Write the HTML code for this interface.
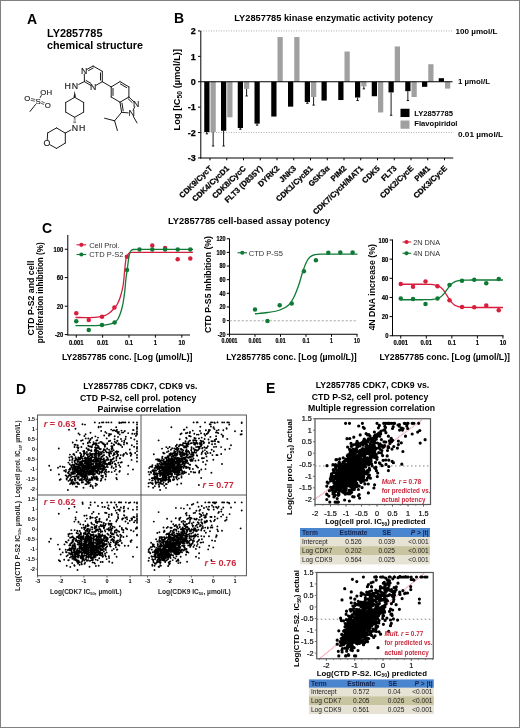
<!DOCTYPE html>
<html><head><meta charset="utf-8"><title>Figure</title>
<style>
html,body{margin:0;padding:0;background:#fff;}
body{width:520px;height:728px;overflow:hidden;position:relative;}
svg{display:block;position:absolute;left:0;top:0;font-family:"Liberation Sans",Arial,Helvetica,sans-serif;}
.frame{position:absolute;left:0;top:0;width:518px;height:726px;border:1px solid #808080;}
</style></head><body>
<svg width="520" height="728" viewBox="0 0 520 728">
<g id="panelA">
<text x="27.00" y="23.60" font-size="14" font-weight="bold">A</text>
<text x="47.00" y="36.60" font-size="10.9" font-weight="bold" textLength="55.50" lengthAdjust="spacingAndGlyphs">LY2857785</text>
<text x="47.00" y="48.80" font-size="10.9" font-weight="bold" textLength="96.00" lengthAdjust="spacingAndGlyphs">chemical structure</text>
<g stroke-linecap="round">
<text x="38.20" y="104.01" font-size="7.8" text-anchor="middle" fill="#1a1a1a" stroke="#222" stroke-width="0.15">S</text>
<text x="27.20" y="101.21" font-size="7.8" text-anchor="middle" fill="#1a1a1a" stroke="#222" stroke-width="0.15">O</text>
<text x="47.90" y="107.81" font-size="7.8" text-anchor="middle" fill="#1a1a1a" stroke="#222" stroke-width="0.15">O</text>
<text x="43.20" y="94.81" font-size="7.8" text-anchor="middle" fill="#1a1a1a" stroke="#222" stroke-width="0.15">O</text>
<text x="49.20" y="94.81" font-size="7.8" text-anchor="middle" fill="#1a1a1a" stroke="#222" stroke-width="0.15">H</text>
<line x1="34.93" y1="99.44" x2="31.49" y2="98.56" stroke="#1a1a1a" stroke-width="0.7"/>
<line x1="34.49" y1="101.18" x2="31.05" y2="100.31" stroke="#1a1a1a" stroke-width="0.7"/>
<line x1="41.22" y1="103.35" x2="43.66" y2="104.31" stroke="#1a1a1a" stroke-width="0.7"/>
<line x1="41.88" y1="101.68" x2="44.32" y2="102.63" stroke="#1a1a1a" stroke-width="0.7"/>
<line x1="40.21" y1="97.51" x2="41.29" y2="95.51" stroke="#1a1a1a" stroke-width="1.0"/>
<line x1="35.58" y1="104.49" x2="30.00" y2="111.50" stroke="#1a1a1a" stroke-width="1.0"/>
<line x1="86.93" y1="69.36" x2="93.10" y2="66.00" stroke="#1a1a1a" stroke-width="1.0"/>
<line x1="88.54" y1="70.54" x2="93.22" y2="67.98" stroke="#1a1a1a" stroke-width="1.0"/>
<line x1="93.10" y1="66.00" x2="102.30" y2="71.30" stroke="#1a1a1a" stroke-width="1.0"/>
<line x1="102.30" y1="71.30" x2="102.30" y2="81.70" stroke="#1a1a1a" stroke-width="1.0"/>
<line x1="100.50" y1="72.86" x2="100.50" y2="80.14" stroke="#1a1a1a" stroke-width="1.0"/>
<line x1="102.30" y1="81.70" x2="95.90" y2="85.40" stroke="#1a1a1a" stroke-width="1.0"/>
<line x1="90.72" y1="85.37" x2="84.40" y2="81.60" stroke="#1a1a1a" stroke-width="1.0"/>
<line x1="90.88" y1="83.37" x2="86.08" y2="80.51" stroke="#1a1a1a" stroke-width="1.0"/>
<line x1="84.40" y1="81.60" x2="84.33" y2="74.00" stroke="#1a1a1a" stroke-width="1.0"/>
<text x="84.30" y="73.97" font-size="8.8" text-anchor="middle" fill="#1a1a1a" stroke="#222" stroke-width="0.15">N</text>
<text x="93.30" y="90.07" font-size="8.8" text-anchor="middle" fill="#1a1a1a" stroke="#222" stroke-width="0.15">N</text>
<text x="74.85" y="89.37" font-size="8.8" text-anchor="middle" fill="#1a1a1a" stroke="#222" stroke-width="0.15">N</text>
<text x="67.75" y="89.37" font-size="8.8" text-anchor="middle" fill="#1a1a1a" stroke="#222" stroke-width="0.15">H</text>
<line x1="78.73" y1="84.40" x2="84.40" y2="81.60" stroke="#1a1a1a" stroke-width="1.0"/>
<line x1="74.70" y1="97.30" x2="83.65" y2="102.50" stroke="#1a1a1a" stroke-width="1.0"/>
<line x1="83.65" y1="102.50" x2="83.65" y2="112.10" stroke="#1a1a1a" stroke-width="1.0"/>
<line x1="83.65" y1="112.10" x2="74.70" y2="117.30" stroke="#1a1a1a" stroke-width="1.0"/>
<line x1="74.70" y1="117.30" x2="65.70" y2="112.10" stroke="#1a1a1a" stroke-width="1.0"/>
<line x1="65.70" y1="112.10" x2="65.70" y2="102.50" stroke="#1a1a1a" stroke-width="1.0"/>
<line x1="65.70" y1="102.50" x2="74.70" y2="97.30" stroke="#1a1a1a" stroke-width="1.0"/>
<polygon points="74.7,90.8 75.9,97.3 73.5,97.3" fill="#1a1a1a"/>
<line x1="74.30" y1="118.40" x2="75.10" y2="118.40" stroke="#1a1a1a" stroke-width="0.55"/>
<line x1="74.08" y1="119.80" x2="75.32" y2="119.80" stroke="#1a1a1a" stroke-width="0.55"/>
<line x1="73.86" y1="121.20" x2="75.54" y2="121.20" stroke="#1a1a1a" stroke-width="0.55"/>
<line x1="73.64" y1="122.60" x2="75.76" y2="122.60" stroke="#1a1a1a" stroke-width="0.55"/>
<text x="74.85" y="131.07" font-size="8.8" text-anchor="middle" fill="#1a1a1a" stroke="#222" stroke-width="0.15">N</text>
<text x="82.20" y="131.07" font-size="8.8" text-anchor="middle" fill="#1a1a1a" stroke="#222" stroke-width="0.15">H</text>
<line x1="70.86" y1="129.97" x2="65.30" y2="133.10" stroke="#1a1a1a" stroke-width="1.0"/>
<line x1="65.30" y1="133.10" x2="56.50" y2="127.90" stroke="#1a1a1a" stroke-width="1.0"/>
<line x1="56.50" y1="127.90" x2="47.70" y2="132.90" stroke="#1a1a1a" stroke-width="1.0"/>
<line x1="47.70" y1="132.90" x2="47.23" y2="139.71" stroke="#1a1a1a" stroke-width="1.0"/>
<line x1="49.79" y1="144.66" x2="56.50" y2="148.40" stroke="#1a1a1a" stroke-width="1.0"/>
<line x1="56.50" y1="148.40" x2="65.30" y2="143.10" stroke="#1a1a1a" stroke-width="1.0"/>
<line x1="65.30" y1="143.10" x2="65.30" y2="133.10" stroke="#1a1a1a" stroke-width="1.0"/>
<text x="47.00" y="146.27" font-size="8.8" text-anchor="middle" fill="#1a1a1a" stroke="#222" stroke-width="0.15">O</text>
<line x1="102.30" y1="81.70" x2="111.20" y2="86.90" stroke="#1a1a1a" stroke-width="1.0"/>
<line x1="111.20" y1="86.90" x2="120.00" y2="81.60" stroke="#1a1a1a" stroke-width="1.0"/>
<line x1="120.00" y1="81.60" x2="128.90" y2="86.90" stroke="#1a1a1a" stroke-width="1.0"/>
<line x1="120.41" y1="83.94" x2="126.64" y2="87.65" stroke="#1a1a1a" stroke-width="1.0"/>
<line x1="128.90" y1="86.90" x2="128.90" y2="97.00" stroke="#1a1a1a" stroke-width="1.0"/>
<line x1="128.90" y1="97.00" x2="120.00" y2="102.20" stroke="#1a1a1a" stroke-width="1.0"/>
<line x1="120.00" y1="102.20" x2="111.20" y2="97.00" stroke="#1a1a1a" stroke-width="1.0"/>
<line x1="111.20" y1="97.00" x2="111.20" y2="86.90" stroke="#1a1a1a" stroke-width="1.0"/>
<line x1="113.00" y1="95.48" x2="113.00" y2="88.42" stroke="#1a1a1a" stroke-width="1.0"/>
<line x1="128.90" y1="97.00" x2="133.87" y2="101.70" stroke="#1a1a1a" stroke-width="1.0"/>
<line x1="128.16" y1="98.78" x2="132.14" y2="102.54" stroke="#1a1a1a" stroke-width="1.0"/>
<line x1="134.74" y1="106.86" x2="133.06" y2="110.24" stroke="#1a1a1a" stroke-width="1.0"/>
<line x1="128.21" y1="112.90" x2="121.60" y2="112.30" stroke="#1a1a1a" stroke-width="1.0"/>
<line x1="121.60" y1="112.30" x2="120.00" y2="102.20" stroke="#1a1a1a" stroke-width="1.0"/>
<line x1="123.19" y1="110.81" x2="121.97" y2="103.13" stroke="#1a1a1a" stroke-width="1.0"/>
<text x="136.20" y="107.07" font-size="8.8" text-anchor="middle" fill="#1a1a1a" stroke="#222" stroke-width="0.15">N</text>
<text x="131.60" y="116.37" font-size="8.8" text-anchor="middle" fill="#1a1a1a" stroke="#222" stroke-width="0.15">N</text>
<line x1="133.35" y1="116.35" x2="137.00" y2="122.90" stroke="#1a1a1a" stroke-width="1.0"/>
<line x1="121.60" y1="112.30" x2="114.60" y2="120.80" stroke="#1a1a1a" stroke-width="1.0"/>
<line x1="114.60" y1="120.80" x2="104.60" y2="118.20" stroke="#1a1a1a" stroke-width="1.0"/>
<line x1="114.60" y1="120.80" x2="117.40" y2="130.50" stroke="#1a1a1a" stroke-width="1.0"/>
</g>
</g>
<g id="panelB">
<text x="174.00" y="23.40" font-size="14" font-weight="bold">B</text>
<text x="234.25" y="20.60" font-size="9.3" font-weight="bold" textLength="198.75" lengthAdjust="spacingAndGlyphs">LY2857785 kinase enzymatic activity potency</text>
<line x1="201.00" y1="30.95" x2="452.50" y2="30.95" stroke="#999" stroke-width="0.8" stroke-dasharray="1 1.5"/>
<line x1="201.00" y1="132.55" x2="452.50" y2="132.55" stroke="#999" stroke-width="0.8" stroke-dasharray="1 1.5"/>
<rect x="210.50" y="81.75" width="5.25" height="50.29" fill="#a0a0a0"/>
<line x1="213.10" y1="132.04" x2="213.10" y2="146.01" stroke="#000" stroke-width="0.9"/>
<line x1="211.90" y1="146.01" x2="214.30" y2="146.01" stroke="#000" stroke-width="0.9"/>
<rect x="204.25" y="81.75" width="5.25" height="50.29" fill="#000"/>
<line x1="206.85" y1="132.04" x2="206.85" y2="133.82" stroke="#000" stroke-width="0.9"/>
<line x1="205.65" y1="133.82" x2="208.05" y2="133.82" stroke="#000" stroke-width="0.9"/>
<rect x="227.25" y="81.75" width="5.25" height="35.56" fill="#a0a0a0"/>
<rect x="221.00" y="81.75" width="5.25" height="49.02" fill="#000"/>
<line x1="223.60" y1="130.77" x2="223.60" y2="146.01" stroke="#000" stroke-width="0.9"/>
<line x1="222.40" y1="146.01" x2="224.80" y2="146.01" stroke="#000" stroke-width="0.9"/>
<rect x="244.00" y="81.75" width="5.25" height="7.11" fill="#a0a0a0"/>
<line x1="246.60" y1="88.86" x2="246.60" y2="95.97" stroke="#000" stroke-width="0.9"/>
<line x1="245.40" y1="95.97" x2="247.80" y2="95.97" stroke="#000" stroke-width="0.9"/>
<rect x="237.75" y="81.75" width="5.25" height="46.23" fill="#000"/>
<line x1="240.35" y1="127.98" x2="240.35" y2="129.25" stroke="#000" stroke-width="0.9"/>
<line x1="239.15" y1="129.25" x2="241.55" y2="129.25" stroke="#000" stroke-width="0.9"/>
<rect x="254.50" y="81.75" width="5.25" height="41.91" fill="#000"/>
<line x1="257.10" y1="123.66" x2="257.10" y2="125.18" stroke="#000" stroke-width="0.9"/>
<line x1="255.90" y1="125.18" x2="258.30" y2="125.18" stroke="#000" stroke-width="0.9"/>
<rect x="277.50" y="37.05" width="5.25" height="44.70" fill="#a0a0a0"/>
<rect x="271.25" y="81.75" width="5.25" height="34.80" fill="#000"/>
<rect x="294.25" y="37.05" width="5.25" height="44.70" fill="#a0a0a0"/>
<rect x="288.00" y="81.75" width="5.25" height="24.89" fill="#000"/>
<rect x="311.00" y="81.75" width="5.25" height="15.24" fill="#a0a0a0"/>
<line x1="313.60" y1="96.99" x2="313.60" y2="105.12" stroke="#000" stroke-width="0.9"/>
<line x1="312.40" y1="105.12" x2="314.80" y2="105.12" stroke="#000" stroke-width="0.9"/>
<rect x="304.75" y="81.75" width="5.25" height="20.32" fill="#000"/>
<line x1="307.35" y1="102.07" x2="307.35" y2="103.34" stroke="#000" stroke-width="0.9"/>
<line x1="306.15" y1="103.34" x2="308.55" y2="103.34" stroke="#000" stroke-width="0.9"/>
<rect x="321.50" y="81.75" width="5.25" height="18.80" fill="#000"/>
<rect x="344.50" y="51.52" width="5.25" height="30.23" fill="#a0a0a0"/>
<rect x="338.25" y="81.75" width="5.25" height="18.29" fill="#000"/>
<rect x="361.25" y="81.75" width="5.25" height="4.57" fill="#a0a0a0"/>
<line x1="363.85" y1="86.32" x2="363.85" y2="88.86" stroke="#000" stroke-width="0.9"/>
<line x1="362.65" y1="88.86" x2="365.05" y2="88.86" stroke="#000" stroke-width="0.9"/>
<rect x="355.00" y="81.75" width="5.25" height="15.75" fill="#000"/>
<line x1="357.60" y1="97.50" x2="357.60" y2="100.55" stroke="#000" stroke-width="0.9"/>
<line x1="356.40" y1="100.55" x2="358.80" y2="100.55" stroke="#000" stroke-width="0.9"/>
<rect x="378.00" y="81.75" width="5.25" height="30.73" fill="#a0a0a0"/>
<rect x="371.75" y="81.75" width="5.25" height="14.48" fill="#000"/>
<rect x="394.75" y="46.44" width="5.25" height="35.31" fill="#a0a0a0"/>
<rect x="388.50" y="81.75" width="5.25" height="10.67" fill="#000"/>
<line x1="391.10" y1="92.42" x2="391.10" y2="115.28" stroke="#000" stroke-width="0.9"/>
<line x1="389.90" y1="115.28" x2="392.30" y2="115.28" stroke="#000" stroke-width="0.9"/>
<rect x="411.50" y="81.75" width="5.25" height="15.24" fill="#a0a0a0"/>
<rect x="405.25" y="81.75" width="5.25" height="9.40" fill="#000"/>
<line x1="407.85" y1="91.15" x2="407.85" y2="100.55" stroke="#000" stroke-width="0.9"/>
<line x1="406.65" y1="100.55" x2="409.05" y2="100.55" stroke="#000" stroke-width="0.9"/>
<rect x="428.25" y="64.22" width="5.25" height="17.53" fill="#a0a0a0"/>
<rect x="422.00" y="81.75" width="5.25" height="5.08" fill="#000"/>
<rect x="445.00" y="81.75" width="5.25" height="6.86" fill="#a0a0a0"/>
<rect x="438.75" y="78.19" width="5.25" height="3.56" fill="#000"/>
<line x1="200.80" y1="31.00" x2="200.80" y2="158.50" stroke="#000" stroke-width="1"/>
<line x1="200.50" y1="81.75" x2="452.50" y2="81.75" stroke="#000" stroke-width="1"/>
<line x1="200.00" y1="158.00" x2="453.25" y2="158.00" stroke="#000" stroke-width="1"/>
<line x1="198.00" y1="30.95" x2="200.50" y2="30.95" stroke="#000" stroke-width="1"/>
<text x="195.80" y="34.15" font-size="9.0" font-weight="bold" text-anchor="end" stroke="#000" stroke-width="0.25">2</text>
<line x1="198.00" y1="56.35" x2="200.50" y2="56.35" stroke="#000" stroke-width="1"/>
<text x="195.80" y="59.55" font-size="9.0" font-weight="bold" text-anchor="end" stroke="#000" stroke-width="0.25">1</text>
<line x1="198.00" y1="81.75" x2="200.50" y2="81.75" stroke="#000" stroke-width="1"/>
<text x="195.80" y="84.95" font-size="9.0" font-weight="bold" text-anchor="end" stroke="#000" stroke-width="0.25">0</text>
<line x1="198.00" y1="107.15" x2="200.50" y2="107.15" stroke="#000" stroke-width="1"/>
<text x="195.80" y="110.35" font-size="9.0" font-weight="bold" text-anchor="end" stroke="#000" stroke-width="0.25">-1</text>
<line x1="198.00" y1="132.55" x2="200.50" y2="132.55" stroke="#000" stroke-width="1"/>
<text x="195.80" y="135.75" font-size="9.0" font-weight="bold" text-anchor="end" stroke="#000" stroke-width="0.25">-2</text>
<line x1="198.00" y1="157.95" x2="200.50" y2="157.95" stroke="#000" stroke-width="1"/>
<text x="195.80" y="161.15" font-size="9.0" font-weight="bold" text-anchor="end" stroke="#000" stroke-width="0.25">-3</text>
<line x1="210.00" y1="158.00" x2="210.00" y2="160.30" stroke="#000" stroke-width="1"/>
<text x="212.90" y="169.00" font-size="7.8" font-weight="bold" text-anchor="end" transform="rotate(-44 212.90 169.00)" stroke="#000" stroke-width="0.25">CDK9/CycT</text>
<line x1="226.75" y1="158.00" x2="226.75" y2="160.30" stroke="#000" stroke-width="1"/>
<text x="229.65" y="169.00" font-size="7.8" font-weight="bold" text-anchor="end" transform="rotate(-44 229.65 169.00)" stroke="#000" stroke-width="0.25">CDK4/CycD1</text>
<line x1="243.50" y1="158.00" x2="243.50" y2="160.30" stroke="#000" stroke-width="1"/>
<text x="246.40" y="169.00" font-size="7.8" font-weight="bold" text-anchor="end" transform="rotate(-44 246.40 169.00)" stroke="#000" stroke-width="0.25">CDK8/CycC</text>
<line x1="260.25" y1="158.00" x2="260.25" y2="160.30" stroke="#000" stroke-width="1"/>
<text x="263.15" y="169.00" font-size="7.8" font-weight="bold" text-anchor="end" transform="rotate(-44 263.15 169.00)" stroke="#000" stroke-width="0.25">FLT3 (D835Y)</text>
<line x1="277.00" y1="158.00" x2="277.00" y2="160.30" stroke="#000" stroke-width="1"/>
<text x="279.90" y="169.00" font-size="7.8" font-weight="bold" text-anchor="end" transform="rotate(-44 279.90 169.00)" stroke="#000" stroke-width="0.25">DYRK2</text>
<line x1="293.75" y1="158.00" x2="293.75" y2="160.30" stroke="#000" stroke-width="1"/>
<text x="296.65" y="169.00" font-size="7.8" font-weight="bold" text-anchor="end" transform="rotate(-44 296.65 169.00)" stroke="#000" stroke-width="0.25">JNK3</text>
<line x1="310.50" y1="158.00" x2="310.50" y2="160.30" stroke="#000" stroke-width="1"/>
<text x="313.40" y="169.00" font-size="7.8" font-weight="bold" text-anchor="end" transform="rotate(-44 313.40 169.00)" stroke="#000" stroke-width="0.25">CDK1/CycB1</text>
<line x1="327.25" y1="158.00" x2="327.25" y2="160.30" stroke="#000" stroke-width="1"/>
<text x="330.15" y="169.00" font-size="7.8" font-weight="bold" text-anchor="end" transform="rotate(-44 330.15 169.00)" stroke="#000" stroke-width="0.25">GSK3α</text>
<line x1="344.00" y1="158.00" x2="344.00" y2="160.30" stroke="#000" stroke-width="1"/>
<text x="346.90" y="169.00" font-size="7.8" font-weight="bold" text-anchor="end" transform="rotate(-44 346.90 169.00)" stroke="#000" stroke-width="0.25">PIM2</text>
<line x1="360.75" y1="158.00" x2="360.75" y2="160.30" stroke="#000" stroke-width="1"/>
<text x="363.65" y="169.00" font-size="7.8" font-weight="bold" text-anchor="end" transform="rotate(-44 363.65 169.00)" stroke="#000" stroke-width="0.25">CDK7/CycH/MAT1</text>
<line x1="377.50" y1="158.00" x2="377.50" y2="160.30" stroke="#000" stroke-width="1"/>
<text x="380.40" y="169.00" font-size="7.8" font-weight="bold" text-anchor="end" transform="rotate(-44 380.40 169.00)" stroke="#000" stroke-width="0.25">CDK5</text>
<line x1="394.25" y1="158.00" x2="394.25" y2="160.30" stroke="#000" stroke-width="1"/>
<text x="397.15" y="169.00" font-size="7.8" font-weight="bold" text-anchor="end" transform="rotate(-44 397.15 169.00)" stroke="#000" stroke-width="0.25">FLT3</text>
<line x1="411.00" y1="158.00" x2="411.00" y2="160.30" stroke="#000" stroke-width="1"/>
<text x="413.90" y="169.00" font-size="7.8" font-weight="bold" text-anchor="end" transform="rotate(-44 413.90 169.00)" stroke="#000" stroke-width="0.25">CDK2/CycE</text>
<line x1="427.75" y1="158.00" x2="427.75" y2="160.30" stroke="#000" stroke-width="1"/>
<text x="430.65" y="169.00" font-size="7.8" font-weight="bold" text-anchor="end" transform="rotate(-44 430.65 169.00)" stroke="#000" stroke-width="0.25">PIM1</text>
<line x1="444.50" y1="158.00" x2="444.50" y2="160.30" stroke="#000" stroke-width="1"/>
<text x="447.40" y="169.00" font-size="7.8" font-weight="bold" text-anchor="end" transform="rotate(-44 447.40 169.00)" stroke="#000" stroke-width="0.25">CDK3/CycE</text>
<text transform="translate(180.2 89.7) rotate(-90)" font-size="9.3" font-weight="bold" text-anchor="middle" textLength="81.4" lengthAdjust="spacingAndGlyphs">Log [IC<tspan font-size="6.8" dy="1.6">50</tspan><tspan dy="-1.6"> (µmol/L)]</tspan></text>
<text x="455.50" y="34.30" font-size="8.1" font-weight="bold" textLength="42.00" lengthAdjust="spacingAndGlyphs">100 µmol/L</text>
<text x="458.00" y="84.30" font-size="8.1" font-weight="bold" textLength="32.00" lengthAdjust="spacingAndGlyphs">1 µmol/L</text>
<text x="458.00" y="136.60" font-size="8.1" font-weight="bold" textLength="45.00" lengthAdjust="spacingAndGlyphs">0.01 µmol/L</text>
<rect x="400.50" y="108.75" width="9.00" height="8.25" fill="#000"/>
<rect x="400.50" y="120.50" width="9.00" height="8.25" fill="#a0a0a0"/>
<text x="414.25" y="116.00" font-size="7.6" font-weight="bold" textLength="38.75" lengthAdjust="spacingAndGlyphs">LY2857785</text>
<text x="414.25" y="126.20" font-size="7.6" font-weight="bold" textLength="43.25" lengthAdjust="spacingAndGlyphs">Flavopiridol</text>
</g>
<g id="panelC">
<text x="42.00" y="232.60" font-size="14" font-weight="bold">C</text>
<text x="168.00" y="224.40" font-size="9.3" font-weight="bold" textLength="162.20" lengthAdjust="spacingAndGlyphs">LY2857785 cell-based assay potency</text>
<line x1="67.80" y1="235.00" x2="67.80" y2="335.50" stroke="#000" stroke-width="1"/>
<line x1="67.80" y1="335.00" x2="190.00" y2="335.00" stroke="#000" stroke-width="1"/>
<line x1="64.80" y1="249.25" x2="67.80" y2="249.25" stroke="#000" stroke-width="1"/>
<text x="63.40" y="251.75" font-size="7.0" font-weight="bold" text-anchor="end" textLength="9.81" lengthAdjust="spacingAndGlyphs" stroke="#000" stroke-width="0.2">100</text>
<line x1="64.80" y1="277.60" x2="67.80" y2="277.60" stroke="#000" stroke-width="1"/>
<text x="63.40" y="280.10" font-size="7.0" font-weight="bold" text-anchor="end" textLength="6.54" lengthAdjust="spacingAndGlyphs" stroke="#000" stroke-width="0.2">60</text>
<line x1="64.80" y1="306.20" x2="67.80" y2="306.20" stroke="#000" stroke-width="1"/>
<text x="63.40" y="308.70" font-size="7.0" font-weight="bold" text-anchor="end" textLength="6.54" lengthAdjust="spacingAndGlyphs" stroke="#000" stroke-width="0.2">20</text>
<line x1="64.80" y1="334.60" x2="67.80" y2="334.60" stroke="#000" stroke-width="1"/>
<text x="63.40" y="337.10" font-size="7.0" font-weight="bold" text-anchor="end" textLength="8.50" lengthAdjust="spacingAndGlyphs" stroke="#000" stroke-width="0.2">-20</text>
<line x1="76.25" y1="335.00" x2="76.25" y2="337.70" stroke="#000" stroke-width="1"/>
<text x="76.25" y="345.00" font-size="7.0" font-weight="bold" text-anchor="middle" textLength="14.71" lengthAdjust="spacingAndGlyphs" stroke="#000" stroke-width="0.2">0.001</text>
<line x1="102.60" y1="335.00" x2="102.60" y2="337.70" stroke="#000" stroke-width="1"/>
<text x="102.60" y="345.00" font-size="7.0" font-weight="bold" text-anchor="middle" textLength="11.44" lengthAdjust="spacingAndGlyphs" stroke="#000" stroke-width="0.2">0.01</text>
<line x1="129.00" y1="335.00" x2="129.00" y2="337.70" stroke="#000" stroke-width="1"/>
<text x="129.00" y="345.00" font-size="7.0" font-weight="bold" text-anchor="middle" textLength="8.17" lengthAdjust="spacingAndGlyphs" stroke="#000" stroke-width="0.2">0.1</text>
<line x1="155.40" y1="335.00" x2="155.40" y2="337.70" stroke="#000" stroke-width="1"/>
<text x="155.40" y="345.00" font-size="7.0" font-weight="bold" text-anchor="middle" textLength="3.27" lengthAdjust="spacingAndGlyphs" stroke="#000" stroke-width="0.2">1</text>
<line x1="181.80" y1="335.00" x2="181.80" y2="337.70" stroke="#000" stroke-width="1"/>
<text x="181.80" y="345.00" font-size="7.0" font-weight="bold" text-anchor="middle" textLength="6.54" lengthAdjust="spacingAndGlyphs" stroke="#000" stroke-width="0.2">10</text>
<text x="62.00" y="360.40" font-size="8.7" font-weight="bold" textLength="130.50" lengthAdjust="spacingAndGlyphs">LY2857785 conc. [Log (µmol/L)]</text>
<text transform="translate(33.5 298) rotate(-90)" font-size="8.7" font-weight="bold" text-anchor="middle" textLength="75" lengthAdjust="spacingAndGlyphs">CTD P-S2 and cell</text>
<text transform="translate(43.4 292.8) rotate(-90)" font-size="8.6" font-weight="bold" text-anchor="middle" textLength="101" lengthAdjust="spacingAndGlyphs">proliferation inhibition (%)</text>
<path d="M75.50,317.50C78.75,317.48 90.30,317.68 95.00,317.40C99.70,317.12 101.30,316.55 103.70,315.80C106.10,315.05 107.60,314.22 109.40,312.90C111.20,311.58 113.17,309.38 114.50,307.90C115.83,306.42 116.43,305.82 117.40,304.00C118.37,302.18 119.35,300.08 120.30,297.00C121.25,293.92 122.38,289.83 123.10,285.50C123.82,281.17 124.12,275.45 124.60,271.00C125.08,266.55 125.50,261.47 126.00,258.80C126.50,256.13 127.00,255.98 127.60,255.00C128.20,254.02 128.95,253.35 129.60,252.90C130.25,252.45 131.18,252.40 131.50,252.30L193,252.3" fill="none" stroke="#d81e3c" stroke-width="1.3"/>
<circle cx="76.25" cy="313.25" r="2.25" fill="#d81e3c"/>
<circle cx="88.75" cy="320.00" r="2.25" fill="#d81e3c"/>
<circle cx="102.00" cy="316.75" r="2.25" fill="#d81e3c"/>
<circle cx="114.40" cy="307.40" r="2.25" fill="#d81e3c"/>
<circle cx="126.90" cy="256.75" r="2.25" fill="#d81e3c"/>
<circle cx="152.30" cy="245.40" r="2.25" fill="#d81e3c"/>
<circle cx="165.10" cy="248.10" r="2.25" fill="#d81e3c"/>
<circle cx="177.70" cy="259.30" r="2.25" fill="#d81e3c"/>
<circle cx="190.30" cy="258.40" r="2.25" fill="#d81e3c"/>
<path d="M75.50,325.70C78.75,325.68 90.30,325.68 95.00,325.60C99.70,325.52 101.05,325.48 103.70,325.20C106.35,324.92 109.05,324.38 110.90,323.90C112.75,323.42 113.60,323.17 114.80,322.30C116.00,321.43 117.07,320.50 118.10,318.70C119.13,316.90 120.17,314.15 121.00,311.50C121.83,308.85 122.50,305.93 123.10,302.80C123.70,299.67 124.12,296.78 124.60,292.70C125.08,288.62 125.57,282.08 126.00,278.30C126.43,274.52 126.78,273.13 127.20,270.00C127.62,266.87 128.10,262.23 128.50,259.50C128.90,256.77 129.18,255.08 129.60,253.60C130.02,252.12 130.40,251.28 131.00,250.60C131.60,249.92 131.98,249.72 133.20,249.50C134.42,249.28 137.45,249.33 138.30,249.30L193,249.4" fill="none" stroke="#0f7a35" stroke-width="1.3"/>
<circle cx="76.25" cy="321.25" r="2.25" fill="#0f7a35"/>
<circle cx="88.75" cy="330.00" r="2.25" fill="#0f7a35"/>
<circle cx="102.00" cy="325.00" r="2.25" fill="#0f7a35"/>
<circle cx="114.60" cy="322.40" r="2.25" fill="#0f7a35"/>
<circle cx="127.00" cy="270.00" r="2.25" fill="#0f7a35"/>
<circle cx="139.50" cy="249.50" r="2.25" fill="#0f7a35"/>
<circle cx="152.30" cy="249.50" r="2.25" fill="#0f7a35"/>
<circle cx="165.10" cy="249.50" r="2.25" fill="#0f7a35"/>
<circle cx="177.70" cy="249.50" r="2.25" fill="#0f7a35"/>
<circle cx="190.30" cy="249.50" r="2.25" fill="#0f7a35"/>
<line x1="76.50" y1="244.80" x2="86.20" y2="244.80" stroke="#d81e3c" stroke-width="1.1"/>
<circle cx="81.40" cy="244.80" r="2.1" fill="#d81e3c"/>
<line x1="76.50" y1="254.50" x2="86.20" y2="254.50" stroke="#0f7a35" stroke-width="1.1"/>
<circle cx="81.40" cy="254.50" r="2.1" fill="#0f7a35"/>
<text x="89.20" y="247.50" font-size="7.5" fill="#333">Cell Prol.</text>
<text x="89.20" y="257.20" font-size="7.5" fill="#333">CTD P-S2</text>
<line x1="229.50" y1="238.50" x2="229.50" y2="334.70" stroke="#000" stroke-width="1"/>
<line x1="229.50" y1="334.25" x2="357.50" y2="334.25" stroke="#000" stroke-width="1"/>
<line x1="226.80" y1="238.75" x2="229.50" y2="238.75" stroke="#000" stroke-width="1"/>
<text x="225.60" y="241.05" font-size="6.5" font-weight="bold" text-anchor="end" textLength="9.11" lengthAdjust="spacingAndGlyphs" stroke="#000" stroke-width="0.2">120</text>
<line x1="226.80" y1="252.39" x2="229.50" y2="252.39" stroke="#000" stroke-width="1"/>
<text x="225.60" y="254.69" font-size="6.5" font-weight="bold" text-anchor="end" textLength="9.11" lengthAdjust="spacingAndGlyphs" stroke="#000" stroke-width="0.2">100</text>
<line x1="226.80" y1="266.04" x2="229.50" y2="266.04" stroke="#000" stroke-width="1"/>
<text x="225.60" y="268.34" font-size="6.5" font-weight="bold" text-anchor="end" textLength="6.07" lengthAdjust="spacingAndGlyphs" stroke="#000" stroke-width="0.2">80</text>
<line x1="226.80" y1="279.68" x2="229.50" y2="279.68" stroke="#000" stroke-width="1"/>
<text x="225.60" y="281.98" font-size="6.5" font-weight="bold" text-anchor="end" textLength="6.07" lengthAdjust="spacingAndGlyphs" stroke="#000" stroke-width="0.2">60</text>
<line x1="226.80" y1="293.32" x2="229.50" y2="293.32" stroke="#000" stroke-width="1"/>
<text x="225.60" y="295.62" font-size="6.5" font-weight="bold" text-anchor="end" textLength="6.07" lengthAdjust="spacingAndGlyphs" stroke="#000" stroke-width="0.2">40</text>
<line x1="226.80" y1="306.97" x2="229.50" y2="306.97" stroke="#000" stroke-width="1"/>
<text x="225.60" y="309.27" font-size="6.5" font-weight="bold" text-anchor="end" textLength="6.07" lengthAdjust="spacingAndGlyphs" stroke="#000" stroke-width="0.2">20</text>
<line x1="226.80" y1="320.61" x2="229.50" y2="320.61" stroke="#000" stroke-width="1"/>
<text x="225.60" y="322.91" font-size="6.5" font-weight="bold" text-anchor="end" textLength="3.04" lengthAdjust="spacingAndGlyphs" stroke="#000" stroke-width="0.2">0</text>
<line x1="226.80" y1="334.25" x2="229.50" y2="334.25" stroke="#000" stroke-width="1"/>
<text x="225.60" y="336.55" font-size="6.5" font-weight="bold" text-anchor="end" textLength="7.89" lengthAdjust="spacingAndGlyphs" stroke="#000" stroke-width="0.2">-20</text>
<line x1="229.50" y1="320.75" x2="357.50" y2="320.75" stroke="#aaa" stroke-width="0.9" stroke-dasharray="2.5 1.5"/>
<line x1="229.50" y1="334.25" x2="229.50" y2="336.80" stroke="#000" stroke-width="1"/>
<text x="229.50" y="342.90" font-size="6.5" font-weight="bold" text-anchor="middle" textLength="15.90" lengthAdjust="spacingAndGlyphs" stroke="#000" stroke-width="0.2">0.0001</text>
<line x1="255.00" y1="334.25" x2="255.00" y2="336.80" stroke="#000" stroke-width="1"/>
<text x="255.00" y="342.90" font-size="6.5" font-weight="bold" text-anchor="middle" textLength="13.01" lengthAdjust="spacingAndGlyphs" stroke="#000" stroke-width="0.2">0.001</text>
<line x1="280.50" y1="334.25" x2="280.50" y2="336.80" stroke="#000" stroke-width="1"/>
<text x="280.50" y="342.90" font-size="6.5" font-weight="bold" text-anchor="middle" textLength="10.12" lengthAdjust="spacingAndGlyphs" stroke="#000" stroke-width="0.2">0.01</text>
<line x1="306.00" y1="334.25" x2="306.00" y2="336.80" stroke="#000" stroke-width="1"/>
<text x="306.00" y="342.90" font-size="6.5" font-weight="bold" text-anchor="middle" textLength="7.23" lengthAdjust="spacingAndGlyphs" stroke="#000" stroke-width="0.2">0.1</text>
<line x1="331.50" y1="334.25" x2="331.50" y2="336.80" stroke="#000" stroke-width="1"/>
<text x="331.50" y="342.90" font-size="6.5" font-weight="bold" text-anchor="middle" textLength="2.89" lengthAdjust="spacingAndGlyphs" stroke="#000" stroke-width="0.2">1</text>
<line x1="357.00" y1="334.25" x2="357.00" y2="336.80" stroke="#000" stroke-width="1"/>
<text x="357.00" y="342.90" font-size="6.5" font-weight="bold" text-anchor="middle" textLength="5.78" lengthAdjust="spacingAndGlyphs" stroke="#000" stroke-width="0.2">10</text>
<text x="226.25" y="360.40" font-size="8.7" font-weight="bold" textLength="130.50" lengthAdjust="spacingAndGlyphs">LY2857785 conc. [Log (µmol/L)]</text>
<text transform="translate(211 284.6) rotate(-90)" font-size="8.7" font-weight="bold" text-anchor="middle" textLength="97" lengthAdjust="spacingAndGlyphs">CTD P-S5 Inhibition (%)</text>
<path d="M255.00,313.75C257.08,313.54 263.33,313.12 267.50,312.50C271.67,311.88 276.46,311.25 280.00,310.00C283.54,308.75 286.46,307.08 288.75,305.00C291.04,302.92 292.08,300.83 293.75,297.50C295.42,294.17 297.29,289.17 298.75,285.00C300.21,280.83 301.25,276.25 302.50,272.50C303.75,268.75 305.00,265.08 306.25,262.50C307.50,259.92 308.54,258.32 310.00,257.00C311.46,255.68 312.92,255.08 315.00,254.60C317.08,254.12 321.25,254.18 322.50,254.10L357.5,254.1" fill="none" stroke="#0f7a35" stroke-width="1.3"/>
<circle cx="255.00" cy="309.50" r="2.25" fill="#0f7a35"/>
<circle cx="267.50" cy="321.00" r="2.25" fill="#0f7a35"/>
<circle cx="279.70" cy="305.25" r="2.25" fill="#0f7a35"/>
<circle cx="291.75" cy="303.40" r="2.25" fill="#0f7a35"/>
<circle cx="303.90" cy="271.20" r="2.25" fill="#0f7a35"/>
<circle cx="315.90" cy="260.30" r="2.25" fill="#0f7a35"/>
<circle cx="328.30" cy="252.70" r="2.25" fill="#0f7a35"/>
<circle cx="340.30" cy="252.60" r="2.25" fill="#0f7a35"/>
<circle cx="352.60" cy="252.60" r="2.25" fill="#0f7a35"/>
<line x1="237.50" y1="252.75" x2="247.00" y2="252.75" stroke="#0f7a35" stroke-width="1.1"/>
<circle cx="242.30" cy="252.75" r="2.1" fill="#0f7a35"/>
<text x="248.75" y="255.50" font-size="7.5" fill="#333" textLength="34.25" lengthAdjust="spacingAndGlyphs">CTD P-S5</text>
<line x1="392.50" y1="239.50" x2="392.50" y2="336.20" stroke="#000" stroke-width="1"/>
<line x1="392.50" y1="335.75" x2="503.50" y2="335.75" stroke="#000" stroke-width="1"/>
<line x1="389.60" y1="240.00" x2="392.50" y2="240.00" stroke="#000" stroke-width="1"/>
<text x="388.40" y="242.50" font-size="7.0" font-weight="bold" text-anchor="end" textLength="9.81" lengthAdjust="spacingAndGlyphs" stroke="#000" stroke-width="0.2">100</text>
<line x1="389.60" y1="259.15" x2="392.50" y2="259.15" stroke="#000" stroke-width="1"/>
<text x="388.40" y="261.65" font-size="7.0" font-weight="bold" text-anchor="end" textLength="6.54" lengthAdjust="spacingAndGlyphs" stroke="#000" stroke-width="0.2">80</text>
<line x1="389.60" y1="278.30" x2="392.50" y2="278.30" stroke="#000" stroke-width="1"/>
<text x="388.40" y="280.80" font-size="7.0" font-weight="bold" text-anchor="end" textLength="6.54" lengthAdjust="spacingAndGlyphs" stroke="#000" stroke-width="0.2">60</text>
<line x1="389.60" y1="297.45" x2="392.50" y2="297.45" stroke="#000" stroke-width="1"/>
<text x="388.40" y="299.95" font-size="7.0" font-weight="bold" text-anchor="end" textLength="6.54" lengthAdjust="spacingAndGlyphs" stroke="#000" stroke-width="0.2">40</text>
<line x1="389.60" y1="316.60" x2="392.50" y2="316.60" stroke="#000" stroke-width="1"/>
<text x="388.40" y="319.10" font-size="7.0" font-weight="bold" text-anchor="end" textLength="6.54" lengthAdjust="spacingAndGlyphs" stroke="#000" stroke-width="0.2">20</text>
<line x1="389.60" y1="335.75" x2="392.50" y2="335.75" stroke="#000" stroke-width="1"/>
<text x="388.40" y="338.25" font-size="7.0" font-weight="bold" text-anchor="end" textLength="3.27" lengthAdjust="spacingAndGlyphs" stroke="#000" stroke-width="0.2">0</text>
<line x1="400.75" y1="335.75" x2="400.75" y2="338.50" stroke="#000" stroke-width="1"/>
<text x="400.75" y="344.60" font-size="7.0" font-weight="bold" text-anchor="middle" textLength="14.71" lengthAdjust="spacingAndGlyphs" stroke="#000" stroke-width="0.2">0.001</text>
<line x1="426.30" y1="335.75" x2="426.30" y2="338.50" stroke="#000" stroke-width="1"/>
<text x="426.30" y="344.60" font-size="7.0" font-weight="bold" text-anchor="middle" textLength="11.44" lengthAdjust="spacingAndGlyphs" stroke="#000" stroke-width="0.2">0.01</text>
<line x1="451.85" y1="335.75" x2="451.85" y2="338.50" stroke="#000" stroke-width="1"/>
<text x="451.85" y="344.60" font-size="7.0" font-weight="bold" text-anchor="middle" textLength="8.17" lengthAdjust="spacingAndGlyphs" stroke="#000" stroke-width="0.2">0.1</text>
<line x1="477.40" y1="335.75" x2="477.40" y2="338.50" stroke="#000" stroke-width="1"/>
<text x="477.40" y="344.60" font-size="7.0" font-weight="bold" text-anchor="middle" textLength="3.27" lengthAdjust="spacingAndGlyphs" stroke="#000" stroke-width="0.2">1</text>
<line x1="502.95" y1="335.75" x2="502.95" y2="338.50" stroke="#000" stroke-width="1"/>
<text x="502.95" y="344.60" font-size="7.0" font-weight="bold" text-anchor="middle" textLength="6.54" lengthAdjust="spacingAndGlyphs" stroke="#000" stroke-width="0.2">10</text>
<text x="379.50" y="360.40" font-size="8.7" font-weight="bold" textLength="130.50" lengthAdjust="spacingAndGlyphs">LY2857785 conc. [Log (µmol/L)]</text>
<text transform="translate(374.6 287.3) rotate(-90)" font-size="8.8" font-weight="bold" text-anchor="middle" textLength="86.5" lengthAdjust="spacingAndGlyphs">4N DNA increase (%)</text>
<path d="M400.75,284.25L402.04,284.25L403.34,284.25L404.63,284.25L405.93,284.25L407.22,284.25L408.52,284.25L409.81,284.25L411.10,284.25L412.40,284.25L413.69,284.25L414.99,284.25L416.28,284.25L417.58,284.25L418.87,284.26L420.16,284.26L421.46,284.26L422.75,284.27L424.05,284.28L425.34,284.29L426.64,284.31L427.93,284.34L429.22,284.38L430.52,284.44L431.81,284.52L433.11,284.64L434.40,284.82L435.70,285.06L436.99,285.41L438.28,285.90L439.58,286.57L440.87,287.48L442.17,288.66L443.46,290.15L444.76,291.94L446.05,293.97L447.34,296.12L448.64,298.25L449.93,300.23L451.23,301.96L452.52,303.38L453.82,304.50L455.11,305.35L456.41,305.97L457.70,306.43L458.99,306.75L460.29,306.98L461.58,307.14L462.88,307.25L464.17,307.33L465.47,307.38L466.76,307.42L468.05,307.44L469.35,307.46L470.64,307.47L471.94,307.48L473.23,307.49L474.53,307.49L475.82,307.49L477.11,307.50L478.41,307.50L479.70,307.50L481.00,307.50L482.29,307.50L483.59,307.50L484.88,307.50L486.17,307.50L487.47,307.50L488.76,307.50L490.06,307.50L491.35,307.50L492.65,307.50L493.94,307.50L495.23,307.50L496.53,307.50L497.82,307.50L499.12,307.50L500.41,307.50L501.71,307.50L503.00,307.50" fill="none" stroke="#d81e3c" stroke-width="1.3"/>
<path d="M400.75,299.75L402.04,299.75L403.34,299.75L404.63,299.75L405.93,299.75L407.22,299.75L408.52,299.75L409.81,299.75L411.10,299.75L412.40,299.75L413.69,299.75L414.99,299.75L416.28,299.75L417.58,299.75L418.87,299.74L420.16,299.74L421.46,299.74L422.75,299.73L424.05,299.72L425.34,299.71L426.64,299.69L427.93,299.66L429.22,299.63L430.52,299.57L431.81,299.49L433.11,299.38L434.40,299.21L435.70,298.98L436.99,298.65L438.28,298.19L439.58,297.56L440.87,296.72L442.17,295.64L443.46,294.29L444.76,292.70L446.05,290.94L447.34,289.10L448.64,287.32L449.93,285.69L451.23,284.31L452.52,283.18L453.82,282.31L455.11,281.65L456.41,281.16L457.70,280.82L458.99,280.57L460.29,280.40L461.58,280.27L462.88,280.19L464.17,280.13L465.47,280.09L466.76,280.06L468.05,280.04L469.35,280.03L470.64,280.02L471.94,280.01L473.23,280.01L474.53,280.01L475.82,280.00L477.11,280.00L478.41,280.00L479.70,280.00L481.00,280.00L482.29,280.00L483.59,280.00L484.88,280.00L486.17,280.00L487.47,280.00L488.76,280.00L490.06,280.00L491.35,280.00L492.65,280.00L493.94,280.00L495.23,280.00L496.53,280.00L497.82,280.00L499.12,280.00L500.41,280.00L501.71,280.00L503.00,280.00" fill="none" stroke="#0f7a35" stroke-width="1.3"/>
<circle cx="400.75" cy="284.00" r="2.25" fill="#d81e3c"/>
<circle cx="413.00" cy="286.75" r="2.25" fill="#d81e3c"/>
<circle cx="425.50" cy="281.50" r="2.25" fill="#d81e3c"/>
<circle cx="437.50" cy="286.25" r="2.25" fill="#d81e3c"/>
<circle cx="449.50" cy="300.25" r="2.25" fill="#d81e3c"/>
<circle cx="462.00" cy="307.00" r="2.25" fill="#d81e3c"/>
<circle cx="474.25" cy="307.25" r="2.25" fill="#d81e3c"/>
<circle cx="486.25" cy="305.50" r="2.25" fill="#d81e3c"/>
<circle cx="498.75" cy="310.25" r="2.25" fill="#d81e3c"/>
<circle cx="400.75" cy="298.50" r="2.25" fill="#0f7a35"/>
<circle cx="413.00" cy="299.00" r="2.25" fill="#0f7a35"/>
<circle cx="425.50" cy="304.00" r="2.25" fill="#0f7a35"/>
<circle cx="437.50" cy="298.50" r="2.25" fill="#0f7a35"/>
<circle cx="449.50" cy="285.00" r="2.25" fill="#0f7a35"/>
<circle cx="462.00" cy="280.75" r="2.25" fill="#0f7a35"/>
<circle cx="474.25" cy="279.75" r="2.25" fill="#0f7a35"/>
<circle cx="486.25" cy="283.25" r="2.25" fill="#0f7a35"/>
<circle cx="498.75" cy="279.00" r="2.25" fill="#0f7a35"/>
<line x1="402.50" y1="242.00" x2="411.25" y2="242.00" stroke="#d81e3c" stroke-width="1.1"/>
<circle cx="406.50" cy="242.00" r="2.1" fill="#d81e3c"/>
<line x1="402.50" y1="253.25" x2="411.25" y2="253.25" stroke="#0f7a35" stroke-width="1.1"/>
<circle cx="406.50" cy="253.25" r="2.1" fill="#0f7a35"/>
<text x="413.25" y="244.70" font-size="7.4" fill="#333" textLength="26.75" lengthAdjust="spacingAndGlyphs">2N DNA</text>
<text x="413.25" y="255.95" font-size="7.4" fill="#333" textLength="26.75" lengthAdjust="spacingAndGlyphs">4N DNA</text>
</g>
<g id="panelD">
<text x="16.00" y="394.40" font-size="14" font-weight="bold">D</text>
<text x="140.40" y="388.80" font-size="8.75" font-weight="bold" text-anchor="middle" textLength="114.25" lengthAdjust="spacingAndGlyphs">LY2857785 CDK7, CDK9 vs.</text>
<text x="138.20" y="400.70" font-size="8.75" font-weight="bold" text-anchor="middle" textLength="116.25" lengthAdjust="spacingAndGlyphs">CTD P-S2, cell prol. potency</text>
<text x="139.20" y="412.20" font-size="8.75" font-weight="bold" text-anchor="middle" textLength="83.25" lengthAdjust="spacingAndGlyphs">Pairwise correlation</text>
<path d="M86.8,471.2h0M90.9,465.7h0M85.1,460.2h0M133.0,469.5h0M77.6,459.5h0M73.7,473.9h0M95.1,447.5h0M86.1,480.8h0M83.0,476.4h0M85.6,471.3h0M83.7,472.6h0M80.7,470.2h0M84.3,452.0h0M97.9,467.9h0M108.5,452.4h0M118.3,462.7h0M94.5,477.3h0M95.5,459.8h0M100.9,426.8h0M107.5,459.8h0M115.7,431.0h0M69.7,464.3h0M68.5,473.2h0M83.6,465.8h0M82.0,463.6h0M87.1,467.6h0M82.8,467.0h0M88.1,456.8h0M137.0,457.9h0M91.1,457.9h0M74.0,466.7h0M87.9,466.3h0M71.2,477.2h0M97.7,469.9h0M74.2,471.8h0M117.3,432.0h0M73.8,466.5h0M91.2,473.0h0M100.7,449.3h0M93.8,468.4h0M97.8,471.0h0M86.2,467.6h0M98.7,468.3h0M137.0,451.2h0M100.4,463.1h0M91.7,447.2h0M111.7,472.1h0M94.9,461.1h0M119.4,471.7h0M86.9,451.9h0M99.8,464.0h0M104.3,466.7h0M74.8,462.1h0M70.8,475.3h0M88.0,467.7h0M103.1,455.6h0M94.1,466.5h0M118.2,451.8h0M98.2,470.1h0M75.2,478.8h0M83.5,464.8h0M102.7,470.1h0M106.5,433.1h0M90.8,470.1h0M74.7,478.4h0M88.1,473.9h0M72.1,459.9h0M121.8,462.3h0M88.7,461.8h0M111.4,422.4h0M86.6,448.2h0M73.2,471.2h0M105.4,467.6h0M94.9,453.7h0M103.2,461.7h0M85.4,484.1h0M110.8,460.7h0M98.9,447.2h0M73.7,466.6h0M114.3,461.4h0M99.6,461.0h0M98.8,456.1h0M93.5,465.8h0M80.5,462.4h0M105.4,471.3h0M90.8,466.4h0M83.9,473.0h0M89.3,466.2h0M76.7,470.7h0M86.4,462.5h0M89.2,479.9h0M86.5,465.1h0M58.9,474.4h0M100.1,467.3h0M100.5,452.3h0M101.7,453.9h0M90.0,480.0h0M92.0,471.0h0M79.6,470.7h0M85.5,466.2h0M109.1,434.0h0M84.5,475.8h0M92.0,447.0h0M83.0,467.6h0M90.7,458.6h0M119.7,434.4h0M96.2,476.5h0M78.5,458.4h0M111.8,466.2h0M105.2,471.5h0M76.2,469.0h0M105.4,474.0h0M92.2,471.2h0M99.6,466.6h0M88.6,449.1h0M86.0,462.3h0M75.6,469.2h0M87.4,468.1h0M95.5,459.0h0M88.6,459.1h0M113.2,458.7h0M123.3,455.8h0M91.2,458.4h0M119.2,465.3h0M91.7,464.2h0M95.2,470.7h0M101.7,462.1h0M86.5,458.2h0M96.4,458.4h0M90.3,458.5h0M74.3,464.9h0M93.9,465.4h0M80.6,471.2h0M107.8,467.1h0M97.8,463.4h0M101.3,472.8h0M82.7,465.7h0M119.4,423.0h0M107.2,459.9h0M101.1,466.5h0M109.0,464.3h0M81.1,472.2h0M75.7,444.8h0M112.4,446.2h0M77.6,472.9h0M106.0,476.2h0M137.0,461.5h0M77.5,468.4h0M95.7,449.9h0M65.8,471.8h0M114.8,441.7h0M93.1,468.1h0M88.1,469.4h0M85.5,471.8h0M129.8,449.5h0M93.7,467.1h0M98.9,473.9h0M131.8,445.2h0M90.0,455.0h0M99.9,454.3h0M104.8,446.8h0M120.1,458.3h0M82.7,469.6h0M96.0,456.7h0M88.8,466.1h0M99.0,453.6h0M80.6,467.7h0M98.7,465.2h0M92.6,478.4h0M91.1,447.0h0M84.3,479.6h0M113.9,454.8h0M75.4,479.0h0M88.8,458.8h0M137.0,448.1h0M79.5,468.6h0M105.7,464.1h0M122.3,422.4h0M97.2,459.5h0M92.7,467.2h0M82.0,480.2h0M77.5,470.2h0M86.5,458.6h0M98.7,426.6h0M103.9,449.3h0M103.8,455.3h0M125.5,439.0h0M123.7,422.4h0M107.1,448.9h0M137.0,441.2h0M114.7,454.2h0M76.7,466.5h0M99.6,461.0h0M80.1,462.9h0M74.5,455.1h0M89.8,473.9h0M120.6,462.6h0M107.2,465.0h0M70.4,475.5h0M91.1,459.2h0M96.4,448.8h0M86.7,479.3h0M88.3,445.7h0M87.2,470.6h0M84.6,471.6h0M111.1,453.6h0M88.2,460.5h0M81.1,469.6h0M105.0,463.2h0M82.5,458.8h0M99.2,473.9h0M92.4,471.9h0M88.0,463.7h0M97.8,469.6h0M75.0,473.5h0M92.1,469.9h0M94.6,443.7h0M74.7,462.1h0M111.7,446.8h0M102.3,451.6h0M73.6,482.2h0M98.0,469.0h0M88.3,438.5h0M71.5,480.5h0M75.3,469.3h0M98.1,459.0h0M120.3,466.9h0M83.1,471.3h0M91.9,470.6h0M77.8,474.5h0M119.8,470.9h0M126.8,443.2h0M96.8,457.5h0M72.7,458.5h0M92.2,470.5h0M90.3,460.5h0M81.7,475.2h0M91.1,454.3h0M83.3,451.2h0M91.8,446.4h0M83.6,456.0h0M93.5,442.1h0M91.0,466.0h0M107.3,443.2h0M74.2,483.3h0M60.7,479.2h0M137.0,455.0h0M90.3,466.1h0M93.7,476.7h0M79.4,463.9h0M98.9,458.5h0M80.7,469.6h0M97.8,468.0h0M87.7,466.1h0M83.7,479.6h0M84.1,454.4h0M81.6,464.3h0M80.1,471.1h0M98.2,461.5h0M108.8,441.3h0M98.0,437.6h0M76.4,452.1h0M89.6,471.5h0M104.0,465.5h0M89.8,468.4h0M74.9,476.8h0M89.9,473.8h0M90.7,474.1h0M92.0,473.5h0M115.2,463.9h0M100.4,441.9h0M84.0,461.1h0M101.1,458.1h0M50.8,470.0h0M80.2,463.5h0M109.1,464.2h0M98.9,443.1h0M98.3,460.4h0M74.8,473.1h0M79.8,480.3h0M95.9,464.9h0M115.5,451.9h0M110.4,452.4h0M85.8,458.3h0M86.5,463.5h0M101.6,464.5h0M99.0,467.5h0M89.0,473.1h0M74.5,447.0h0M79.5,467.2h0M72.4,483.1h0M94.9,467.5h0M80.8,475.4h0M111.7,449.6h0M90.9,464.6h0M83.8,461.2h0M80.1,472.2h0M83.8,468.2h0M85.8,469.1h0M89.0,472.8h0M86.0,479.9h0M79.9,470.9h0M78.0,478.7h0M94.6,470.0h0M81.6,457.9h0M122.0,432.6h0M103.1,466.7h0M86.8,454.3h0M87.5,466.7h0M92.1,464.4h0M114.7,471.1h0M71.1,465.4h0M94.3,474.6h0M89.6,464.3h0M96.2,459.7h0M91.1,467.3h0M113.7,468.1h0M108.9,435.8h0M72.4,479.7h0M69.9,479.9h0M86.4,464.7h0M88.6,480.6h0M88.9,474.7h0M78.4,471.4h0M90.0,472.1h0M105.3,479.5h0M91.3,469.1h0M84.8,463.3h0M85.3,471.6h0M87.0,454.7h0M91.3,450.1h0M67.8,477.3h0M97.4,473.1h0M123.4,454.8h0M76.1,459.5h0M95.0,458.9h0M80.4,479.9h0M101.8,453.0h0M96.1,450.5h0M75.9,468.2h0M97.7,479.9h0M103.9,467.8h0M81.5,475.0h0M97.8,469.0h0M102.4,443.3h0M104.0,469.0h0M66.9,476.2h0M110.2,440.8h0M89.6,465.3h0M101.2,466.6h0M89.5,465.3h0M76.6,464.2h0M76.3,458.9h0M83.2,443.8h0M91.8,454.8h0M124.3,440.6h0M74.5,471.6h0M101.2,430.9h0M87.9,443.1h0M86.1,472.8h0M90.1,463.0h0M106.1,469.6h0M71.6,473.2h0M124.0,454.0h0M104.4,472.5h0M93.0,467.1h0M78.9,476.9h0M68.9,475.8h0M71.2,483.2h0M100.5,459.2h0M98.5,447.1h0M93.1,473.5h0M85.3,457.6h0M97.3,466.5h0M96.2,459.6h0M116.3,478.0h0M84.2,474.4h0M93.6,477.5h0M130.5,452.7h0M95.6,485.7h0M79.9,472.1h0M118.9,432.0h0M82.5,471.4h0M91.3,479.6h0M92.1,460.7h0M87.5,464.0h0M116.5,456.7h0M116.5,430.2h0M111.7,443.2h0M88.1,466.4h0M82.5,475.0h0M90.0,472.3h0M84.2,468.2h0M80.1,453.0h0M137.0,433.3h0M105.0,462.2h0M111.0,434.3h0M116.0,466.7h0M88.1,481.2h0M83.0,473.1h0M68.4,462.6h0M76.6,440.4h0M117.5,440.7h0M96.6,452.9h0M137.0,422.4h0M74.6,476.4h0M77.2,471.4h0M104.8,461.1h0M83.8,474.0h0M137.0,446.9h0M81.9,456.7h0M85.9,459.8h0M78.0,450.5h0M96.2,451.6h0M103.2,459.3h0M92.7,444.7h0M82.0,461.3h0M93.9,472.2h0M85.2,474.7h0M60.1,466.4h0M96.7,443.4h0M90.4,460.5h0M123.1,455.1h0M86.5,474.1h0M71.9,456.7h0M91.5,451.1h0M96.1,455.7h0M95.7,466.3h0M93.4,459.6h0M93.2,477.4h0M100.0,467.9h0M90.5,464.4h0M78.0,483.3h0M98.0,463.8h0M117.1,441.0h0M77.6,461.9h0M90.0,442.6h0M86.9,454.1h0M101.0,469.1h0M134.1,446.7h0M110.1,434.6h0M100.3,464.5h0M91.5,470.0h0M87.9,442.8h0M91.3,466.3h0M86.7,476.3h0M108.9,463.1h0M117.0,453.8h0M88.4,450.3h0M91.4,468.6h0M96.4,444.7h0M81.0,476.0h0M116.3,460.3h0M105.6,461.0h0M81.5,473.6h0M97.5,471.0h0M90.8,472.5h0M89.2,456.7h0M76.2,476.3h0M120.9,445.2h0M87.2,469.5h0M94.8,478.8h0M93.8,471.4h0M85.5,474.4h0M111.4,446.3h0M85.8,466.9h0M113.8,457.9h0M90.4,461.7h0M93.3,470.1h0M103.7,462.5h0M99.7,465.1h0M87.9,469.0h0M75.8,470.6h0M112.3,463.2h0M97.0,464.1h0M97.3,461.1h0M93.6,460.8h0M82.0,478.5h0M97.8,478.8h0M137.0,457.4h0M94.9,467.4h0M103.7,443.5h0M89.0,467.7h0M106.7,438.4h0M90.3,470.7h0M79.6,479.9h0M110.3,463.0h0M73.3,454.2h0M89.9,468.2h0M92.2,467.9h0M88.7,483.5h0M86.3,470.6h0M114.0,453.2h0M86.5,466.7h0M88.1,462.9h0M81.7,469.9h0M69.0,429.7h0M74.5,465.9h0M97.3,440.3h0M111.1,460.9h0M90.3,479.9h0M92.7,469.7h0M75.0,466.7h0M72.1,462.1h0M94.1,453.7h0M79.0,466.0h0M71.2,472.4h0M99.1,466.7h0M94.7,450.9h0M106.0,476.4h0M101.9,456.6h0M114.2,445.1h0M133.0,429.9h0M92.7,471.6h0M79.0,461.7h0M75.6,460.2h0M69.6,474.4h0M98.8,451.6h0M110.7,460.5h0M99.9,466.1h0M88.7,474.0h0M98.6,452.7h0M72.6,472.2h0M81.1,440.7h0M78.2,448.4h0M91.1,460.9h0M89.8,474.6h0M85.5,474.6h0M75.5,480.6h0M90.2,459.0h0M94.4,455.5h0M80.0,474.3h0M89.9,458.7h0M99.7,471.1h0M121.8,441.1h0M90.9,453.8h0M101.8,470.9h0M77.2,447.2h0M91.9,461.1h0M67.9,490.0h0M112.0,451.4h0M91.5,463.6h0M81.2,470.8h0M83.9,453.2h0M82.0,463.7h0M70.1,468.4h0M103.5,444.2h0M85.5,466.7h0M98.0,461.6h0M99.1,448.4h0M90.6,438.9h0M95.7,483.6h0M106.4,422.4h0M105.8,451.2h0M85.4,472.4h0M80.6,469.3h0M77.5,461.3h0M74.8,467.7h0M75.6,470.4h0M89.5,460.3h0M110.0,451.1h0M112.6,448.2h0M85.2,457.8h0M118.0,436.9h0M78.3,464.3h0M64.5,467.1h0M92.9,467.0h0M127.1,443.5h0M97.6,447.6h0M71.5,467.4h0M99.6,471.5h0M99.7,449.0h0M105.1,444.7h0M108.5,422.4h0M100.7,480.7h0M111.6,467.5h0M86.7,459.4h0M84.5,465.8h0M79.3,458.7h0M76.6,468.6h0M80.2,465.1h0M106.8,472.1h0M90.3,463.3h0M137.0,422.4h0M97.2,447.9h0M116.4,458.1h0M92.8,461.6h0M86.0,468.4h0M120.7,455.1h0M101.3,480.0h0M102.9,475.8h0M96.1,472.2h0M116.9,479.2h0M97.8,465.0h0M101.4,478.6h0M101.4,456.6h0M73.0,476.6h0M93.6,471.2h0M81.3,454.2h0M93.7,461.0h0M87.2,482.2h0M99.6,472.4h0M78.2,461.6h0M94.0,462.1h0M70.3,469.6h0M94.6,457.6h0M91.1,460.5h0M96.4,466.6h0M83.0,482.2h0M99.1,448.6h0M103.1,465.5h0M85.6,434.2h0M101.7,459.5h0M103.6,450.5h0M108.8,471.7h0M86.9,471.6h0M78.1,476.7h0M74.6,479.9h0M92.1,474.3h0M87.8,443.3h0M99.5,466.5h0M75.3,466.5h0M91.9,464.0h0M81.8,482.6h0M103.8,468.2h0M77.7,467.0h0M115.8,464.7h0M97.6,470.3h0M90.5,471.5h0M90.9,485.0h0M96.3,467.0h0M66.7,479.6h0M74.2,469.3h0M104.2,455.1h0M74.4,460.8h0M84.0,474.0h0M90.6,454.9h0M92.9,470.4h0M113.1,455.5h0M95.9,445.3h0M95.5,463.6h0M90.4,446.4h0M86.2,466.5h0M93.2,467.9h0M80.8,462.1h0M72.7,442.5h0M98.2,464.2h0M110.5,464.2h0M68.3,473.3h0M81.4,447.0h0M93.8,470.3h0M72.9,468.3h0M91.7,477.1h0M99.5,454.9h0M111.0,453.5h0M78.6,467.1h0M125.3,422.4h0M84.2,451.0h0M88.0,474.1h0M87.8,462.9h0M87.5,479.0h0M84.4,436.0h0M130.2,453.2h0M119.8,458.2h0M101.3,475.5h0M91.7,471.3h0M133.4,422.4h0M100.8,449.0h0M109.2,455.4h0M69.7,460.2h0M86.9,460.2h0M112.3,459.4h0M97.0,484.5h0M76.7,463.7h0M93.3,463.8h0M93.2,473.8h0M86.9,452.0h0M124.0,442.5h0M106.4,463.8h0M72.1,480.2h0M137.0,422.4h0M77.7,482.4h0M78.1,477.6h0M103.9,452.6h0M89.0,446.2h0M77.7,445.3h0M91.8,470.6h0M106.3,459.8h0M91.2,455.9h0M108.4,463.7h0M102.8,461.4h0M96.0,454.3h0M92.0,455.7h0M90.2,459.5h0M89.1,461.3h0M85.6,462.0h0M91.4,467.9h0M103.0,470.2h0M98.7,454.6h0M137.0,457.6h0M77.9,461.8h0M65.7,475.4h0M74.6,483.7h0M116.7,452.6h0M82.6,463.3h0M78.9,468.7h0M95.6,461.7h0M85.1,468.3h0M137.0,429.1h0M73.8,454.0h0M79.7,467.9h0M89.7,466.9h0M89.9,453.1h0M81.2,462.2h0M88.2,449.6h0M75.5,428.7h0M101.4,476.1h0M96.8,476.7h0M79.1,484.1h0M73.8,466.4h0M98.5,465.3h0M97.5,465.7h0M89.3,461.7h0M82.5,424.3h0M110.7,459.6h0M88.7,462.3h0M92.1,461.2h0M115.9,469.6h0M72.6,464.5h0M92.9,474.9h0M137.0,434.5h0M123.4,432.4h0M106.7,463.9h0M68.5,480.9h0M89.9,473.0h0M91.0,465.9h0M109.2,463.1h0M98.6,453.6h0M82.7,440.1h0M119.5,444.3h0M78.9,474.2h0M83.0,469.1h0M94.8,468.1h0M90.8,473.0h0M81.5,471.8h0M78.0,470.4h0M91.0,468.6h0M96.9,477.6h0M99.5,462.5h0M105.3,431.9h0M80.8,456.2h0M71.6,466.7h0M85.0,476.9h0M89.9,470.3h0M102.5,465.5h0M121.0,439.0h0M89.9,482.5h0M117.9,455.0h0M91.3,472.5h0M86.8,484.0h0M95.6,452.8h0M82.0,473.2h0M87.4,477.3h0M95.8,447.4h0M93.0,471.0h0M89.3,441.2h0M49.2,465.7h0M79.9,468.1h0M97.3,472.4h0M96.1,463.1h0M100.7,462.5h0M97.1,468.8h0M94.7,468.9h0M92.6,479.7h0M137.0,427.8h0M83.5,487.7h0M95.4,436.4h0M86.3,480.8h0M104.9,449.7h0M85.0,424.6h0M100.2,460.8h0M81.8,480.7h0M86.2,466.9h0M137.0,422.4h0M85.5,467.7h0M109.0,449.6h0M104.0,460.0h0M84.5,458.2h0M121.5,430.6h0M87.7,455.5h0M87.4,465.4h0M81.8,463.5h0M89.4,468.5h0M93.9,466.9h0M105.1,446.3h0M76.7,475.3h0M112.4,462.6h0M88.9,449.7h0M93.7,461.6h0M78.5,433.4h0M58.8,448.5h0M72.3,473.2h0M89.5,479.1h0M82.1,461.7h0M74.5,466.7h0M70.3,479.0h0M85.4,462.0h0M86.6,461.2h0M80.8,465.5h0M97.1,461.2h0M95.0,449.8h0M105.9,470.5h0M104.9,445.5h0M93.0,469.8h0M87.8,461.0h0M90.3,466.6h0M66.6,478.5h0M88.0,449.4h0M93.1,470.6h0M110.0,462.3h0M95.0,474.0h0M90.9,467.5h0M97.0,448.1h0M91.0,463.8h0M136.5,433.2h0M96.4,452.8h0M81.6,473.0h0M86.1,474.5h0M137.0,443.8h0M96.2,462.4h0M85.3,476.0h0M88.1,465.3h0M107.6,458.6h0M79.0,472.9h0M135.2,453.0h0M96.3,440.6h0M72.7,484.4h0M86.9,464.4h0M95.3,459.6h0M137.0,431.2h0M87.2,458.2h0M97.7,450.8h0M124.0,444.4h0M84.5,452.8h0M99.8,453.6h0M74.6,444.8h0M106.8,452.4h0M137.0,428.2h0M98.7,469.3h0M77.6,466.6h0M87.8,443.2h0M77.8,464.5h0M92.5,454.0h0M137.0,447.1h0M71.3,482.1h0M137.0,448.8h0M95.8,478.2h0M74.1,469.1h0M84.1,452.0h0M115.0,464.0h0M83.0,460.4h0M91.5,478.7h0M78.3,457.4h0M96.6,479.7h0M89.4,462.1h0M97.9,445.8h0M80.3,459.1h0M93.4,469.9h0M82.5,460.9h0M82.8,467.1h0M102.9,470.6h0M91.1,454.0h0M98.6,453.4h0M111.6,448.4h0M108.5,459.8h0M85.7,471.3h0M73.2,472.4h0M77.5,478.0h0M92.8,457.2h0M99.4,422.9h0M102.3,463.9h0M72.1,467.9h0M98.0,465.3h0M119.3,422.4h0M128.0,474.1h0M70.0,484.1h0M90.3,439.9h0M102.0,422.4h0M113.6,450.3h0M114.7,436.2h0M91.4,466.7h0M91.4,461.8h0M91.9,473.7h0M91.2,457.7h0M109.9,456.6h0M111.2,429.6h0M92.1,468.4h0M114.0,430.2h0M69.2,469.6h0M69.3,457.5h0M82.7,473.2h0M90.4,486.2h0M117.0,429.9h0M86.3,474.4h0M118.2,444.3h0M72.2,474.0h0M78.5,447.5h0M83.8,476.9h0M92.7,467.8h0M91.7,477.5h0M92.1,437.8h0M100.5,461.5h0M133.6,430.1h0M84.3,478.0h0M83.2,469.8h0M128.2,433.1h0M86.0,472.1h0M85.7,463.7h0M84.3,470.1h0M68.0,472.7h0M80.7,457.7h0M76.4,472.1h0M86.6,462.3h0M96.7,460.7h0M132.2,433.7h0M72.5,469.8h0M88.2,472.7h0M109.2,454.1h0M79.0,458.1h0M103.4,422.4h0M59.7,479.9h0M102.6,464.1h0M81.1,461.2h0M86.2,467.8h0M103.6,468.4h0M98.8,456.8h0M90.5,450.6h0M83.3,474.8h0M83.5,476.7h0M102.3,471.9h0M127.1,454.1h0M96.0,468.0h0M93.9,476.7h0M126.8,442.9h0M131.0,438.0h0M97.6,459.9h0M116.2,443.0h0M75.2,463.5h0M112.9,430.6h0M94.9,469.5h0M95.3,456.8h0M80.1,479.3h0M93.6,468.1h0M134.5,433.9h0M101.5,471.9h0M128.3,465.7h0M125.8,436.8h0M99.0,458.9h0M84.4,466.9h0M86.6,473.5h0M96.9,472.0h0M84.0,469.0h0M74.2,466.4h0M87.2,468.0h0M91.7,470.1h0M124.8,431.0h0M81.7,470.0h0M77.8,483.9h0M131.6,459.9h0M101.8,468.7h0M88.2,462.2h0M88.2,471.2h0M107.1,444.1h0M95.9,470.7h0M98.7,464.7h0M107.1,448.4h0M110.1,463.6h0M100.4,468.9h0M88.5,481.7h0M102.6,466.9h0M118.1,433.3h0M98.6,427.4h0M77.0,486.7h0M75.5,458.4h0M85.7,461.8h0M85.2,475.1h0M95.0,468.7h0M108.7,462.9h0M122.2,447.0h0M62.7,466.7h0M88.1,454.1h0M131.4,454.3h0M86.9,464.5h0M90.5,432.8h0M112.3,462.1h0M69.0,471.5h0M79.7,434.6h0M135.9,435.9h0M71.3,456.7h0M79.3,474.7h0M102.7,477.4h0M100.8,459.5h0M100.4,461.5h0M77.9,469.7h0M117.9,455.7h0M100.6,469.0h0M82.1,476.7h0M104.2,469.4h0M75.9,486.6h0M75.6,457.3h0M74.6,470.5h0M96.3,460.2h0M124.3,442.1h0M92.2,477.8h0M82.4,467.3h0M66.0,470.0h0M83.4,472.1h0M90.7,471.5h0M58.0,467.8h0M116.2,427.2h0M90.6,480.2h0M80.4,462.4h0M81.8,478.9h0M79.0,459.8h0M91.8,466.6h0M118.0,454.7h0M137.0,427.2h0M128.9,422.4h0M85.4,478.0h0M88.8,466.4h0M105.9,474.3h0M85.7,438.4h0M95.6,447.8h0M137.0,441.2h0M95.6,443.3h0M85.2,453.2h0M96.9,453.8h0M86.1,466.9h0M81.8,466.1h0M81.9,469.0h0M90.1,454.9h0M72.1,480.9h0M93.2,471.5h0M86.5,469.1h0M80.4,473.8h0M103.9,458.5h0M73.1,465.4h0M116.5,452.0h0M106.6,466.5h0M134.4,439.5h0M118.3,443.4h0M92.6,478.4h0M66.7,478.8h0M81.7,471.5h0M113.8,444.4h0M83.5,470.7h0M94.8,422.4h0M100.4,454.6h0M76.2,482.6h0M125.9,452.7h0M84.9,472.7h0M82.9,466.8h0M72.4,472.5h0M81.4,457.4h0M86.9,475.8h0M94.4,468.0h0M104.4,463.7h0M97.5,468.9h0M69.9,454.6h0M109.1,453.1h0M90.9,472.1h0M96.7,463.7h0M121.2,422.8h0M102.9,466.3h0M104.2,435.5h0M93.6,444.0h0M93.4,473.2h0M102.5,456.5h0M116.6,474.4h0M130.8,455.7h0M92.5,486.2h0M80.9,455.5h0M89.0,460.0h0M98.3,455.5h0M64.2,470.8h0M71.3,472.9h0M93.0,487.9h0M80.1,457.8h0M116.8,451.3h0M101.8,442.2h0M72.4,473.6h0M100.4,464.2h0M107.8,458.1h0M106.6,456.9h0M137.0,424.5h0M75.8,467.0h0M114.6,439.3h0M100.6,458.3h0M80.7,469.1h0M102.4,461.9h0" stroke="#000" stroke-width="1.9" stroke-linecap="round" fill="none"/>
<path d="M153.2,471.2h0M172.3,465.7h0M167.6,460.2h0M162.2,469.5h0M163.9,459.5h0M172.2,473.9h0M184.8,447.5h0M170.3,480.8h0M155.6,476.4h0M171.9,471.3h0M165.9,472.6h0M169.5,470.2h0M189.0,452.0h0M176.3,467.9h0M180.7,452.4h0M173.6,462.7h0M154.5,477.3h0M172.6,459.8h0M200.3,426.8h0M179.3,459.8h0M241.7,431.0h0M157.7,464.3h0M169.0,473.2h0M170.6,465.8h0M162.3,463.6h0M162.5,467.6h0M155.7,467.0h0M191.4,456.8h0M188.4,457.9h0M184.8,457.9h0M159.0,466.7h0M172.2,466.3h0M155.3,477.2h0M169.2,469.9h0M163.5,471.8h0M208.2,432.0h0M184.5,466.5h0M170.5,473.0h0M186.6,449.3h0M163.6,468.4h0M179.5,471.0h0M170.6,467.6h0M178.7,468.3h0M213.8,451.2h0M169.4,463.1h0M191.5,447.2h0M199.1,472.1h0M187.3,461.1h0M191.0,471.7h0M194.3,451.9h0M177.7,464.0h0M176.8,466.7h0M171.3,462.1h0M168.0,475.3h0M160.8,467.7h0M182.1,455.6h0M196.9,466.5h0M175.8,451.8h0M170.4,470.1h0M155.0,478.8h0M166.3,464.8h0M169.3,470.1h0M218.3,433.1h0M170.8,470.1h0M158.3,478.4h0M181.1,473.9h0M190.1,459.9h0M173.3,462.3h0M165.7,461.8h0M241.7,422.4h0M172.1,448.2h0M165.0,471.2h0M198.0,467.6h0M171.7,453.7h0M176.0,461.7h0M162.9,484.1h0M182.7,460.7h0M198.3,447.2h0M182.2,466.6h0M186.2,461.4h0M177.0,461.0h0M180.7,456.1h0M170.9,465.8h0M186.6,462.4h0M175.6,471.3h0M166.5,466.4h0M184.4,473.0h0M159.1,466.2h0M159.6,470.7h0M174.0,462.5h0M162.6,479.9h0M167.6,465.1h0M160.3,474.4h0M178.3,467.3h0M189.3,452.3h0M174.5,453.9h0M173.6,480.0h0M169.2,471.0h0M152.3,470.7h0M174.7,466.2h0M206.7,434.0h0M177.3,475.8h0M185.8,447.0h0M165.7,467.6h0M172.1,458.6h0M221.5,434.4h0M171.5,476.5h0M193.5,458.4h0M167.6,466.2h0M182.3,471.5h0M164.4,469.0h0M174.9,474.0h0M170.1,471.2h0M185.2,466.6h0M175.3,449.1h0M172.3,462.3h0M163.2,469.2h0M186.1,468.1h0M177.3,459.0h0M191.4,459.1h0M176.6,458.7h0M182.7,455.8h0M175.8,458.4h0M184.6,465.3h0M166.2,464.2h0M155.8,470.7h0M165.4,462.1h0M182.5,458.2h0M178.8,458.4h0M176.3,458.5h0M162.5,464.9h0M195.9,465.4h0M167.8,471.2h0M181.6,467.1h0M163.9,463.4h0M176.8,472.8h0M158.5,465.7h0M241.7,423.0h0M171.1,459.9h0M164.8,466.5h0M179.5,464.3h0M173.9,472.2h0M201.8,444.8h0M207.8,446.2h0M161.2,472.9h0M163.3,476.2h0M184.0,461.5h0M168.6,468.4h0M181.2,449.9h0M165.9,471.8h0M218.0,441.7h0M149.1,468.1h0M163.4,469.4h0M172.3,471.8h0M225.1,449.5h0M158.8,467.1h0M161.8,473.9h0M179.4,445.2h0M170.5,455.0h0M153.8,454.3h0M216.1,446.8h0M201.9,458.3h0M163.2,469.6h0M171.9,456.7h0M172.2,466.1h0M185.9,453.6h0M158.7,467.7h0M152.4,465.2h0M178.9,478.4h0M186.5,447.0h0M160.6,479.6h0M191.1,454.8h0M160.0,479.0h0M178.1,458.8h0M199.5,448.1h0M168.9,468.6h0M171.1,464.1h0M196.8,422.4h0M170.0,459.5h0M164.3,467.2h0M169.0,480.2h0M154.5,470.2h0M174.1,458.6h0M211.0,426.6h0M198.7,449.3h0M196.8,455.3h0M204.6,439.0h0M217.5,422.4h0M180.9,448.9h0M212.9,441.2h0M193.0,454.2h0M157.5,466.5h0M167.1,461.0h0M167.4,462.9h0M184.6,455.1h0M183.0,473.9h0M177.8,462.6h0M174.6,465.0h0M157.5,475.5h0M173.6,459.2h0M178.7,448.8h0M159.9,479.3h0M183.1,445.7h0M178.5,470.6h0M159.0,471.6h0M177.6,453.6h0M168.1,460.5h0M170.1,469.6h0M185.1,463.2h0M183.1,458.8h0M165.9,473.9h0M182.8,471.9h0M167.9,463.7h0M177.3,469.6h0M156.1,473.5h0M153.1,469.9h0M195.3,443.7h0M179.7,462.1h0M199.7,446.8h0M187.3,451.6h0M158.2,482.2h0M159.4,469.0h0M186.7,438.5h0M162.6,480.5h0M169.6,469.3h0M176.3,459.0h0M169.2,466.9h0M164.0,471.3h0M164.8,470.6h0M179.4,474.5h0M199.4,470.9h0M185.2,443.2h0M184.3,457.5h0M176.9,458.5h0M172.8,470.5h0M159.1,460.5h0M177.9,475.2h0M184.7,454.3h0M179.2,451.2h0M187.8,446.4h0M175.9,456.0h0M218.9,442.1h0M176.9,466.0h0M197.5,443.2h0M160.2,483.3h0M154.7,479.2h0M216.5,455.0h0M172.5,466.1h0M163.8,476.7h0M182.9,463.9h0M168.8,458.5h0M164.3,469.6h0M175.6,468.0h0M172.4,466.1h0M168.1,479.6h0M179.7,454.4h0M178.5,464.3h0M164.6,471.1h0M164.1,461.5h0M211.5,441.3h0M201.7,437.6h0M166.9,452.1h0M166.2,471.5h0M178.6,465.5h0M167.1,468.4h0M163.8,476.8h0M171.7,473.8h0M171.1,474.1h0M157.9,473.5h0M165.3,463.9h0M188.4,441.9h0M167.5,461.1h0M177.8,458.1h0M173.5,470.0h0M172.7,463.5h0M168.0,464.2h0M201.1,443.1h0M180.5,460.4h0M160.7,473.1h0M158.1,480.3h0M168.1,464.9h0M187.1,451.9h0M179.9,452.4h0M162.2,458.3h0M170.7,463.5h0M205.7,464.5h0M188.3,467.5h0M167.9,473.1h0M198.6,447.0h0M168.4,467.2h0M152.7,483.1h0M167.4,467.5h0M172.0,475.4h0M182.5,449.6h0M189.5,464.6h0M171.6,461.2h0M178.3,472.2h0M166.8,468.2h0M176.3,469.1h0M151.1,472.8h0M173.1,479.9h0M179.7,470.9h0M157.4,478.7h0M169.5,470.0h0M185.3,457.9h0M217.3,432.6h0M151.5,466.7h0M174.5,454.3h0M174.8,466.7h0M161.3,464.4h0M166.2,471.1h0M169.4,465.4h0M156.5,474.6h0M172.5,464.3h0M191.7,459.7h0M162.7,467.3h0M171.8,468.1h0M223.0,435.8h0M163.5,479.7h0M170.2,479.9h0M184.7,464.7h0M163.5,480.6h0M162.0,474.7h0M163.6,471.4h0M154.3,472.1h0M173.1,479.5h0M175.2,469.1h0M164.6,463.3h0M166.7,471.6h0M182.0,454.7h0M204.9,450.1h0M173.8,477.3h0M153.8,473.1h0M187.7,454.8h0M156.1,459.5h0M175.6,458.9h0M172.9,479.9h0M174.2,453.0h0M194.7,450.5h0M157.2,468.2h0M166.5,479.9h0M180.1,467.8h0M160.2,475.0h0M192.9,469.0h0M188.2,443.3h0M178.9,469.0h0M168.9,476.2h0M193.2,440.8h0M180.6,465.3h0M174.1,466.6h0M168.1,465.3h0M157.3,464.2h0M185.7,458.9h0M197.6,443.8h0M170.4,454.8h0M196.4,440.6h0M169.9,471.6h0M200.0,430.9h0M209.0,443.1h0M168.3,472.8h0M179.6,463.0h0M170.5,469.6h0M169.7,473.2h0M221.2,454.0h0M193.9,472.5h0M171.8,467.1h0M166.7,476.9h0M160.3,475.8h0M151.8,483.2h0M157.7,459.2h0M166.3,447.1h0M163.0,473.5h0M189.9,457.6h0M174.1,466.5h0M163.9,459.6h0M201.2,478.0h0M160.3,474.4h0M181.5,477.5h0M163.2,452.7h0M164.3,485.7h0M171.2,472.1h0M208.5,432.0h0M184.3,471.4h0M177.4,479.6h0M171.3,460.7h0M184.6,464.0h0M186.2,456.7h0M205.9,430.2h0M203.7,443.2h0M171.8,466.4h0M160.4,475.0h0M160.4,472.3h0M170.6,468.2h0M183.8,453.0h0M207.8,433.3h0M179.1,462.2h0M241.7,434.3h0M186.5,466.7h0M170.2,481.2h0M169.6,473.1h0M186.3,462.6h0M158.6,440.4h0M200.6,440.7h0M193.1,452.9h0M241.7,422.4h0M154.6,476.4h0M175.9,471.4h0M186.7,461.1h0M160.3,474.0h0M214.0,446.9h0M173.0,456.7h0M174.6,459.8h0M186.1,450.5h0M185.8,451.6h0M176.6,459.3h0M180.5,444.7h0M176.5,461.3h0M179.7,472.2h0M163.8,474.7h0M165.3,466.4h0M195.4,443.4h0M177.0,460.5h0M217.5,455.1h0M155.2,474.1h0M168.0,456.7h0M186.2,451.1h0M172.7,455.7h0M166.9,466.3h0M185.4,459.6h0M176.6,477.4h0M186.6,467.9h0M168.9,464.4h0M148.6,483.3h0M183.3,463.8h0M201.3,441.0h0M171.8,461.9h0M188.2,442.6h0M186.4,454.1h0M189.7,469.1h0M197.8,446.7h0M198.6,434.6h0M167.5,464.5h0M181.5,470.0h0M193.9,442.8h0M180.2,466.3h0M157.3,476.3h0M176.4,463.1h0M183.6,453.8h0M191.2,450.3h0M163.7,468.6h0M176.9,444.7h0M162.8,476.0h0M198.5,460.3h0M169.6,461.0h0M164.6,473.6h0M164.7,471.0h0M162.4,472.5h0M189.5,456.7h0M163.7,476.3h0M231.0,445.2h0M173.4,469.5h0M163.7,478.8h0M159.5,471.4h0M164.4,474.4h0M184.8,446.3h0M152.2,466.9h0M183.1,457.9h0M174.4,461.7h0M171.4,470.1h0M170.9,462.5h0M170.0,465.1h0M168.9,469.0h0M164.7,470.6h0M188.2,463.2h0M172.0,464.1h0M185.0,461.1h0M195.4,460.8h0M161.5,478.5h0M156.3,478.8h0M188.1,457.4h0M162.7,467.4h0M186.4,443.5h0M168.6,467.7h0M199.0,438.4h0M173.5,470.7h0M158.3,479.9h0M172.3,463.0h0M172.0,454.2h0M161.1,468.2h0M183.5,467.9h0M181.2,483.5h0M179.9,470.6h0M173.4,453.2h0M170.8,466.7h0M179.0,462.9h0M175.4,469.9h0M183.9,429.7h0M177.9,465.9h0M194.9,440.3h0M192.4,460.9h0M168.5,479.9h0M164.2,469.7h0M171.6,466.7h0M170.1,462.1h0M186.0,453.7h0M172.6,466.0h0M178.6,472.4h0M179.6,466.7h0M174.2,450.9h0M164.8,476.4h0M181.6,456.6h0M181.0,445.1h0M208.9,429.9h0M173.5,471.6h0M174.1,461.7h0M178.2,460.2h0M164.4,474.4h0M206.8,451.6h0M180.6,460.5h0M170.7,466.1h0M169.1,474.0h0M180.3,452.7h0M171.0,472.2h0M189.5,440.7h0M174.2,448.4h0M163.4,460.9h0M176.5,474.6h0M154.5,474.6h0M152.0,480.6h0M184.0,459.0h0M170.4,455.5h0M172.0,474.3h0M176.4,458.7h0M172.0,471.1h0M203.1,441.1h0M177.0,453.8h0M182.1,470.9h0M204.4,447.2h0M174.4,461.1h0M160.1,490.0h0M168.5,451.4h0M175.7,463.6h0M166.6,470.8h0M163.5,453.2h0M164.5,463.7h0M169.8,468.4h0M212.1,444.2h0M170.4,466.7h0M170.2,461.6h0M167.9,448.4h0M227.3,438.9h0M160.2,483.6h0M193.6,422.4h0M187.0,451.2h0M167.8,472.4h0M174.1,469.3h0M183.0,461.3h0M174.9,467.7h0M155.5,470.4h0M180.7,460.3h0M168.4,451.1h0M176.6,448.2h0M177.8,457.8h0M210.4,436.9h0M169.3,464.3h0M170.8,467.1h0M158.6,467.0h0M194.9,443.5h0M177.3,447.6h0M175.0,467.4h0M171.8,471.5h0M181.2,449.0h0M195.1,444.7h0M212.0,422.4h0M165.2,480.7h0M186.5,467.5h0M159.1,459.4h0M155.6,465.8h0M183.5,458.7h0M170.9,468.6h0M163.0,465.1h0M176.9,472.1h0M169.0,463.3h0M224.1,422.4h0M202.4,447.9h0M166.9,458.1h0M181.1,461.6h0M177.1,468.4h0M176.6,455.1h0M164.5,480.0h0M166.3,475.8h0M160.5,472.2h0M174.2,479.2h0M172.9,465.0h0M169.0,478.6h0M192.8,456.6h0M166.1,476.6h0M167.6,471.2h0M180.1,454.2h0M174.3,461.0h0M155.5,482.2h0M195.2,472.4h0M181.7,461.6h0M168.3,462.1h0M174.7,469.6h0M174.4,457.6h0M187.3,460.5h0M164.4,466.6h0M168.3,482.2h0M162.0,448.6h0M161.1,465.5h0M180.5,434.2h0M172.6,459.5h0M183.3,450.5h0M182.4,471.7h0M163.8,471.6h0M157.1,476.7h0M162.7,479.9h0M164.9,474.3h0M183.1,443.3h0M157.7,466.5h0M160.6,466.5h0M164.3,464.0h0M163.6,482.6h0M172.4,468.2h0M161.3,467.0h0M190.2,464.7h0M177.6,470.3h0M159.8,471.5h0M198.9,485.0h0M176.1,467.0h0M149.5,479.6h0M157.6,469.3h0M212.4,455.1h0M207.0,460.8h0M177.7,474.0h0M177.1,454.9h0M169.2,470.4h0M176.4,455.5h0M201.3,445.3h0M166.5,463.6h0M178.9,446.4h0M156.7,466.5h0M165.2,467.9h0M165.7,462.1h0M204.1,442.5h0M179.9,464.2h0M182.0,464.2h0M166.8,473.3h0M169.6,447.0h0M162.1,470.3h0M167.6,468.3h0M157.1,477.1h0M183.3,454.9h0M182.3,453.5h0M178.5,467.1h0M205.0,422.4h0M188.2,451.0h0M163.5,474.1h0M187.0,462.9h0M169.4,479.0h0M189.4,436.0h0M205.3,453.2h0M202.7,458.2h0M157.2,475.5h0M172.8,471.3h0M211.0,422.4h0M191.5,449.0h0M187.1,455.4h0M161.1,460.2h0M162.0,460.2h0M181.6,459.4h0M177.2,484.5h0M159.6,463.7h0M170.0,463.8h0M178.6,473.8h0M179.9,452.0h0M209.0,442.5h0M176.9,463.8h0M152.7,480.2h0M197.5,422.4h0M160.4,482.4h0M162.4,477.6h0M194.2,452.6h0M175.9,446.2h0M187.2,445.3h0M177.2,470.6h0M213.3,459.8h0M172.8,455.9h0M167.9,463.7h0M179.7,461.4h0M205.9,454.3h0M174.1,455.7h0M179.3,459.5h0M159.4,461.3h0M171.0,462.0h0M160.5,467.9h0M166.3,470.2h0M180.3,454.6h0M189.5,457.6h0M160.2,461.8h0M160.2,475.4h0M155.8,483.7h0M186.5,452.6h0M167.2,463.3h0M180.2,468.7h0M163.7,461.7h0M168.7,468.3h0M214.5,429.1h0M176.6,454.0h0M169.5,467.9h0M166.3,466.9h0M170.9,453.1h0M183.8,462.2h0M176.6,449.6h0M226.7,428.7h0M181.5,476.1h0M169.4,476.7h0M166.8,484.1h0M164.5,466.4h0M165.2,465.3h0M161.1,465.7h0M164.7,461.7h0M209.7,424.3h0M173.7,459.6h0M165.8,462.3h0M163.8,461.2h0M173.2,469.6h0M177.3,464.5h0M165.8,474.9h0M240.6,434.5h0M216.0,432.4h0M178.4,463.9h0M162.5,480.9h0M168.5,473.0h0M183.6,465.9h0M169.4,463.1h0M186.5,453.6h0M193.3,440.1h0M194.1,444.3h0M153.6,474.2h0M177.4,469.1h0M154.5,468.1h0M178.3,473.0h0M163.2,471.8h0M154.9,470.4h0M170.4,468.6h0M165.0,477.6h0M174.6,462.5h0M190.0,431.9h0M167.6,456.2h0M160.8,466.7h0M166.0,476.9h0M168.2,470.3h0M165.1,465.5h0M216.2,439.0h0M157.1,482.5h0M193.6,455.0h0M162.5,472.5h0M165.9,484.0h0M196.0,452.8h0M155.3,473.2h0M165.4,477.3h0M184.0,447.4h0M164.8,471.0h0M185.5,441.2h0M177.2,465.7h0M160.1,468.1h0M159.6,472.4h0M176.2,463.1h0M175.6,462.5h0M167.6,468.8h0M165.9,468.9h0M160.6,479.7h0M213.5,427.8h0M153.1,487.7h0M190.7,436.4h0M162.2,480.8h0M211.7,449.7h0M210.7,424.6h0M158.0,460.8h0M168.7,480.7h0M163.3,466.9h0M222.2,422.4h0M173.9,467.7h0M195.7,449.6h0M166.6,460.0h0M179.2,458.2h0M216.7,430.6h0M175.4,455.5h0M174.6,465.4h0M169.2,463.5h0M165.0,468.5h0M166.6,466.9h0M200.9,446.3h0M164.1,475.3h0M165.1,462.6h0M194.4,449.7h0M179.1,461.6h0M181.6,433.4h0M199.6,448.5h0M156.3,473.2h0M158.6,479.1h0M175.5,461.7h0M173.2,466.7h0M159.2,479.0h0M203.1,462.0h0M177.9,461.2h0M174.9,465.5h0M173.4,461.2h0M170.9,449.8h0M170.0,470.5h0M186.5,445.5h0M180.7,469.8h0M190.9,461.0h0M167.4,466.6h0M166.3,478.5h0M178.0,449.4h0M156.3,470.6h0M183.3,462.3h0M170.8,474.0h0M162.4,467.5h0M206.0,448.1h0M173.0,463.8h0M185.9,433.2h0M181.7,452.8h0M164.1,473.0h0M149.4,474.5h0M201.4,443.8h0M161.8,462.4h0M160.1,476.0h0M169.4,465.3h0M182.7,458.6h0M182.0,472.9h0M210.4,453.0h0M190.1,440.6h0M158.7,484.4h0M172.8,464.4h0M178.6,459.6h0M235.0,431.2h0M180.9,458.2h0M196.7,450.8h0M186.6,444.4h0M174.7,452.8h0M189.5,453.6h0M182.5,444.8h0M177.7,452.4h0M226.5,428.2h0M167.1,469.3h0M150.2,466.6h0M183.7,443.2h0M162.0,464.5h0M169.5,454.0h0M221.1,447.1h0M158.7,482.1h0M229.6,448.8h0M151.8,478.2h0M174.5,469.1h0M182.2,452.0h0M222.0,464.0h0M166.5,460.4h0M165.6,478.7h0M187.3,457.4h0M162.7,479.7h0M160.2,462.1h0M176.1,445.8h0M173.3,459.1h0M162.8,469.9h0M179.2,460.9h0M160.9,467.1h0M175.1,470.6h0M175.8,454.0h0M164.5,453.4h0M202.2,448.4h0M191.8,459.8h0M168.4,471.3h0M167.5,472.4h0M154.3,478.0h0M167.3,457.2h0M214.9,422.9h0M178.3,463.9h0M163.2,467.9h0M177.4,465.3h0M197.6,422.4h0M188.9,474.1h0M152.7,484.1h0M214.8,439.9h0M228.9,422.4h0M197.9,450.3h0M216.1,436.2h0M181.5,466.7h0M173.7,461.8h0M167.8,473.7h0M175.9,457.7h0M162.5,456.6h0M184.5,429.6h0M178.4,468.4h0M223.3,430.2h0M169.2,469.6h0M167.5,457.5h0M161.5,473.2h0M154.8,486.2h0M218.6,429.9h0M164.8,474.4h0M200.1,444.3h0M178.2,474.0h0M191.6,447.5h0M176.0,476.9h0M168.0,467.8h0M168.9,477.5h0M186.1,437.8h0M185.6,461.5h0M210.0,430.1h0M152.9,478.0h0M169.2,469.8h0M189.8,433.1h0M169.5,472.1h0M163.2,463.7h0M155.2,470.1h0M175.1,472.7h0M165.2,457.7h0M162.5,472.1h0M182.4,462.3h0M170.7,460.7h0M194.3,433.7h0M169.6,469.8h0M211.4,472.7h0M170.3,454.1h0M171.3,458.1h0M217.4,422.4h0M164.6,479.9h0M158.1,464.1h0M172.3,461.2h0M155.5,467.8h0M173.3,468.4h0M173.5,456.8h0M177.4,450.6h0M164.9,474.8h0M170.6,476.7h0M175.9,471.9h0M201.5,454.1h0M178.6,468.0h0M173.8,476.7h0M199.9,442.9h0M194.4,438.0h0M192.8,459.9h0M191.9,443.0h0M167.5,463.5h0M192.8,430.6h0M201.3,469.5h0M190.9,456.8h0M163.8,479.3h0M159.5,468.1h0M204.4,433.9h0M148.6,471.9h0M165.9,465.7h0M222.9,436.8h0M171.0,458.9h0M160.2,466.9h0M169.5,473.5h0M150.7,472.0h0M172.7,469.0h0M164.6,466.4h0M189.7,468.0h0M167.1,470.1h0M209.1,431.0h0M166.2,470.0h0M161.8,483.9h0M176.9,459.9h0M179.4,468.7h0M171.6,462.2h0M176.9,471.2h0M187.0,444.1h0M160.7,470.7h0M170.5,464.7h0M193.7,448.4h0M166.8,463.6h0M169.8,468.9h0M161.0,481.7h0M170.4,466.9h0M201.0,433.3h0M186.7,427.4h0M159.1,486.7h0M166.4,458.4h0M179.5,461.8h0M167.3,475.1h0M169.9,468.7h0M173.9,462.9h0M196.1,447.0h0M157.3,466.7h0M191.5,454.1h0M191.6,454.3h0M160.8,464.5h0M187.4,432.8h0M180.3,462.1h0M174.9,471.5h0M196.9,434.6h0M189.1,435.9h0M189.8,456.7h0M163.2,474.7h0M166.1,477.4h0M178.5,459.5h0M186.6,461.5h0M159.5,469.7h0M182.7,455.7h0M173.7,469.0h0M162.9,476.7h0M165.8,469.4h0M148.6,486.6h0M189.5,457.3h0M161.4,470.5h0M186.4,460.2h0M201.6,442.1h0M176.6,477.8h0M173.7,467.3h0M180.1,470.0h0M178.1,472.1h0M176.1,471.5h0M168.2,467.8h0M171.4,427.2h0M160.6,480.2h0M173.5,462.4h0M157.8,478.9h0M168.6,459.8h0M162.6,466.6h0M187.9,454.7h0M213.7,427.2h0M214.2,422.4h0M168.4,478.0h0M179.9,466.4h0M163.7,474.3h0M195.6,438.4h0M206.9,447.8h0M215.0,441.2h0M196.2,443.3h0M173.0,453.2h0M183.1,453.8h0M170.0,466.9h0M166.7,466.1h0M178.1,469.0h0M172.3,454.9h0M155.5,480.9h0M176.9,471.5h0M205.5,469.1h0M159.5,473.8h0M174.9,458.5h0M166.6,465.4h0M191.8,452.0h0M158.2,466.5h0M208.5,439.5h0M190.4,443.4h0M176.6,478.4h0M160.9,478.8h0M175.6,471.5h0M188.6,444.4h0M159.7,470.7h0M227.3,422.4h0M174.6,454.6h0M150.3,482.6h0M201.9,452.7h0M199.1,472.7h0M178.4,466.8h0M186.0,472.5h0M168.7,457.4h0M165.8,475.8h0M181.3,468.0h0M173.7,463.7h0M164.3,468.9h0M172.1,454.6h0M207.8,453.1h0M193.5,472.1h0M168.7,463.7h0M241.7,422.8h0M173.7,466.3h0M205.2,435.5h0M215.0,444.0h0M164.5,473.2h0M206.5,456.5h0M170.2,474.4h0M197.2,455.7h0M159.2,486.2h0M169.2,455.5h0M174.0,460.0h0M193.0,455.5h0M160.8,470.8h0M161.9,472.9h0M166.0,487.9h0M166.0,457.8h0M202.8,451.3h0M196.3,442.2h0M161.2,473.6h0M173.3,464.2h0M204.0,458.1h0M162.3,456.9h0M229.3,424.5h0M165.1,467.0h0M179.7,439.3h0M176.5,458.3h0M168.8,469.1h0M183.7,461.9h0" stroke="#000" stroke-width="1.9" stroke-linecap="round" fill="none"/>
<path d="M86.8,560.7h0M90.9,540.9h0M85.1,542.4h0M133.0,556.7h0M77.6,550.8h0M73.7,546.2h0M95.1,547.6h0M86.1,546.7h0M83.0,556.4h0M85.6,548.2h0M83.7,551.5h0M80.7,543.4h0M84.3,529.3h0M97.9,547.2h0M108.5,534.8h0M118.3,545.0h0M94.5,554.7h0M95.5,546.7h0M100.9,524.9h0M107.5,533.7h0M115.7,510.5h0M69.7,548.3h0M68.5,536.1h0M83.6,551.9h0M82.0,555.3h0M87.1,551.2h0M82.8,556.4h0M88.1,529.9h0M137.0,534.6h0M91.1,538.0h0M74.0,557.5h0M87.9,545.0h0M71.2,550.8h0M97.7,549.5h0M74.2,544.2h0M117.3,549.4h0M73.8,545.6h0M91.2,540.7h0M100.7,532.1h0M93.8,545.0h0M97.8,550.0h0M86.2,548.1h0M98.7,546.7h0M137.0,502.4h0M100.4,554.2h0M91.7,539.9h0M111.7,539.8h0M94.9,526.7h0M119.4,545.5h0M86.9,545.1h0M99.8,536.3h0M104.3,541.1h0M74.8,554.1h0M70.8,554.5h0M88.0,551.5h0M103.1,545.7h0M94.1,524.7h0M118.2,518.3h0M98.2,540.0h0M75.2,559.2h0M83.5,544.3h0M102.7,562.0h0M106.5,512.9h0M90.8,539.5h0M74.7,548.2h0M88.1,537.1h0M72.1,546.9h0M121.8,543.0h0M88.7,543.0h0M111.4,502.4h0M86.6,534.7h0M73.2,558.4h0M105.4,536.6h0M94.9,527.7h0M103.2,525.0h0M85.4,545.7h0M110.8,533.0h0M98.9,540.9h0M73.7,539.6h0M114.3,537.7h0M99.6,542.5h0M98.8,538.3h0M93.5,549.1h0M80.5,552.2h0M105.4,544.1h0M90.8,550.4h0M83.9,533.2h0M89.3,540.1h0M76.7,559.7h0M86.4,548.3h0M89.2,556.4h0M86.5,553.2h0M58.9,560.3h0M100.1,546.6h0M100.5,536.7h0M101.7,526.0h0M90.0,546.3h0M92.0,554.8h0M79.6,564.7h0M85.5,549.3h0M109.1,514.6h0M84.5,549.8h0M92.0,513.6h0M83.0,547.8h0M90.7,535.0h0M119.7,509.4h0M96.2,546.4h0M78.5,522.4h0M111.8,534.1h0M105.2,549.6h0M76.2,551.9h0M105.4,544.8h0M92.2,549.0h0M99.6,539.5h0M88.6,525.8h0M86.0,533.1h0M75.6,557.3h0M87.4,540.4h0M95.5,526.5h0M88.6,533.6h0M113.2,540.9h0M123.3,532.3h0M91.2,540.7h0M119.2,531.7h0M91.7,543.3h0M95.2,549.8h0M101.7,546.5h0M86.5,530.8h0M96.4,539.5h0M90.3,537.2h0M74.3,550.3h0M93.9,548.9h0M80.6,552.0h0M107.8,539.0h0M97.8,554.4h0M101.3,543.0h0M82.7,559.8h0M119.4,502.4h0M107.2,546.3h0M101.1,555.6h0M109.0,524.8h0M81.1,552.2h0M75.7,519.5h0M112.4,528.2h0M77.6,544.4h0M106.0,547.8h0M137.0,535.4h0M77.5,552.3h0M95.7,536.0h0M65.8,541.7h0M114.8,531.3h0M93.1,557.9h0M88.1,555.1h0M85.5,546.9h0M129.8,520.7h0M93.7,556.2h0M98.9,554.2h0M131.8,519.9h0M90.0,539.7h0M99.9,521.6h0M104.8,507.0h0M120.1,539.2h0M82.7,557.6h0M96.0,540.8h0M88.8,551.7h0M99.0,537.4h0M80.6,556.3h0M98.7,565.7h0M92.6,535.3h0M91.1,537.5h0M84.3,560.6h0M113.9,536.9h0M75.4,548.7h0M88.8,554.3h0M137.0,547.2h0M79.5,535.3h0M105.7,540.8h0M122.3,518.7h0M97.2,549.1h0M92.7,560.3h0M82.0,548.8h0M77.5,570.0h0M86.5,545.5h0M98.7,521.6h0M103.9,523.0h0M103.8,545.9h0M125.5,521.5h0M123.7,508.2h0M107.1,529.3h0M137.0,502.4h0M114.7,532.6h0M76.7,554.1h0M99.6,518.8h0M80.1,551.9h0M74.5,543.5h0M89.8,540.0h0M120.6,537.2h0M107.2,540.1h0M70.4,549.8h0M91.1,547.3h0M96.4,544.5h0M86.7,549.9h0M88.3,535.6h0M87.2,548.0h0M84.6,546.5h0M111.1,540.1h0M88.2,549.8h0M81.1,543.0h0M105.0,535.4h0M82.5,537.9h0M99.2,558.3h0M92.4,527.4h0M88.0,539.8h0M97.8,541.4h0M75.0,552.9h0M92.1,545.8h0M94.6,528.4h0M74.7,538.4h0M111.7,513.9h0M102.3,531.5h0M73.6,550.6h0M98.0,549.2h0M88.3,538.9h0M71.5,542.8h0M75.3,554.9h0M98.1,548.0h0M120.3,534.8h0M83.1,549.5h0M91.9,548.0h0M77.8,542.4h0M119.8,510.7h0M126.8,536.3h0M96.8,549.9h0M72.7,540.0h0M92.2,538.4h0M90.3,541.9h0M81.7,536.3h0M91.1,538.1h0M83.3,524.7h0M91.8,534.7h0M83.6,536.0h0M93.5,512.0h0M91.0,554.0h0M107.3,502.4h0M74.2,565.3h0M60.7,554.5h0M137.0,535.3h0M90.3,550.3h0M93.7,540.3h0M79.4,534.8h0M98.9,551.8h0M80.7,539.5h0M97.8,547.5h0M87.7,550.4h0M83.7,559.0h0M84.1,539.8h0M81.6,538.1h0M80.1,537.1h0M98.2,545.0h0M108.8,517.0h0M98.0,506.0h0M76.4,552.8h0M89.6,545.8h0M104.0,538.9h0M89.8,546.3h0M74.9,551.4h0M89.9,544.2h0M90.7,546.7h0M92.0,544.4h0M115.2,545.3h0M100.4,552.6h0M84.0,543.4h0M101.1,550.1h0M50.8,538.8h0M80.2,542.9h0M109.1,558.0h0M98.9,542.6h0M98.3,534.0h0M74.8,549.1h0M79.8,562.1h0M95.9,566.0h0M115.5,543.2h0M110.4,527.0h0M85.8,540.5h0M86.5,540.2h0M101.6,522.1h0M99.0,541.9h0M89.0,547.2h0M74.5,506.7h0M79.5,547.0h0M72.4,556.6h0M94.9,546.2h0M80.8,534.3h0M111.7,536.6h0M90.9,517.7h0M83.8,543.7h0M80.1,548.1h0M83.8,533.9h0M85.8,537.1h0M89.0,542.8h0M86.0,551.1h0M79.9,541.7h0M78.0,550.5h0M94.6,550.2h0M81.6,541.3h0M122.0,529.5h0M103.1,556.2h0M86.8,542.5h0M87.5,548.2h0M92.1,558.4h0M114.7,553.9h0M71.1,548.7h0M94.3,562.7h0M89.6,540.7h0M96.2,529.3h0M91.1,549.8h0M113.7,548.9h0M108.9,514.7h0M72.4,558.8h0M69.9,557.6h0M86.4,549.9h0M88.6,556.6h0M88.9,551.9h0M78.4,551.3h0M90.0,556.5h0M105.3,555.4h0M91.3,545.9h0M84.8,548.7h0M85.3,549.9h0M87.0,529.4h0M91.3,522.7h0M67.8,550.1h0M97.4,544.8h0M123.4,530.0h0M76.1,539.3h0M95.0,551.8h0M80.4,543.2h0M101.8,545.3h0M96.1,529.9h0M75.9,552.1h0M97.7,543.2h0M103.9,544.5h0M81.5,563.0h0M97.8,540.9h0M102.4,534.4h0M104.0,546.0h0M66.9,542.4h0M110.2,529.8h0M89.6,537.0h0M101.2,540.4h0M89.5,540.1h0M76.6,533.0h0M76.3,539.9h0M83.2,544.1h0M91.8,544.1h0M124.3,510.8h0M74.5,544.3h0M101.2,526.2h0M87.9,536.2h0M86.1,545.1h0M90.1,543.8h0M106.1,539.2h0M71.6,537.2h0M124.0,511.6h0M104.4,536.0h0M93.0,549.8h0M78.9,553.9h0M68.9,560.1h0M71.2,556.7h0M100.5,545.9h0M98.5,534.6h0M93.1,548.9h0M85.3,521.1h0M97.3,540.0h0M96.2,548.4h0M116.3,530.4h0M84.2,555.7h0M93.6,549.8h0M130.5,541.1h0M95.6,553.0h0M79.9,547.1h0M118.9,502.4h0M82.5,549.2h0M91.3,527.1h0M92.1,538.1h0M87.5,526.0h0M116.5,529.6h0M116.5,532.7h0M111.7,515.1h0M88.1,544.4h0M82.5,559.4h0M90.0,545.5h0M84.2,539.3h0M80.1,541.2h0M137.0,527.5h0M105.0,553.7h0M111.0,502.4h0M116.0,542.1h0M88.1,544.5h0M83.0,536.8h0M68.4,534.3h0M76.6,512.1h0M117.5,542.6h0M96.6,525.7h0M137.0,502.4h0M74.6,565.7h0M77.2,549.7h0M104.8,538.2h0M83.8,549.8h0M137.0,521.1h0M81.9,540.0h0M85.9,538.7h0M78.0,533.4h0M96.2,540.0h0M103.2,535.9h0M92.7,517.6h0M82.0,561.2h0M93.9,537.3h0M85.2,553.4h0M60.1,561.3h0M96.7,536.3h0M90.4,541.6h0M123.1,518.4h0M86.5,553.1h0M71.9,533.6h0M91.5,539.7h0M96.1,531.1h0M95.7,556.8h0M93.4,549.0h0M93.2,552.2h0M100.0,549.0h0M90.5,547.3h0M78.0,560.8h0M98.0,545.5h0M117.1,519.9h0M77.6,548.9h0M90.0,529.2h0M86.9,551.3h0M101.0,545.3h0M134.1,522.2h0M110.1,523.8h0M100.3,554.5h0M91.5,542.7h0M87.9,535.5h0M91.3,552.3h0M86.7,560.2h0M108.9,556.2h0M117.0,535.0h0M88.4,539.9h0M91.4,555.3h0M96.4,527.1h0M81.0,558.3h0M116.3,529.8h0M105.6,548.0h0M81.5,538.5h0M97.5,547.9h0M90.8,551.0h0M89.2,538.4h0M76.2,553.4h0M120.9,507.5h0M87.2,540.9h0M94.8,552.3h0M93.8,554.2h0M85.5,530.8h0M111.4,525.4h0M85.8,559.2h0M113.8,539.9h0M90.4,537.9h0M93.3,554.4h0M103.7,548.5h0M99.7,545.0h0M87.9,554.3h0M75.8,560.2h0M112.3,528.1h0M97.0,551.4h0M97.3,521.7h0M93.6,534.4h0M82.0,556.8h0M97.8,551.6h0M137.0,518.4h0M94.9,555.0h0M103.7,526.9h0M89.0,556.9h0M106.7,519.9h0M90.3,546.1h0M79.6,552.0h0M110.3,544.8h0M73.3,537.7h0M89.9,554.6h0M92.2,529.4h0M88.7,542.9h0M86.3,546.7h0M114.0,540.7h0M86.5,538.6h0M88.1,545.6h0M81.7,558.4h0M69.0,508.6h0M74.5,554.3h0M97.3,530.0h0M111.1,525.1h0M90.3,549.3h0M92.7,548.4h0M75.0,545.7h0M72.1,548.8h0M94.1,554.8h0M79.0,540.5h0M71.2,543.3h0M99.1,553.1h0M94.7,553.4h0M106.0,547.6h0M101.9,541.3h0M114.2,508.1h0M133.0,509.7h0M92.7,538.4h0M79.0,543.0h0M75.6,559.5h0M69.6,550.3h0M98.8,513.8h0M110.7,542.4h0M99.9,537.0h0M88.7,553.5h0M98.6,535.9h0M72.6,554.1h0M81.1,533.9h0M78.2,537.4h0M91.1,557.9h0M89.8,537.5h0M85.5,546.7h0M75.5,546.9h0M90.2,540.8h0M94.4,531.8h0M80.0,548.9h0M89.9,530.7h0M99.7,555.1h0M121.8,527.9h0M90.9,536.1h0M101.8,542.5h0M77.2,530.7h0M91.9,544.8h0M67.9,555.1h0M112.0,550.4h0M91.5,544.0h0M81.2,543.4h0M83.9,527.5h0M82.0,557.0h0M70.1,537.8h0M103.5,540.4h0M85.5,527.7h0M98.0,537.7h0M99.1,526.9h0M90.6,502.4h0M95.7,559.6h0M106.4,513.1h0M105.8,524.0h0M85.4,541.3h0M80.6,532.8h0M77.5,531.1h0M74.8,544.2h0M75.6,557.7h0M89.5,556.8h0M110.0,544.9h0M112.6,533.5h0M85.2,534.0h0M118.0,516.9h0M78.3,562.0h0M64.5,544.4h0M92.9,559.5h0M127.1,519.2h0M97.6,540.0h0M71.5,553.7h0M99.6,548.7h0M99.7,533.9h0M105.1,512.8h0M108.5,505.5h0M100.7,562.0h0M111.6,530.1h0M86.7,550.0h0M84.5,563.9h0M79.3,550.5h0M76.6,550.6h0M80.2,537.1h0M106.8,544.0h0M90.3,534.3h0M137.0,502.4h0M97.2,523.1h0M116.4,541.3h0M92.8,532.3h0M86.0,548.0h0M120.7,540.7h0M101.3,553.3h0M102.9,544.1h0M96.1,543.4h0M116.9,549.8h0M97.8,544.0h0M101.4,549.0h0M101.4,536.2h0M73.0,541.3h0M93.6,543.1h0M81.3,547.9h0M93.7,547.2h0M87.2,553.8h0M99.6,535.5h0M78.2,537.6h0M94.0,539.2h0M70.3,545.4h0M94.6,536.6h0M91.1,540.6h0M96.4,548.1h0M83.0,555.5h0M99.1,539.7h0M103.1,546.2h0M85.6,540.6h0M101.7,540.0h0M103.6,523.1h0M108.8,528.3h0M86.9,551.3h0M78.1,557.1h0M74.6,557.6h0M92.1,553.2h0M87.8,533.6h0M99.5,543.9h0M75.3,553.4h0M91.9,549.7h0M81.8,543.4h0M103.8,543.0h0M77.7,542.2h0M115.8,544.4h0M97.6,560.2h0M90.5,546.0h0M90.9,558.1h0M96.3,536.2h0M66.7,552.3h0M74.2,557.3h0M104.2,527.5h0M74.4,521.6h0M84.0,545.0h0M90.6,535.6h0M92.9,535.7h0M113.1,541.3h0M95.9,522.2h0M95.5,547.0h0M90.4,542.1h0M86.2,552.6h0M93.2,546.6h0M80.8,548.7h0M72.7,536.5h0M98.2,539.7h0M110.5,535.8h0M68.3,560.2h0M81.4,545.8h0M93.8,549.6h0M72.9,556.1h0M91.7,557.3h0M99.5,529.0h0M111.0,532.0h0M78.6,560.8h0M125.3,517.8h0M84.2,545.4h0M88.0,560.6h0M87.8,540.8h0M87.5,546.4h0M84.4,515.7h0M130.2,502.4h0M119.8,526.3h0M101.3,541.5h0M91.7,547.5h0M133.4,517.0h0M100.8,536.6h0M109.2,561.7h0M69.7,553.7h0M86.9,537.9h0M112.3,534.3h0M97.0,548.9h0M76.7,537.1h0M93.3,549.9h0M93.2,542.7h0M86.9,518.6h0M124.0,506.8h0M106.4,537.3h0M72.1,552.3h0M137.0,527.3h0M77.7,555.7h0M78.1,557.6h0M103.9,528.2h0M89.0,507.9h0M77.7,536.6h0M91.8,553.5h0M106.3,547.4h0M91.2,545.4h0M108.4,542.1h0M102.8,543.2h0M96.0,521.5h0M92.0,551.1h0M90.2,518.4h0M89.1,532.3h0M85.6,544.1h0M91.4,549.6h0M103.0,544.7h0M98.7,547.2h0M137.0,522.7h0M77.9,541.0h0M65.7,549.8h0M74.6,555.9h0M116.7,512.9h0M82.6,552.5h0M78.9,538.2h0M95.6,555.4h0M85.1,562.8h0M137.0,502.4h0M73.8,552.4h0M79.7,544.3h0M89.7,542.9h0M89.9,530.6h0M81.2,546.8h0M88.2,533.5h0M75.5,517.4h0M101.4,539.1h0M96.8,538.0h0M79.1,555.6h0M73.8,549.0h0M98.5,547.3h0M97.5,536.9h0M89.3,541.5h0M82.5,502.4h0M110.7,546.6h0M88.7,553.7h0M92.1,532.0h0M115.9,547.3h0M72.6,542.5h0M92.9,548.4h0M137.0,528.4h0M123.4,537.0h0M106.7,541.4h0M68.5,540.2h0M89.9,545.7h0M91.0,539.5h0M109.2,544.0h0M98.6,539.4h0M82.7,503.9h0M119.5,541.1h0M78.9,562.3h0M83.0,538.8h0M94.8,551.0h0M90.8,549.6h0M81.5,556.2h0M78.0,563.5h0M91.0,555.3h0M96.9,550.6h0M99.5,534.7h0M105.3,531.6h0M80.8,551.6h0M71.6,549.5h0M85.0,550.5h0M89.9,548.1h0M102.5,550.3h0M121.0,502.4h0M89.9,560.9h0M117.9,530.9h0M91.3,560.1h0M86.8,544.6h0M95.6,556.8h0M82.0,550.3h0M87.4,556.8h0M95.8,530.8h0M93.0,553.6h0M89.3,537.7h0M49.2,541.7h0M79.9,551.2h0M97.3,555.3h0M96.1,550.1h0M100.7,550.5h0M97.1,542.1h0M94.7,557.5h0M92.6,562.4h0M137.0,507.0h0M83.5,559.8h0M95.4,518.0h0M86.3,557.0h0M104.9,525.4h0M85.0,527.5h0M100.2,551.1h0M81.8,547.7h0M86.2,541.5h0M137.0,502.4h0M85.5,537.2h0M109.0,530.5h0M104.0,537.7h0M84.5,550.1h0M121.5,535.8h0M87.7,554.3h0M87.4,551.7h0M81.8,564.4h0M89.4,545.0h0M93.9,552.0h0M105.1,525.6h0M76.7,541.0h0M112.4,539.0h0M88.9,536.9h0M93.7,546.1h0M78.5,521.8h0M58.8,513.8h0M72.3,547.9h0M89.5,566.8h0M82.1,539.1h0M74.5,545.0h0M70.3,566.9h0M85.4,542.2h0M86.6,552.9h0M80.8,543.6h0M97.1,550.4h0M95.0,542.6h0M105.9,556.6h0M104.9,530.2h0M93.0,538.3h0M87.8,531.5h0M90.3,544.6h0M66.6,556.3h0M88.0,528.6h0M93.1,553.8h0M110.0,520.9h0M95.0,554.6h0M90.9,550.6h0M97.0,517.0h0M91.0,540.9h0M136.5,527.8h0M96.4,536.5h0M81.6,557.8h0M86.1,548.7h0M137.0,516.0h0M96.2,545.4h0M85.3,550.4h0M88.1,539.3h0M107.6,537.9h0M79.0,552.3h0M135.2,520.6h0M96.3,519.6h0M72.7,556.1h0M86.9,540.6h0M95.3,531.8h0M137.0,502.4h0M87.2,550.2h0M97.7,530.1h0M124.0,515.3h0M84.5,540.0h0M99.8,543.3h0M74.6,530.1h0M106.8,537.9h0M137.0,519.7h0M98.7,541.7h0M77.6,553.0h0M87.8,524.5h0M77.8,554.2h0M92.5,543.4h0M137.0,516.6h0M71.3,552.8h0M137.0,514.1h0M95.8,549.6h0M74.1,549.2h0M84.1,541.6h0M115.0,530.7h0M83.0,553.1h0M91.5,552.1h0M78.3,551.8h0M96.6,552.3h0M89.4,544.0h0M97.9,529.4h0M80.3,524.2h0M93.4,551.5h0M82.5,552.8h0M82.8,552.7h0M102.9,547.5h0M91.1,545.1h0M98.6,531.5h0M111.6,523.7h0M108.5,523.4h0M85.7,542.8h0M73.2,546.9h0M77.5,551.9h0M92.8,544.0h0M99.4,519.8h0M102.3,552.9h0M72.1,553.7h0M98.0,552.8h0M119.3,502.4h0M128.0,523.2h0M70.0,544.2h0M90.3,516.8h0M102.0,502.8h0M113.6,534.4h0M114.7,502.4h0M91.4,541.4h0M91.4,544.7h0M91.9,554.4h0M91.2,545.5h0M109.9,545.9h0M111.2,528.8h0M92.1,545.3h0M114.0,507.5h0M69.2,549.3h0M69.3,545.4h0M82.7,538.9h0M90.4,552.4h0M117.0,506.7h0M86.3,551.2h0M118.2,509.7h0M72.2,563.1h0M78.5,536.3h0M83.8,547.9h0M92.7,542.7h0M91.7,548.3h0M92.1,524.1h0M100.5,525.5h0M133.6,531.2h0M84.3,546.0h0M83.2,537.2h0M128.2,508.5h0M86.0,548.6h0M85.7,540.0h0M84.3,555.2h0M68.0,550.0h0M80.7,551.5h0M76.4,556.5h0M86.6,535.8h0M96.7,552.0h0M132.2,518.7h0M72.5,545.2h0M88.2,560.1h0M109.2,561.5h0M79.0,551.8h0M103.4,526.4h0M59.7,549.3h0M102.6,554.8h0M81.1,544.4h0M86.2,557.7h0M103.6,544.3h0M98.8,551.1h0M90.5,536.4h0M83.3,547.0h0M83.5,558.0h0M102.3,554.1h0M127.1,529.2h0M96.0,535.1h0M93.9,543.1h0M126.8,517.3h0M131.0,530.3h0M97.6,542.8h0M116.2,504.8h0M75.2,553.0h0M112.9,526.6h0M94.9,536.1h0M95.3,539.3h0M80.1,552.4h0M93.6,546.7h0M134.5,517.2h0M101.5,550.0h0M128.3,545.8h0M125.8,502.4h0M99.0,548.2h0M84.4,555.4h0M86.6,537.9h0M96.9,547.2h0M84.0,560.1h0M74.2,559.7h0M87.2,536.0h0M91.7,546.8h0M124.8,545.7h0M81.7,554.2h0M77.8,550.6h0M131.6,540.2h0M101.8,549.8h0M88.2,548.4h0M88.2,550.2h0M107.1,519.1h0M95.9,545.6h0M98.7,534.8h0M107.1,538.7h0M110.1,537.3h0M100.4,541.2h0M88.5,557.7h0M102.6,539.4h0M118.1,514.8h0M98.6,535.6h0M77.0,561.7h0M75.5,552.5h0M85.7,543.6h0M85.2,552.3h0M95.0,563.6h0M108.7,529.7h0M122.2,519.5h0M62.7,552.4h0M88.1,536.4h0M131.4,518.4h0M86.9,552.6h0M90.5,504.9h0M112.3,562.8h0M69.0,552.9h0M79.7,531.0h0M135.9,528.8h0M71.3,530.1h0M79.3,548.1h0M102.7,556.7h0M100.8,537.9h0M100.4,536.7h0M77.9,556.1h0M117.9,540.5h0M100.6,530.8h0M82.1,555.7h0M104.2,543.8h0M75.9,551.9h0M75.6,540.7h0M74.6,546.3h0M96.3,535.7h0M124.3,515.5h0M92.2,542.9h0M82.4,557.4h0M66.0,552.0h0M83.4,551.2h0M90.7,549.1h0M58.0,544.6h0M116.2,521.5h0M90.6,547.9h0M80.4,545.4h0M81.8,555.5h0M79.0,544.9h0M91.8,542.4h0M118.0,542.6h0M137.0,509.5h0M128.9,502.9h0M85.4,537.8h0M88.8,550.3h0M105.9,550.0h0M85.7,525.9h0M95.6,520.8h0M137.0,503.4h0M95.6,531.2h0M85.2,532.8h0M96.9,543.4h0M86.1,555.7h0M81.8,527.9h0M81.9,550.3h0M90.1,537.5h0M72.1,556.8h0M93.2,535.7h0M86.5,515.5h0M80.4,557.4h0M103.9,551.5h0M73.1,556.0h0M116.5,544.0h0M106.6,559.1h0M134.4,502.4h0M118.3,536.1h0M92.6,553.0h0M66.7,565.8h0M81.7,542.5h0M113.8,542.3h0M83.5,538.4h0M94.8,502.4h0M100.4,529.5h0M76.2,553.4h0M125.9,528.3h0M84.9,553.3h0M82.9,545.1h0M72.4,541.0h0M81.4,548.0h0M86.9,554.3h0M94.4,550.6h0M104.4,541.2h0M97.5,547.0h0M69.9,533.7h0M109.1,509.1h0M90.9,546.9h0M96.7,554.5h0M121.2,502.4h0M102.9,549.4h0M104.2,527.6h0M93.6,541.0h0M93.4,556.9h0M102.5,506.9h0M116.6,556.7h0M130.8,541.9h0M92.5,557.9h0M80.9,533.3h0M89.0,533.0h0M98.3,540.6h0M64.2,559.8h0M71.3,550.3h0M93.0,545.9h0M80.1,538.1h0M116.8,512.9h0M101.8,535.4h0M72.4,554.7h0M100.4,535.2h0M107.8,508.0h0M106.6,552.4h0M137.0,503.4h0M75.8,553.0h0M114.6,527.3h0M100.6,548.3h0M80.7,536.8h0M102.4,542.1h0" stroke="#000" stroke-width="1.9" stroke-linecap="round" fill="none"/>
<path d="M153.2,560.7h0M172.3,540.9h0M167.6,542.4h0M162.2,556.7h0M163.9,550.8h0M172.2,546.2h0M184.8,547.6h0M170.3,546.7h0M155.6,556.4h0M171.9,548.2h0M165.9,551.5h0M169.5,543.4h0M189.0,529.3h0M176.3,547.2h0M180.7,534.8h0M173.6,545.0h0M154.5,554.7h0M172.6,546.7h0M200.3,524.9h0M179.3,533.7h0M241.7,510.5h0M157.7,548.3h0M169.0,536.1h0M170.6,551.9h0M162.3,555.3h0M162.5,551.2h0M155.7,556.4h0M191.4,529.9h0M188.4,534.6h0M184.8,538.0h0M159.0,557.5h0M172.2,545.0h0M155.3,550.8h0M169.2,549.5h0M163.5,544.2h0M208.2,549.4h0M184.5,545.6h0M170.5,540.7h0M186.6,532.1h0M163.6,545.0h0M179.5,550.0h0M170.6,548.1h0M178.7,546.7h0M213.8,502.4h0M169.4,554.2h0M191.5,539.9h0M199.1,539.8h0M187.3,526.7h0M191.0,545.5h0M194.3,545.1h0M177.7,536.3h0M176.8,541.1h0M171.3,554.1h0M168.0,554.5h0M160.8,551.5h0M182.1,545.7h0M196.9,524.7h0M175.8,518.3h0M170.4,540.0h0M155.0,559.2h0M166.3,544.3h0M169.3,562.0h0M218.3,512.9h0M170.8,539.5h0M158.3,548.2h0M181.1,537.1h0M190.1,546.9h0M173.3,543.0h0M165.7,543.0h0M241.7,502.4h0M172.1,534.7h0M165.0,558.4h0M198.0,536.6h0M171.7,527.7h0M176.0,525.0h0M162.9,545.7h0M182.7,533.0h0M198.3,540.9h0M182.2,539.6h0M186.2,537.7h0M177.0,542.5h0M180.7,538.3h0M170.9,549.1h0M186.6,552.2h0M175.6,544.1h0M166.5,550.4h0M184.4,533.2h0M159.1,540.1h0M159.6,559.7h0M174.0,548.3h0M162.6,556.4h0M167.6,553.2h0M160.3,560.3h0M178.3,546.6h0M189.3,536.7h0M174.5,526.0h0M173.6,546.3h0M169.2,554.8h0M152.3,564.7h0M174.7,549.3h0M206.7,514.6h0M177.3,549.8h0M185.8,513.6h0M165.7,547.8h0M172.1,535.0h0M221.5,509.4h0M171.5,546.4h0M193.5,522.4h0M167.6,534.1h0M182.3,549.6h0M164.4,551.9h0M174.9,544.8h0M170.1,549.0h0M185.2,539.5h0M175.3,525.8h0M172.3,533.1h0M163.2,557.3h0M186.1,540.4h0M177.3,526.5h0M191.4,533.6h0M176.6,540.9h0M182.7,532.3h0M175.8,540.7h0M184.6,531.7h0M166.2,543.3h0M155.8,549.8h0M165.4,546.5h0M182.5,530.8h0M178.8,539.5h0M176.3,537.2h0M162.5,550.3h0M195.9,548.9h0M167.8,552.0h0M181.6,539.0h0M163.9,554.4h0M176.8,543.0h0M158.5,559.8h0M241.7,502.4h0M171.1,546.3h0M164.8,555.6h0M179.5,524.8h0M173.9,552.2h0M201.8,519.5h0M207.8,528.2h0M161.2,544.4h0M163.3,547.8h0M184.0,535.4h0M168.6,552.3h0M181.2,536.0h0M165.9,541.7h0M218.0,531.3h0M149.1,557.9h0M163.4,555.1h0M172.3,546.9h0M225.1,520.7h0M158.8,556.2h0M161.8,554.2h0M179.4,519.9h0M170.5,539.7h0M153.8,521.6h0M216.1,507.0h0M201.9,539.2h0M163.2,557.6h0M171.9,540.8h0M172.2,551.7h0M185.9,537.4h0M158.7,556.3h0M152.4,565.7h0M178.9,535.3h0M186.5,537.5h0M160.6,560.6h0M191.1,536.9h0M160.0,548.7h0M178.1,554.3h0M199.5,547.2h0M168.9,535.3h0M171.1,540.8h0M196.8,518.7h0M170.0,549.1h0M164.3,560.3h0M169.0,548.8h0M154.5,570.0h0M174.1,545.5h0M211.0,521.6h0M198.7,523.0h0M196.8,545.9h0M204.6,521.5h0M217.5,508.2h0M180.9,529.3h0M212.9,502.4h0M193.0,532.6h0M157.5,554.1h0M167.1,518.8h0M167.4,551.9h0M184.6,543.5h0M183.0,540.0h0M177.8,537.2h0M174.6,540.1h0M157.5,549.8h0M173.6,547.3h0M178.7,544.5h0M159.9,549.9h0M183.1,535.6h0M178.5,548.0h0M159.0,546.5h0M177.6,540.1h0M168.1,549.8h0M170.1,543.0h0M185.1,535.4h0M183.1,537.9h0M165.9,558.3h0M182.8,527.4h0M167.9,539.8h0M177.3,541.4h0M156.1,552.9h0M153.1,545.8h0M195.3,528.4h0M179.7,538.4h0M199.7,513.9h0M187.3,531.5h0M158.2,550.6h0M159.4,549.2h0M186.7,538.9h0M162.6,542.8h0M169.6,554.9h0M176.3,548.0h0M169.2,534.8h0M164.0,549.5h0M164.8,548.0h0M179.4,542.4h0M199.4,510.7h0M185.2,536.3h0M184.3,549.9h0M176.9,540.0h0M172.8,538.4h0M159.1,541.9h0M177.9,536.3h0M184.7,538.1h0M179.2,524.7h0M187.8,534.7h0M175.9,536.0h0M218.9,512.0h0M176.9,554.0h0M197.5,502.4h0M160.2,565.3h0M154.7,554.5h0M216.5,535.3h0M172.5,550.3h0M163.8,540.3h0M182.9,534.8h0M168.8,551.8h0M164.3,539.5h0M175.6,547.5h0M172.4,550.4h0M168.1,559.0h0M179.7,539.8h0M178.5,538.1h0M164.6,537.1h0M164.1,545.0h0M211.5,517.0h0M201.7,506.0h0M166.9,552.8h0M166.2,545.8h0M178.6,538.9h0M167.1,546.3h0M163.8,551.4h0M171.7,544.2h0M171.1,546.7h0M157.9,544.4h0M165.3,545.3h0M188.4,552.6h0M167.5,543.4h0M177.8,550.1h0M173.5,538.8h0M172.7,542.9h0M168.0,558.0h0M201.1,542.6h0M180.5,534.0h0M160.7,549.1h0M158.1,562.1h0M168.1,566.0h0M187.1,543.2h0M179.9,527.0h0M162.2,540.5h0M170.7,540.2h0M205.7,522.1h0M188.3,541.9h0M167.9,547.2h0M198.6,506.7h0M168.4,547.0h0M152.7,556.6h0M167.4,546.2h0M172.0,534.3h0M182.5,536.6h0M189.5,517.7h0M171.6,543.7h0M178.3,548.1h0M166.8,533.9h0M176.3,537.1h0M151.1,542.8h0M173.1,551.1h0M179.7,541.7h0M157.4,550.5h0M169.5,550.2h0M185.3,541.3h0M217.3,529.5h0M151.5,556.2h0M174.5,542.5h0M174.8,548.2h0M161.3,558.4h0M166.2,553.9h0M169.4,548.7h0M156.5,562.7h0M172.5,540.7h0M191.7,529.3h0M162.7,549.8h0M171.8,548.9h0M223.0,514.7h0M163.5,558.8h0M170.2,557.6h0M184.7,549.9h0M163.5,556.6h0M162.0,551.9h0M163.6,551.3h0M154.3,556.5h0M173.1,555.4h0M175.2,545.9h0M164.6,548.7h0M166.7,549.9h0M182.0,529.4h0M204.9,522.7h0M173.8,550.1h0M153.8,544.8h0M187.7,530.0h0M156.1,539.3h0M175.6,551.8h0M172.9,543.2h0M174.2,545.3h0M194.7,529.9h0M157.2,552.1h0M166.5,543.2h0M180.1,544.5h0M160.2,563.0h0M192.9,540.9h0M188.2,534.4h0M178.9,546.0h0M168.9,542.4h0M193.2,529.8h0M180.6,537.0h0M174.1,540.4h0M168.1,540.1h0M157.3,533.0h0M185.7,539.9h0M197.6,544.1h0M170.4,544.1h0M196.4,510.8h0M169.9,544.3h0M200.0,526.2h0M209.0,536.2h0M168.3,545.1h0M179.6,543.8h0M170.5,539.2h0M169.7,537.2h0M221.2,511.6h0M193.9,536.0h0M171.8,549.8h0M166.7,553.9h0M160.3,560.1h0M151.8,556.7h0M157.7,545.9h0M166.3,534.6h0M163.0,548.9h0M189.9,521.1h0M174.1,540.0h0M163.9,548.4h0M201.2,530.4h0M160.3,555.7h0M181.5,549.8h0M163.2,541.1h0M164.3,553.0h0M171.2,547.1h0M208.5,502.4h0M184.3,549.2h0M177.4,527.1h0M171.3,538.1h0M184.6,526.0h0M186.2,529.6h0M205.9,532.7h0M203.7,515.1h0M171.8,544.4h0M160.4,559.4h0M160.4,545.5h0M170.6,539.3h0M183.8,541.2h0M207.8,527.5h0M179.1,553.7h0M241.7,502.4h0M186.5,542.1h0M170.2,544.5h0M169.6,536.8h0M186.3,534.3h0M158.6,512.1h0M200.6,542.6h0M193.1,525.7h0M241.7,502.4h0M154.6,565.7h0M175.9,549.7h0M186.7,538.2h0M160.3,549.8h0M214.0,521.1h0M173.0,540.0h0M174.6,538.7h0M186.1,533.4h0M185.8,540.0h0M176.6,535.9h0M180.5,517.6h0M176.5,561.2h0M179.7,537.3h0M163.8,553.4h0M165.3,561.3h0M195.4,536.3h0M177.0,541.6h0M217.5,518.4h0M155.2,553.1h0M168.0,533.6h0M186.2,539.7h0M172.7,531.1h0M166.9,556.8h0M185.4,549.0h0M176.6,552.2h0M186.6,549.0h0M168.9,547.3h0M148.6,560.8h0M183.3,545.5h0M201.3,519.9h0M171.8,548.9h0M188.2,529.2h0M186.4,551.3h0M189.7,545.3h0M197.8,522.2h0M198.6,523.8h0M167.5,554.5h0M181.5,542.7h0M193.9,535.5h0M180.2,552.3h0M157.3,560.2h0M176.4,556.2h0M183.6,535.0h0M191.2,539.9h0M163.7,555.3h0M176.9,527.1h0M162.8,558.3h0M198.5,529.8h0M169.6,548.0h0M164.6,538.5h0M164.7,547.9h0M162.4,551.0h0M189.5,538.4h0M163.7,553.4h0M231.0,507.5h0M173.4,540.9h0M163.7,552.3h0M159.5,554.2h0M164.4,530.8h0M184.8,525.4h0M152.2,559.2h0M183.1,539.9h0M174.4,537.9h0M171.4,554.4h0M170.9,548.5h0M170.0,545.0h0M168.9,554.3h0M164.7,560.2h0M188.2,528.1h0M172.0,551.4h0M185.0,521.7h0M195.4,534.4h0M161.5,556.8h0M156.3,551.6h0M188.1,518.4h0M162.7,555.0h0M186.4,526.9h0M168.6,556.9h0M199.0,519.9h0M173.5,546.1h0M158.3,552.0h0M172.3,544.8h0M172.0,537.7h0M161.1,554.6h0M183.5,529.4h0M181.2,542.9h0M179.9,546.7h0M173.4,540.7h0M170.8,538.6h0M179.0,545.6h0M175.4,558.4h0M183.9,508.6h0M177.9,554.3h0M194.9,530.0h0M192.4,525.1h0M168.5,549.3h0M164.2,548.4h0M171.6,545.7h0M170.1,548.8h0M186.0,554.8h0M172.6,540.5h0M178.6,543.3h0M179.6,553.1h0M174.2,553.4h0M164.8,547.6h0M181.6,541.3h0M181.0,508.1h0M208.9,509.7h0M173.5,538.4h0M174.1,543.0h0M178.2,559.5h0M164.4,550.3h0M206.8,513.8h0M180.6,542.4h0M170.7,537.0h0M169.1,553.5h0M180.3,535.9h0M171.0,554.1h0M189.5,533.9h0M174.2,537.4h0M163.4,557.9h0M176.5,537.5h0M154.5,546.7h0M152.0,546.9h0M184.0,540.8h0M170.4,531.8h0M172.0,548.9h0M176.4,530.7h0M172.0,555.1h0M203.1,527.9h0M177.0,536.1h0M182.1,542.5h0M204.4,530.7h0M174.4,544.8h0M160.1,555.1h0M168.5,550.4h0M175.7,544.0h0M166.6,543.4h0M163.5,527.5h0M164.5,557.0h0M169.8,537.8h0M212.1,540.4h0M170.4,527.7h0M170.2,537.7h0M167.9,526.9h0M227.3,502.4h0M160.2,559.6h0M193.6,513.1h0M187.0,524.0h0M167.8,541.3h0M174.1,532.8h0M183.0,531.1h0M174.9,544.2h0M155.5,557.7h0M180.7,556.8h0M168.4,544.9h0M176.6,533.5h0M177.8,534.0h0M210.4,516.9h0M169.3,562.0h0M170.8,544.4h0M158.6,559.5h0M194.9,519.2h0M177.3,540.0h0M175.0,553.7h0M171.8,548.7h0M181.2,533.9h0M195.1,512.8h0M212.0,505.5h0M165.2,562.0h0M186.5,530.1h0M159.1,550.0h0M155.6,563.9h0M183.5,550.5h0M170.9,550.6h0M163.0,537.1h0M176.9,544.0h0M169.0,534.3h0M224.1,502.4h0M202.4,523.1h0M166.9,541.3h0M181.1,532.3h0M177.1,548.0h0M176.6,540.7h0M164.5,553.3h0M166.3,544.1h0M160.5,543.4h0M174.2,549.8h0M172.9,544.0h0M169.0,549.0h0M192.8,536.2h0M166.1,541.3h0M167.6,543.1h0M180.1,547.9h0M174.3,547.2h0M155.5,553.8h0M195.2,535.5h0M181.7,537.6h0M168.3,539.2h0M174.7,545.4h0M174.4,536.6h0M187.3,540.6h0M164.4,548.1h0M168.3,555.5h0M162.0,539.7h0M161.1,546.2h0M180.5,540.6h0M172.6,540.0h0M183.3,523.1h0M182.4,528.3h0M163.8,551.3h0M157.1,557.1h0M162.7,557.6h0M164.9,553.2h0M183.1,533.6h0M157.7,543.9h0M160.6,553.4h0M164.3,549.7h0M163.6,543.4h0M172.4,543.0h0M161.3,542.2h0M190.2,544.4h0M177.6,560.2h0M159.8,546.0h0M198.9,558.1h0M176.1,536.2h0M149.5,552.3h0M157.6,557.3h0M212.4,527.5h0M207.0,521.6h0M177.7,545.0h0M177.1,535.6h0M169.2,535.7h0M176.4,541.3h0M201.3,522.2h0M166.5,547.0h0M178.9,542.1h0M156.7,552.6h0M165.2,546.6h0M165.7,548.7h0M204.1,536.5h0M179.9,539.7h0M182.0,535.8h0M166.8,560.2h0M169.6,545.8h0M162.1,549.6h0M167.6,556.1h0M157.1,557.3h0M183.3,529.0h0M182.3,532.0h0M178.5,560.8h0M205.0,517.8h0M188.2,545.4h0M163.5,560.6h0M187.0,540.8h0M169.4,546.4h0M189.4,515.7h0M205.3,502.4h0M202.7,526.3h0M157.2,541.5h0M172.8,547.5h0M211.0,517.0h0M191.5,536.6h0M187.1,561.7h0M161.1,553.7h0M162.0,537.9h0M181.6,534.3h0M177.2,548.9h0M159.6,537.1h0M170.0,549.9h0M178.6,542.7h0M179.9,518.6h0M209.0,506.8h0M176.9,537.3h0M152.7,552.3h0M197.5,527.3h0M160.4,555.7h0M162.4,557.6h0M194.2,528.2h0M175.9,507.9h0M187.2,536.6h0M177.2,553.5h0M213.3,547.4h0M172.8,545.4h0M167.9,542.1h0M179.7,543.2h0M205.9,521.5h0M174.1,551.1h0M179.3,518.4h0M159.4,532.3h0M171.0,544.1h0M160.5,549.6h0M166.3,544.7h0M180.3,547.2h0M189.5,522.7h0M160.2,541.0h0M160.2,549.8h0M155.8,555.9h0M186.5,512.9h0M167.2,552.5h0M180.2,538.2h0M163.7,555.4h0M168.7,562.8h0M214.5,502.4h0M176.6,552.4h0M169.5,544.3h0M166.3,542.9h0M170.9,530.6h0M183.8,546.8h0M176.6,533.5h0M226.7,517.4h0M181.5,539.1h0M169.4,538.0h0M166.8,555.6h0M164.5,549.0h0M165.2,547.3h0M161.1,536.9h0M164.7,541.5h0M209.7,502.4h0M173.7,546.6h0M165.8,553.7h0M163.8,532.0h0M173.2,547.3h0M177.3,542.5h0M165.8,548.4h0M240.6,528.4h0M216.0,537.0h0M178.4,541.4h0M162.5,540.2h0M168.5,545.7h0M183.6,539.5h0M169.4,544.0h0M186.5,539.4h0M193.3,503.9h0M194.1,541.1h0M153.6,562.3h0M177.4,538.8h0M154.5,551.0h0M178.3,549.6h0M163.2,556.2h0M154.9,563.5h0M170.4,555.3h0M165.0,550.6h0M174.6,534.7h0M190.0,531.6h0M167.6,551.6h0M160.8,549.5h0M166.0,550.5h0M168.2,548.1h0M165.1,550.3h0M216.2,502.4h0M157.1,560.9h0M193.6,530.9h0M162.5,560.1h0M165.9,544.6h0M196.0,556.8h0M155.3,550.3h0M165.4,556.8h0M184.0,530.8h0M164.8,553.6h0M185.5,537.7h0M177.2,541.7h0M160.1,551.2h0M159.6,555.3h0M176.2,550.1h0M175.6,550.5h0M167.6,542.1h0M165.9,557.5h0M160.6,562.4h0M213.5,507.0h0M153.1,559.8h0M190.7,518.0h0M162.2,557.0h0M211.7,525.4h0M210.7,527.5h0M158.0,551.1h0M168.7,547.7h0M163.3,541.5h0M222.2,502.4h0M173.9,537.2h0M195.7,530.5h0M166.6,537.7h0M179.2,550.1h0M216.7,535.8h0M175.4,554.3h0M174.6,551.7h0M169.2,564.4h0M165.0,545.0h0M166.6,552.0h0M200.9,525.6h0M164.1,541.0h0M165.1,539.0h0M194.4,536.9h0M179.1,546.1h0M181.6,521.8h0M199.6,513.8h0M156.3,547.9h0M158.6,566.8h0M175.5,539.1h0M173.2,545.0h0M159.2,566.9h0M203.1,542.2h0M177.9,552.9h0M174.9,543.6h0M173.4,550.4h0M170.9,542.6h0M170.0,556.6h0M186.5,530.2h0M180.7,538.3h0M190.9,531.5h0M167.4,544.6h0M166.3,556.3h0M178.0,528.6h0M156.3,553.8h0M183.3,520.9h0M170.8,554.6h0M162.4,550.6h0M206.0,517.0h0M173.0,540.9h0M185.9,527.8h0M181.7,536.5h0M164.1,557.8h0M149.4,548.7h0M201.4,516.0h0M161.8,545.4h0M160.1,550.4h0M169.4,539.3h0M182.7,537.9h0M182.0,552.3h0M210.4,520.6h0M190.1,519.6h0M158.7,556.1h0M172.8,540.6h0M178.6,531.8h0M235.0,502.4h0M180.9,550.2h0M196.7,530.1h0M186.6,515.3h0M174.7,540.0h0M189.5,543.3h0M182.5,530.1h0M177.7,537.9h0M226.5,519.7h0M167.1,541.7h0M150.2,553.0h0M183.7,524.5h0M162.0,554.2h0M169.5,543.4h0M221.1,516.6h0M158.7,552.8h0M229.6,514.1h0M151.8,549.6h0M174.5,549.2h0M182.2,541.6h0M222.0,530.7h0M166.5,553.1h0M165.6,552.1h0M187.3,551.8h0M162.7,552.3h0M160.2,544.0h0M176.1,529.4h0M173.3,524.2h0M162.8,551.5h0M179.2,552.8h0M160.9,552.7h0M175.1,547.5h0M175.8,545.1h0M164.5,531.5h0M202.2,523.7h0M191.8,523.4h0M168.4,542.8h0M167.5,546.9h0M154.3,551.9h0M167.3,544.0h0M214.9,519.8h0M178.3,552.9h0M163.2,553.7h0M177.4,552.8h0M197.6,502.4h0M188.9,523.2h0M152.7,544.2h0M214.8,516.8h0M228.9,502.8h0M197.9,534.4h0M216.1,502.4h0M181.5,541.4h0M173.7,544.7h0M167.8,554.4h0M175.9,545.5h0M162.5,545.9h0M184.5,528.8h0M178.4,545.3h0M223.3,507.5h0M169.2,549.3h0M167.5,545.4h0M161.5,538.9h0M154.8,552.4h0M218.6,506.7h0M164.8,551.2h0M200.1,509.7h0M178.2,563.1h0M191.6,536.3h0M176.0,547.9h0M168.0,542.7h0M168.9,548.3h0M186.1,524.1h0M185.6,525.5h0M210.0,531.2h0M152.9,546.0h0M169.2,537.2h0M189.8,508.5h0M169.5,548.6h0M163.2,540.0h0M155.2,555.2h0M175.1,550.0h0M165.2,551.5h0M162.5,556.5h0M182.4,535.8h0M170.7,552.0h0M194.3,518.7h0M169.6,545.2h0M211.4,560.1h0M170.3,561.5h0M171.3,551.8h0M217.4,526.4h0M164.6,549.3h0M158.1,554.8h0M172.3,544.4h0M155.5,557.7h0M173.3,544.3h0M173.5,551.1h0M177.4,536.4h0M164.9,547.0h0M170.6,558.0h0M175.9,554.1h0M201.5,529.2h0M178.6,535.1h0M173.8,543.1h0M199.9,517.3h0M194.4,530.3h0M192.8,542.8h0M191.9,504.8h0M167.5,553.0h0M192.8,526.6h0M201.3,536.1h0M190.9,539.3h0M163.8,552.4h0M159.5,546.7h0M204.4,517.2h0M148.6,550.0h0M165.9,545.8h0M222.9,502.4h0M171.0,548.2h0M160.2,555.4h0M169.5,537.9h0M150.7,547.2h0M172.7,560.1h0M164.6,559.7h0M189.7,536.0h0M167.1,546.8h0M209.1,545.7h0M166.2,554.2h0M161.8,550.6h0M176.9,540.2h0M179.4,549.8h0M171.6,548.4h0M176.9,550.2h0M187.0,519.1h0M160.7,545.6h0M170.5,534.8h0M193.7,538.7h0M166.8,537.3h0M169.8,541.2h0M161.0,557.7h0M170.4,539.4h0M201.0,514.8h0M186.7,535.6h0M159.1,561.7h0M166.4,552.5h0M179.5,543.6h0M167.3,552.3h0M169.9,563.6h0M173.9,529.7h0M196.1,519.5h0M157.3,552.4h0M191.5,536.4h0M191.6,518.4h0M160.8,552.6h0M187.4,504.9h0M180.3,562.8h0M174.9,552.9h0M196.9,531.0h0M189.1,528.8h0M189.8,530.1h0M163.2,548.1h0M166.1,556.7h0M178.5,537.9h0M186.6,536.7h0M159.5,556.1h0M182.7,540.5h0M173.7,530.8h0M162.9,555.7h0M165.8,543.8h0M148.6,551.9h0M189.5,540.7h0M161.4,546.3h0M186.4,535.7h0M201.6,515.5h0M176.6,542.9h0M173.7,557.4h0M180.1,552.0h0M178.1,551.2h0M176.1,549.1h0M168.2,544.6h0M171.4,521.5h0M160.6,547.9h0M173.5,545.4h0M157.8,555.5h0M168.6,544.9h0M162.6,542.4h0M187.9,542.6h0M213.7,509.5h0M214.2,502.9h0M168.4,537.8h0M179.9,550.3h0M163.7,550.0h0M195.6,525.9h0M206.9,520.8h0M215.0,503.4h0M196.2,531.2h0M173.0,532.8h0M183.1,543.4h0M170.0,555.7h0M166.7,527.9h0M178.1,550.3h0M172.3,537.5h0M155.5,556.8h0M176.9,535.7h0M205.5,515.5h0M159.5,557.4h0M174.9,551.5h0M166.6,556.0h0M191.8,544.0h0M158.2,559.1h0M208.5,502.4h0M190.4,536.1h0M176.6,553.0h0M160.9,565.8h0M175.6,542.5h0M188.6,542.3h0M159.7,538.4h0M227.3,502.4h0M174.6,529.5h0M150.3,553.4h0M201.9,528.3h0M199.1,553.3h0M178.4,545.1h0M186.0,541.0h0M168.7,548.0h0M165.8,554.3h0M181.3,550.6h0M173.7,541.2h0M164.3,547.0h0M172.1,533.7h0M207.8,509.1h0M193.5,546.9h0M168.7,554.5h0M241.7,502.4h0M173.7,549.4h0M205.2,527.6h0M215.0,541.0h0M164.5,556.9h0M206.5,506.9h0M170.2,556.7h0M197.2,541.9h0M159.2,557.9h0M169.2,533.3h0M174.0,533.0h0M193.0,540.6h0M160.8,559.8h0M161.9,550.3h0M166.0,545.9h0M166.0,538.1h0M202.8,512.9h0M196.3,535.4h0M161.2,554.7h0M173.3,535.2h0M204.0,508.0h0M162.3,552.4h0M229.3,503.4h0M165.1,553.0h0M179.7,527.3h0M176.5,548.3h0M168.8,536.8h0M183.7,542.1h0" stroke="#000" stroke-width="1.9" stroke-linecap="round" fill="none"/>
<rect x="37.5" y="415" width="208.9" height="160.75" fill="none" stroke="#444" stroke-width="0.9"/>
<line x1="141.00" y1="415.00" x2="141.00" y2="575.75" stroke="#444" stroke-width="0.9"/>
<line x1="37.50" y1="495.00" x2="246.40" y2="495.00" stroke="#444" stroke-width="0.9"/>
<line x1="35.70" y1="419.25" x2="37.50" y2="419.25" stroke="#444" stroke-width="0.8"/>
<text x="35.00" y="421.15" font-size="5.2" font-weight="bold" text-anchor="end">1.5</text>
<line x1="35.70" y1="429.25" x2="37.50" y2="429.25" stroke="#444" stroke-width="0.8"/>
<text x="35.00" y="431.15" font-size="5.2" font-weight="bold" text-anchor="end">1</text>
<line x1="35.70" y1="439.25" x2="37.50" y2="439.25" stroke="#444" stroke-width="0.8"/>
<text x="35.00" y="441.15" font-size="5.2" font-weight="bold" text-anchor="end">0.5</text>
<line x1="35.70" y1="449.25" x2="37.50" y2="449.25" stroke="#444" stroke-width="0.8"/>
<text x="35.00" y="451.15" font-size="5.2" font-weight="bold" text-anchor="end">0</text>
<line x1="35.70" y1="459.25" x2="37.50" y2="459.25" stroke="#444" stroke-width="0.8"/>
<text x="35.00" y="461.15" font-size="5.2" font-weight="bold" text-anchor="end">-0.5</text>
<line x1="35.70" y1="469.25" x2="37.50" y2="469.25" stroke="#444" stroke-width="0.8"/>
<text x="35.00" y="471.15" font-size="5.2" font-weight="bold" text-anchor="end">-1</text>
<line x1="35.70" y1="479.25" x2="37.50" y2="479.25" stroke="#444" stroke-width="0.8"/>
<text x="35.00" y="481.15" font-size="5.2" font-weight="bold" text-anchor="end">-1.5</text>
<line x1="35.70" y1="489.25" x2="37.50" y2="489.25" stroke="#444" stroke-width="0.8"/>
<text x="35.00" y="491.15" font-size="5.2" font-weight="bold" text-anchor="end">-2</text>
<line x1="35.70" y1="499.25" x2="37.50" y2="499.25" stroke="#444" stroke-width="0.8"/>
<text x="35.00" y="501.15" font-size="5.2" font-weight="bold" text-anchor="end">1.5</text>
<line x1="35.70" y1="509.25" x2="37.50" y2="509.25" stroke="#444" stroke-width="0.8"/>
<text x="35.00" y="511.15" font-size="5.2" font-weight="bold" text-anchor="end">1</text>
<line x1="35.70" y1="519.25" x2="37.50" y2="519.25" stroke="#444" stroke-width="0.8"/>
<text x="35.00" y="521.15" font-size="5.2" font-weight="bold" text-anchor="end">0.5</text>
<line x1="35.70" y1="529.25" x2="37.50" y2="529.25" stroke="#444" stroke-width="0.8"/>
<text x="35.00" y="531.15" font-size="5.2" font-weight="bold" text-anchor="end">0</text>
<line x1="35.70" y1="539.25" x2="37.50" y2="539.25" stroke="#444" stroke-width="0.8"/>
<text x="35.00" y="541.15" font-size="5.2" font-weight="bold" text-anchor="end">-0.5</text>
<line x1="35.70" y1="549.25" x2="37.50" y2="549.25" stroke="#444" stroke-width="0.8"/>
<text x="35.00" y="551.15" font-size="5.2" font-weight="bold" text-anchor="end">-1</text>
<line x1="35.70" y1="559.25" x2="37.50" y2="559.25" stroke="#444" stroke-width="0.8"/>
<text x="35.00" y="561.15" font-size="5.2" font-weight="bold" text-anchor="end">-1.5</text>
<line x1="35.70" y1="569.25" x2="37.50" y2="569.25" stroke="#444" stroke-width="0.8"/>
<text x="35.00" y="571.15" font-size="5.2" font-weight="bold" text-anchor="end">-2</text>
<line x1="37.70" y1="575.75" x2="37.70" y2="577.60" stroke="#444" stroke-width="0.8"/>
<text x="37.70" y="583.00" font-size="5.6" font-weight="bold" text-anchor="middle">-3</text>
<line x1="60.80" y1="575.75" x2="60.80" y2="577.60" stroke="#444" stroke-width="0.8"/>
<text x="60.80" y="583.00" font-size="5.6" font-weight="bold" text-anchor="middle">-2</text>
<line x1="83.90" y1="575.75" x2="83.90" y2="577.60" stroke="#444" stroke-width="0.8"/>
<text x="83.90" y="583.00" font-size="5.6" font-weight="bold" text-anchor="middle">-1</text>
<line x1="107.00" y1="575.75" x2="107.00" y2="577.60" stroke="#444" stroke-width="0.8"/>
<text x="107.00" y="583.00" font-size="5.6" font-weight="bold" text-anchor="middle">0</text>
<line x1="130.10" y1="575.75" x2="130.10" y2="577.60" stroke="#444" stroke-width="0.8"/>
<text x="130.10" y="583.00" font-size="5.6" font-weight="bold" text-anchor="middle">1</text>
<line x1="147.55" y1="575.75" x2="147.55" y2="577.60" stroke="#444" stroke-width="0.8"/>
<text x="147.55" y="583.00" font-size="5.6" font-weight="bold" text-anchor="middle">-3</text>
<line x1="169.45" y1="575.75" x2="169.45" y2="577.60" stroke="#444" stroke-width="0.8"/>
<text x="169.45" y="583.00" font-size="5.6" font-weight="bold" text-anchor="middle">-2</text>
<line x1="191.35" y1="575.75" x2="191.35" y2="577.60" stroke="#444" stroke-width="0.8"/>
<text x="191.35" y="583.00" font-size="5.6" font-weight="bold" text-anchor="middle">-1</text>
<line x1="213.25" y1="575.75" x2="213.25" y2="577.60" stroke="#444" stroke-width="0.8"/>
<text x="213.25" y="583.00" font-size="5.6" font-weight="bold" text-anchor="middle">0</text>
<line x1="235.15" y1="575.75" x2="235.15" y2="577.60" stroke="#444" stroke-width="0.8"/>
<text x="235.15" y="583.00" font-size="5.6" font-weight="bold" text-anchor="middle">1</text>
<text x="43.75" y="426.9" font-size="9.1" font-weight="bold" fill="#c8283c" textLength="31.75" lengthAdjust="spacingAndGlyphs"><tspan font-style="italic">r</tspan> = 0.63</text>
<text x="43.75" y="505.2" font-size="9.1" font-weight="bold" fill="#c8283c" textLength="31.75" lengthAdjust="spacingAndGlyphs"><tspan font-style="italic">r</tspan> = 0.62</text>
<text x="202.5" y="488.2" font-size="9.1" font-weight="bold" fill="#c8283c" textLength="31.25" lengthAdjust="spacingAndGlyphs"><tspan font-style="italic">r</tspan> = 0.77</text>
<text x="204.5" y="565.7" font-size="9.1" font-weight="bold" fill="#c8283c" textLength="31.75" lengthAdjust="spacingAndGlyphs"><tspan font-style="italic">r</tspan> = 0.76</text>
<text x="85.9" y="593.6" font-size="7.1" font-weight="bold" text-anchor="middle" fill="#222" textLength="71.75" lengthAdjust="spacingAndGlyphs">Log(CDK7 IC<tspan font-size="4.4" dy="1.4">50</tspan><tspan dy="-1.4">, µmol/L)</tspan></text>
<text x="194.4" y="593.6" font-size="7.1" font-weight="bold" text-anchor="middle" fill="#222" textLength="72.75" lengthAdjust="spacingAndGlyphs">Log(CDK9 IC<tspan font-size="4.4" dy="1.4">50</tspan><tspan dy="-1.4">, µmol/L)</tspan></text>
<text transform="translate(20.4 459) rotate(-90)" font-size="7.0" font-weight="bold" text-anchor="middle" fill="#222" textLength="77" lengthAdjust="spacingAndGlyphs">Log(cell prol. IC<tspan font-size="4.3" dy="1.4">50</tspan><tspan dy="-1.4">, µmol/L)</tspan></text>
<text transform="translate(20 546) rotate(-90)" font-size="7.0" font-weight="bold" text-anchor="middle" fill="#222" textLength="90" lengthAdjust="spacingAndGlyphs">Log(CTD P-S2 IC<tspan font-size="4.3" dy="1.4">50</tspan><tspan dy="-1.4">, µmol/L)</tspan></text>
</g>
<g id="panelE">
<text x="266.00" y="392.70" font-size="14" font-weight="bold">E</text>
<text x="372.50" y="387.60" font-size="8.75" font-weight="bold" text-anchor="middle" textLength="113.50" lengthAdjust="spacingAndGlyphs">LY2857785 CDK7, CDK9 vs.</text>
<text x="370.00" y="399.60" font-size="8.75" font-weight="bold" text-anchor="middle" textLength="116.50" lengthAdjust="spacingAndGlyphs">CTD P-S2, cell prol. potency</text>
<text x="371.50" y="410.60" font-size="8.75" font-weight="bold" text-anchor="middle" textLength="127.00" lengthAdjust="spacingAndGlyphs">Multiple regression correlation</text>
<line x1="315.00" y1="466.00" x2="430.50" y2="466.00" stroke="#777" stroke-width="0.9" stroke-dasharray="1.5 2.5"/>
<clipPath id="cp418"><rect x="315" y="418.75" width="115.5" height="85.75"/></clipPath>
<g clip-path="url(#cp418)">
<line x1="302.60" y1="508.57" x2="421.95" y2="419.83" stroke="#e8788c" stroke-width="1.4" stroke-dasharray="1.1 0.6" opacity="0.7"/>
<path d="M347.7,461.5h0M341.6,478.5h0M350.3,481.2h0M353.0,467.0h0M340.7,483.4h0M376.9,459.3h0M344.3,472.7h0M344.7,472.7h0M356.0,467.5h0M343.2,457.8h0M346.6,473.0h0M359.8,466.8h0M344.6,468.7h0M328.1,483.1h0M346.2,478.1h0M338.6,474.1h0M357.7,473.1h0M353.6,483.3h0M347.0,479.1h0M376.3,439.2h0M351.8,478.0h0M393.4,462.7h0M343.4,484.5h0M339.6,475.0h0M334.4,476.4h0M349.1,470.1h0M354.0,465.7h0M365.6,453.7h0M352.9,449.2h0M380.7,433.9h0M356.3,477.7h0M349.5,455.4h0M351.7,459.0h0M355.3,479.6h0M350.7,486.7h0M351.4,477.0h0M338.9,463.2h0M376.8,436.8h0M401.8,464.2h0M338.3,481.2h0M363.6,451.0h0M341.7,482.5h0M345.5,467.9h0M377.3,476.6h0M364.6,458.0h0M354.7,464.8h0M364.0,452.6h0M359.3,470.2h0M367.0,448.0h0M383.1,460.3h0M343.5,472.4h0M336.6,486.1h0M392.5,428.5h0M333.3,469.7h0M360.2,471.6h0M355.6,475.3h0M346.4,475.0h0M362.3,475.8h0M370.6,460.8h0M351.8,460.9h0M358.4,472.1h0M351.8,465.3h0M332.9,480.4h0M368.4,492.9h0M359.2,486.1h0M379.5,445.5h0M344.3,469.1h0M351.8,469.7h0M371.9,454.2h0M336.9,489.4h0M376.4,448.4h0M341.5,480.6h0M368.4,438.9h0M354.5,453.9h0M346.1,472.5h0M338.3,502.1h0M356.8,442.4h0M332.5,478.6h0M361.9,463.7h0M336.3,466.7h0M351.7,478.4h0M364.4,480.2h0M352.3,458.7h0M337.7,487.1h0M346.4,485.0h0M358.6,466.0h0M339.6,488.9h0M353.6,471.4h0M351.4,477.8h0M340.4,482.6h0M349.5,460.2h0M369.3,468.4h0M358.7,458.3h0M379.5,436.1h0M418.7,423.3h0M351.0,443.4h0M363.1,453.5h0M333.1,476.0h0M350.6,475.9h0M335.5,486.5h0M347.2,476.9h0M340.0,478.3h0M353.9,467.2h0M356.0,467.7h0M363.1,451.1h0M351.2,465.0h0M352.7,472.4h0M337.9,470.6h0M354.5,460.7h0M366.1,433.7h0M385.0,423.3h0M344.3,462.1h0M347.0,475.5h0M353.6,472.3h0M340.9,478.8h0M329.8,502.1h0M347.8,464.9h0M373.4,441.9h0M341.2,486.2h0M343.9,478.9h0M331.3,475.4h0M379.4,425.4h0M337.7,483.3h0M363.6,452.6h0M350.2,473.3h0M359.5,475.5h0M368.3,462.9h0M368.6,476.4h0M360.3,470.5h0M359.0,467.0h0M329.4,490.7h0M336.4,485.3h0M425.1,439.7h0M380.1,443.8h0M336.2,475.7h0M338.6,483.8h0M348.1,480.7h0M366.0,446.8h0M401.3,442.8h0M349.9,461.4h0M351.6,481.8h0M362.6,473.2h0M363.2,460.2h0M352.2,459.1h0M355.7,448.8h0M353.8,482.4h0M353.4,461.0h0M343.8,468.2h0M351.8,489.9h0M326.8,494.0h0M354.3,476.3h0M357.6,446.0h0M355.4,476.5h0M351.6,492.3h0M351.4,481.3h0M365.7,449.3h0M363.0,473.1h0M348.9,464.1h0M343.2,473.5h0M339.2,472.9h0M382.6,455.6h0M349.4,465.5h0M360.6,470.0h0M406.8,426.0h0M381.9,450.5h0M346.4,468.8h0M365.8,463.2h0M349.6,449.4h0M343.1,490.9h0M401.7,428.2h0M346.9,465.5h0M407.7,428.5h0M333.0,464.7h0M348.0,472.6h0M407.8,423.3h0M346.8,469.0h0M352.3,466.2h0M387.2,455.9h0M342.6,489.3h0M345.3,485.8h0M372.9,453.5h0M356.4,467.0h0M349.9,462.9h0M386.0,464.4h0M362.0,472.7h0M336.2,474.1h0M348.0,461.4h0M343.2,475.4h0M379.2,446.9h0M367.6,434.9h0M370.4,457.8h0M359.7,466.5h0M341.1,468.6h0M351.2,455.4h0M350.0,478.7h0M350.1,456.9h0M335.1,502.1h0M340.2,473.6h0M341.6,472.6h0M356.8,483.0h0M342.3,473.6h0M350.4,475.4h0M351.3,475.6h0M339.3,484.6h0M346.0,475.4h0M359.4,473.9h0M387.5,450.5h0M349.5,478.5h0M360.4,450.6h0M340.8,480.2h0M362.5,472.6h0M338.9,468.9h0M343.4,474.1h0M374.4,457.5h0M351.7,480.7h0M332.6,488.2h0M344.6,464.0h0M357.4,472.6h0M343.4,484.8h0M351.4,478.0h0M383.7,423.3h0M337.5,471.0h0M354.6,462.5h0M369.5,447.1h0M369.6,470.0h0M365.7,454.1h0M350.2,490.0h0M326.8,486.2h0M350.0,493.8h0M344.6,500.0h0M378.7,452.7h0M344.4,479.3h0M358.5,458.7h0M361.5,474.8h0M359.9,446.0h0M388.8,466.6h0M364.0,453.7h0M349.4,470.7h0M362.1,467.1h0M334.1,493.2h0M359.9,458.6h0M357.7,463.9h0M346.3,482.9h0M353.4,457.3h0M353.4,444.8h0M356.8,475.0h0M351.1,455.9h0M339.2,466.4h0M350.4,467.3h0M351.0,458.5h0M356.9,455.5h0M366.3,452.9h0M388.1,423.3h0M343.1,483.9h0M379.4,462.8h0M348.9,480.1h0M349.6,475.3h0M345.6,423.3h0M349.5,493.2h0M353.3,460.3h0M352.3,477.5h0M367.7,446.1h0M362.0,442.5h0M348.7,477.6h0M350.9,464.9h0M364.7,443.1h0M379.9,449.1h0M350.2,485.9h0M391.2,438.3h0M345.8,466.7h0M331.3,487.6h0M351.8,480.1h0M341.4,469.3h0M338.9,483.6h0M346.1,487.1h0M338.9,493.9h0M369.9,463.3h0M359.0,457.8h0M346.5,473.4h0M348.7,470.5h0M364.4,465.7h0M343.7,478.4h0M350.2,452.0h0M371.6,451.8h0M370.6,453.1h0M359.1,469.9h0M345.7,485.9h0M355.7,474.2h0M375.6,468.6h0M372.8,446.5h0M346.3,467.1h0M367.4,450.0h0M336.0,477.6h0M338.4,493.1h0M352.1,472.4h0M355.5,452.7h0M367.6,448.3h0M347.3,455.8h0M370.9,446.4h0M357.1,445.3h0M368.6,449.3h0M357.8,479.2h0M360.2,480.1h0M419.8,430.5h0M402.5,430.1h0M353.2,474.3h0M368.4,448.9h0M348.4,473.2h0M343.5,469.0h0M353.5,450.9h0M355.8,464.2h0M345.1,491.4h0M349.5,423.3h0M344.6,470.1h0M337.3,471.4h0M358.0,460.2h0M344.6,472.0h0M341.0,476.8h0M352.7,463.7h0M353.6,452.0h0M366.7,479.9h0M382.3,445.7h0M365.6,451.0h0M398.4,444.6h0M383.7,430.1h0M360.6,450.6h0M373.7,441.0h0M356.0,461.4h0M379.1,445.0h0M373.7,452.0h0M342.9,475.9h0M347.2,471.8h0M347.9,471.0h0M340.5,474.4h0M365.3,464.9h0M366.9,458.8h0M376.2,448.8h0M356.5,475.6h0M373.4,449.2h0M374.8,451.9h0M372.1,465.8h0M356.9,463.9h0M405.7,423.6h0M350.7,491.7h0M356.2,470.7h0M351.8,476.3h0M348.8,485.7h0M348.5,480.8h0M358.4,451.5h0M348.4,457.1h0M343.8,478.1h0M343.2,477.8h0M337.5,490.0h0M342.4,488.6h0M368.7,464.9h0M346.8,478.7h0M368.1,449.1h0M356.5,445.2h0M367.8,462.9h0M341.9,482.4h0M380.2,432.4h0M363.8,476.5h0M349.9,449.8h0M362.8,448.6h0M367.8,451.6h0M336.4,477.9h0M351.9,464.6h0M372.6,455.0h0M372.9,450.4h0M362.0,449.1h0M359.8,459.6h0M366.4,471.7h0M349.4,477.2h0M363.1,459.7h0M347.2,481.5h0M359.3,458.0h0M358.9,477.7h0M358.4,466.1h0M381.4,439.6h0M359.6,468.5h0M338.3,478.4h0M350.9,483.0h0M339.4,478.4h0M357.4,447.1h0M344.8,469.4h0M360.2,434.9h0M358.0,485.5h0M388.4,436.2h0M375.0,448.8h0M381.1,431.1h0M367.9,448.5h0M347.4,482.9h0M374.2,443.6h0M351.6,478.3h0M344.5,481.6h0M359.8,467.7h0M350.2,473.0h0M370.4,478.2h0M330.3,479.0h0M344.0,490.7h0M340.9,477.5h0M371.9,447.1h0M361.1,460.3h0M352.7,458.6h0M388.4,446.6h0M356.7,464.0h0M349.1,474.7h0M349.5,466.0h0M338.4,502.1h0M345.7,475.5h0M351.6,458.8h0M353.8,437.2h0M393.4,423.3h0M374.6,467.8h0M359.8,471.0h0M349.5,460.6h0M353.6,475.3h0M364.1,472.4h0M343.3,472.0h0M375.5,447.9h0M334.5,485.8h0M345.9,465.7h0M363.8,480.8h0M349.0,490.4h0M331.5,473.8h0M377.7,473.0h0M362.9,468.1h0M397.4,448.1h0M344.9,478.6h0M343.2,487.6h0M359.4,465.1h0M353.2,460.0h0M358.7,458.7h0M364.4,462.9h0M358.7,475.8h0M371.8,445.4h0M358.4,495.6h0M364.9,483.9h0M354.5,471.1h0M369.2,461.5h0M366.6,442.1h0M348.9,463.6h0M361.1,481.8h0M342.7,484.8h0M420.2,443.1h0M341.4,470.0h0M356.5,478.4h0M365.6,463.3h0M352.7,471.3h0M352.4,457.1h0M349.2,466.7h0M365.9,472.2h0M371.7,451.5h0M337.3,472.9h0M349.3,485.9h0M342.2,484.1h0M335.7,469.1h0M367.9,440.3h0M356.8,463.8h0M350.1,471.5h0M355.6,464.6h0M353.6,474.2h0M359.7,480.1h0M350.3,452.9h0M356.4,465.6h0M358.9,476.5h0M341.6,468.1h0M363.9,472.5h0M362.9,442.0h0M344.4,472.5h0M357.8,461.8h0M356.0,483.7h0M345.3,474.1h0M363.6,440.7h0M362.0,451.1h0M357.6,470.4h0M353.2,467.7h0M389.4,440.8h0M343.0,474.1h0M355.5,465.5h0M338.5,485.9h0M341.2,470.6h0M404.3,423.3h0M357.6,464.7h0M363.5,460.2h0M335.8,484.0h0M337.0,484.6h0M333.0,494.1h0M349.2,479.8h0M348.4,477.2h0M358.3,443.2h0M362.2,477.0h0M355.3,475.5h0M340.4,477.1h0M380.1,434.5h0M358.4,466.6h0M374.5,450.4h0M350.9,484.7h0M337.2,485.1h0M398.0,425.0h0M349.5,471.1h0M353.1,464.3h0M344.1,471.1h0M344.5,467.6h0M355.8,467.0h0M345.7,490.1h0M354.8,452.0h0M345.5,465.3h0M342.7,474.4h0M352.7,496.7h0M356.2,477.8h0M335.5,464.5h0M350.7,457.8h0M342.4,483.2h0M345.5,470.9h0M335.0,491.7h0M354.7,460.9h0M333.3,486.6h0M339.0,488.3h0M351.3,446.3h0M343.3,467.1h0M348.3,481.3h0M356.0,463.5h0M343.0,462.3h0M349.8,469.4h0M355.8,444.0h0M339.3,462.2h0M352.5,463.5h0M342.2,465.6h0M355.1,464.9h0M360.1,463.3h0M355.0,487.4h0M378.4,427.8h0M373.8,455.8h0M341.9,481.0h0M366.5,444.5h0M363.5,477.5h0M349.8,473.2h0M377.8,434.9h0M360.7,478.6h0M384.0,441.8h0M365.6,467.0h0M360.4,470.0h0M361.6,470.1h0M345.4,494.2h0M362.5,460.7h0M368.0,453.4h0M335.6,491.5h0M412.2,434.0h0M344.6,485.5h0M360.1,466.8h0M353.0,470.5h0M373.4,438.0h0M327.0,465.7h0M354.4,467.9h0M330.5,481.0h0M382.0,465.7h0M348.3,493.8h0M370.2,456.4h0M342.1,479.2h0M392.7,440.3h0M343.5,487.6h0M348.7,482.7h0M352.7,479.3h0M344.2,472.1h0M352.6,475.7h0M356.2,464.3h0M347.9,472.7h0M350.9,454.9h0M341.1,484.8h0M343.5,492.0h0M353.1,487.0h0M338.3,484.3h0M350.7,475.8h0M348.1,467.3h0M342.0,466.5h0M368.2,472.1h0M362.1,466.8h0M367.9,449.0h0M360.5,461.0h0M357.1,441.4h0M334.6,485.1h0M348.8,467.4h0M355.3,486.3h0M347.2,483.1h0M348.6,463.1h0M357.1,452.0h0M356.7,463.2h0M367.4,478.0h0M361.2,459.0h0M358.1,457.0h0M342.1,476.0h0M344.4,478.6h0M343.2,479.4h0M359.5,469.8h0M341.2,475.7h0M348.8,476.7h0M368.4,447.6h0M364.0,454.2h0M347.3,479.9h0M347.3,479.2h0M336.4,482.1h0M343.8,469.8h0M345.6,478.0h0M334.8,477.3h0M369.6,452.6h0M341.4,482.3h0M388.7,447.4h0M384.9,430.3h0M358.6,458.8h0M403.1,428.5h0M345.2,475.3h0M392.2,461.4h0M352.9,478.4h0M345.0,481.5h0M373.0,438.4h0M357.0,469.9h0M360.9,464.5h0M359.2,494.5h0M342.5,483.3h0M350.0,473.3h0M343.7,478.8h0M341.3,480.0h0M388.8,460.2h0M360.9,463.9h0M369.5,459.6h0M347.6,447.0h0M360.4,453.6h0M345.9,479.9h0M339.1,475.9h0M367.2,457.8h0M371.1,461.0h0M349.8,473.8h0M335.0,477.4h0M373.7,444.9h0M374.3,436.1h0M334.8,495.8h0M346.4,473.1h0M354.3,456.9h0M354.5,488.1h0M358.1,477.4h0M333.4,472.3h0M353.8,473.2h0M379.8,436.2h0M343.5,480.6h0M364.6,456.2h0M367.7,458.1h0M367.7,460.3h0M371.5,455.2h0M360.8,472.4h0M335.9,488.6h0M359.5,454.8h0M390.9,441.7h0M363.2,450.9h0M366.4,473.8h0M355.3,449.9h0M362.1,487.6h0M341.2,466.2h0M339.1,482.0h0M350.0,469.9h0M372.9,455.7h0M354.1,496.8h0M356.5,471.1h0M350.0,463.1h0M364.3,428.3h0M350.9,458.5h0M347.0,476.9h0M360.5,466.1h0M387.7,423.3h0M351.4,472.0h0M346.9,472.9h0M353.2,456.6h0M365.0,442.3h0M364.3,439.0h0M367.2,451.0h0M344.8,482.4h0M360.8,478.3h0M375.4,454.1h0M365.5,473.7h0M388.7,423.3h0M338.9,481.6h0M352.4,474.0h0M350.0,481.4h0M349.4,466.0h0M337.0,487.8h0M340.1,490.2h0M370.0,439.2h0M372.1,446.7h0M350.8,452.1h0M368.3,484.0h0M335.3,466.6h0M384.7,445.6h0M371.5,454.4h0M344.1,475.4h0M353.6,489.6h0M358.9,456.4h0M372.9,447.0h0M358.8,476.1h0M385.8,442.0h0M338.3,484.6h0M360.1,478.0h0M345.8,468.1h0M357.2,472.1h0M352.0,478.1h0M336.8,488.6h0M334.1,491.5h0M354.0,482.8h0M334.6,472.4h0M350.5,471.4h0M338.4,481.7h0M349.4,501.0h0M345.8,459.2h0M348.2,464.9h0M363.2,481.1h0M370.2,458.8h0M354.8,482.3h0M356.1,459.2h0M348.9,479.9h0M375.1,435.2h0M341.8,476.5h0M374.3,445.6h0M369.4,475.0h0M348.2,466.2h0M343.3,485.6h0M335.6,486.7h0M353.8,473.8h0M361.1,481.1h0M349.1,463.8h0M326.8,494.5h0M345.7,471.9h0M357.3,475.1h0M341.4,483.8h0M354.9,467.7h0M339.0,488.3h0M408.0,423.3h0M348.3,460.9h0M349.4,477.9h0M344.5,477.8h0M349.7,453.8h0M382.9,447.3h0M343.8,484.1h0M359.6,474.8h0M365.3,453.0h0M352.3,453.8h0M376.3,456.4h0M383.9,446.8h0M373.6,443.2h0M334.9,490.6h0M350.3,473.4h0M351.2,463.9h0M335.1,485.4h0M360.7,455.9h0M355.4,468.4h0M371.5,441.7h0M354.1,472.4h0M368.9,434.6h0M337.1,484.8h0M345.0,490.4h0M355.4,467.6h0M365.0,451.8h0M332.3,489.7h0M368.8,450.0h0M368.6,447.9h0M334.2,487.4h0M363.3,453.3h0M373.9,488.0h0M338.2,465.4h0M374.4,441.1h0M344.0,485.0h0M352.8,479.3h0M354.4,464.3h0M365.9,440.8h0M358.3,452.3h0M360.2,469.7h0M336.9,502.1h0M347.0,438.7h0M354.5,471.8h0M346.2,474.9h0M345.5,484.4h0M350.9,479.0h0M353.5,467.5h0M343.5,479.4h0M349.0,477.9h0M370.6,449.5h0M352.1,453.5h0M358.2,455.5h0M336.8,459.6h0M352.5,483.4h0M341.0,487.0h0M352.5,475.1h0M370.2,444.0h0M339.9,474.8h0M351.7,481.7h0M388.4,470.6h0M339.4,473.6h0M380.7,446.2h0M342.9,468.3h0M372.8,450.7h0M341.7,469.1h0M385.5,427.4h0M357.1,457.9h0M343.5,482.1h0M349.0,466.8h0M336.9,489.5h0M355.6,452.4h0M366.2,472.8h0M350.9,468.5h0M349.6,479.4h0M341.5,489.2h0M357.4,461.3h0M340.6,471.9h0M355.1,463.2h0M351.6,469.4h0M352.8,481.6h0M399.4,424.6h0M399.6,430.1h0M347.8,473.9h0M377.0,434.6h0M353.9,485.2h0M362.6,463.8h0M391.5,441.7h0M377.0,423.3h0M352.6,484.5h0M352.2,472.4h0M354.1,460.2h0M332.7,479.5h0M371.0,459.5h0M347.3,476.4h0M328.8,496.1h0M343.5,475.6h0M346.3,486.6h0M359.6,470.4h0M363.8,455.5h0M336.9,479.3h0M349.8,438.5h0M362.0,479.2h0M388.1,447.7h0M367.5,464.0h0M384.8,426.3h0M352.2,454.2h0M417.7,432.1h0M354.8,462.1h0M376.0,467.3h0M345.8,470.1h0M364.3,457.4h0M365.2,461.2h0M343.1,474.0h0M347.1,460.9h0M399.3,426.2h0M354.9,484.3h0M347.8,470.6h0M363.7,463.8h0M339.9,464.4h0M354.3,459.6h0M333.7,481.3h0M349.1,467.2h0M350.9,464.5h0M337.6,487.7h0M356.1,464.1h0M361.7,459.5h0M354.3,489.4h0M338.2,495.3h0M361.1,444.0h0M353.6,457.6h0M338.8,494.9h0M347.5,466.9h0M394.6,423.3h0M354.9,477.9h0M349.4,467.5h0M352.6,464.6h0M379.0,447.4h0M335.2,495.1h0M364.0,464.9h0M354.7,467.5h0M330.7,487.3h0M342.9,476.0h0M363.7,470.0h0M349.9,454.4h0M346.8,482.0h0M334.0,470.2h0M352.2,487.8h0M357.3,446.9h0M348.5,475.5h0M348.2,475.0h0M337.2,498.6h0M361.7,456.0h0M360.1,473.7h0M356.5,449.3h0M359.7,450.5h0M341.4,464.5h0M357.9,444.6h0M350.6,478.5h0M355.2,460.2h0M375.1,442.5h0M342.6,474.0h0M350.9,463.9h0M337.8,472.2h0M356.8,473.0h0M363.5,474.6h0M369.4,450.6h0M336.0,459.7h0M339.1,482.4h0M337.3,470.8h0M381.4,452.9h0M361.2,443.2h0M352.6,470.2h0M375.0,437.9h0M340.1,485.2h0M341.1,469.7h0M412.2,423.3h0M339.7,468.8h0M351.7,466.7h0M360.5,480.8h0M348.1,471.5h0M332.8,491.8h0M335.0,491.5h0M356.0,474.8h0M352.5,474.9h0M344.1,461.3h0M338.3,477.1h0M358.7,426.0h0M343.2,477.0h0M349.1,471.9h0M371.5,438.6h0M357.7,473.1h0M351.2,469.4h0M377.1,457.3h0M334.4,482.5h0M354.3,460.9h0M338.7,490.4h0M362.4,423.3h0M368.1,471.6h0M343.6,487.2h0M341.0,487.4h0M339.0,482.6h0M327.2,482.2h0M353.0,467.8h0M359.6,498.1h0M348.8,471.8h0M344.8,484.9h0M351.7,450.2h0M363.3,470.9h0M355.6,480.2h0M346.3,483.1h0M351.9,458.4h0M334.9,485.4h0M363.9,451.8h0M360.9,454.7h0M359.0,463.3h0M342.7,472.7h0M370.0,436.0h0M374.6,484.8h0M337.4,477.5h0M340.6,490.9h0M364.4,465.5h0M346.0,469.8h0M334.8,486.7h0M343.3,474.1h0M338.4,482.9h0M364.9,443.5h0M385.8,423.3h0M357.1,486.5h0M413.9,423.3h0M354.1,472.5h0M362.3,443.2h0M378.7,433.2h0M354.7,462.6h0M330.8,477.4h0M345.0,469.8h0M335.0,479.0h0M393.8,446.5h0M357.5,446.9h0M354.4,472.4h0M357.4,473.9h0M348.3,458.5h0M341.7,475.1h0M363.3,427.3h0M385.7,460.0h0M348.2,464.9h0M353.1,465.0h0M343.0,479.7h0M350.6,466.4h0M357.5,465.6h0M405.5,436.2h0M358.1,465.9h0M335.7,488.6h0M344.7,479.8h0M393.2,426.7h0M344.7,470.2h0M342.7,491.9h0M357.1,474.2h0M358.4,489.5h0M354.7,466.9h0M353.1,453.3h0M343.8,479.9h0M326.8,499.5h0M366.9,473.9h0M360.6,469.2h0M338.4,489.2h0M363.1,445.2h0M373.3,448.5h0M348.1,478.1h0M354.2,461.0h0M368.3,441.7h0M345.6,468.1h0M375.6,435.5h0M350.5,474.3h0M355.6,451.1h0M356.0,466.9h0M340.0,468.9h0M349.1,485.6h0M353.9,468.4h0M355.5,470.7h0M346.0,478.8h0M348.8,464.8h0M365.9,462.3h0M342.1,473.9h0M338.2,485.0h0M366.8,449.6h0M349.2,480.0h0M367.6,448.5h0M361.9,467.3h0M359.0,470.0h0M377.5,443.0h0M391.7,423.3h0M364.2,471.6h0M361.0,482.4h0M353.7,474.4h0M368.0,461.4h0M337.3,486.1h0M344.2,477.0h0M372.1,445.8h0M340.0,463.8h0M343.8,492.8h0M351.0,465.1h0M331.8,488.8h0M349.8,460.2h0M364.6,471.6h0M344.1,479.1h0M365.1,449.2h0M374.4,432.0h0M359.9,465.5h0M376.4,470.7h0M349.9,465.0h0M359.5,462.5h0M398.4,441.1h0M338.9,479.0h0M362.4,461.0h0M339.2,487.2h0M367.4,450.1h0M369.3,454.1h0M389.8,423.3h0M350.3,474.7h0M333.9,497.0h0M356.2,466.0h0M371.4,457.7h0M344.4,466.0h0M353.0,484.9h0M347.9,481.5h0M354.9,458.2h0M343.5,475.5h0M347.9,454.8h0M346.4,464.6h0M357.4,468.1h0M357.6,463.7h0M392.0,449.1h0M349.4,467.4h0M364.3,458.6h0M342.0,481.2h0M346.2,481.7h0M362.3,454.6h0M363.4,459.9h0M376.2,454.7h0M347.4,471.6h0M342.4,470.8h0M380.0,463.4h0M375.5,462.4h0M389.9,443.4h0M348.3,463.3h0M346.2,488.4h0M355.8,452.5h0M342.6,471.1h0M348.6,475.0h0M355.5,470.8h0M368.7,459.5h0M373.0,439.6h0M358.0,464.8h0M362.2,452.5h0M367.4,470.6h0M344.4,468.9h0M333.8,482.7h0M385.9,432.7h0M402.9,451.5h0M339.7,458.9h0M346.3,479.3h0M347.5,493.0h0M361.6,450.6h0M374.9,447.3h0M371.6,463.7h0M353.9,480.2h0" stroke="#000" stroke-width="3.2" stroke-linecap="round" fill="none"/>
</g>
<rect x="315" y="418.75" width="115.5" height="85.75" fill="none" stroke="#555" stroke-width="1.2"/>
<line x1="313.00" y1="418.68" x2="315.00" y2="418.68" stroke="#555" stroke-width="0.8"/>
<text x="311.80" y="421.28" font-size="7.3" text-anchor="end" fill="#111" stroke="#111" stroke-width="0.2">1.5</text>
<line x1="313.00" y1="430.20" x2="315.00" y2="430.20" stroke="#555" stroke-width="0.8"/>
<text x="311.80" y="432.80" font-size="7.3" text-anchor="end" fill="#111" stroke="#111" stroke-width="0.2">1</text>
<line x1="313.00" y1="441.73" x2="315.00" y2="441.73" stroke="#555" stroke-width="0.8"/>
<text x="311.80" y="444.33" font-size="7.3" text-anchor="end" fill="#111" stroke="#111" stroke-width="0.2">0.5</text>
<line x1="313.00" y1="453.25" x2="315.00" y2="453.25" stroke="#555" stroke-width="0.8"/>
<text x="311.80" y="455.85" font-size="7.3" text-anchor="end" fill="#111" stroke="#111" stroke-width="0.2">0</text>
<line x1="313.00" y1="464.77" x2="315.00" y2="464.77" stroke="#555" stroke-width="0.8"/>
<text x="311.80" y="467.38" font-size="7.3" text-anchor="end" fill="#111" stroke="#111" stroke-width="0.2">-0.5</text>
<line x1="313.00" y1="476.30" x2="315.00" y2="476.30" stroke="#555" stroke-width="0.8"/>
<text x="311.80" y="478.90" font-size="7.3" text-anchor="end" fill="#111" stroke="#111" stroke-width="0.2">-1</text>
<line x1="313.00" y1="487.82" x2="315.00" y2="487.82" stroke="#555" stroke-width="0.8"/>
<text x="311.80" y="490.43" font-size="7.3" text-anchor="end" fill="#111" stroke="#111" stroke-width="0.2">-1.5</text>
<line x1="313.00" y1="499.35" x2="315.00" y2="499.35" stroke="#555" stroke-width="0.8"/>
<text x="311.80" y="501.95" font-size="7.3" text-anchor="end" fill="#111" stroke="#111" stroke-width="0.2">-2</text>
<line x1="315.00" y1="504.50" x2="315.00" y2="506.70" stroke="#555" stroke-width="0.8"/>
<text x="315.00" y="515.50" font-size="7.3" text-anchor="middle" fill="#111" stroke="#111" stroke-width="0.2">-2</text>
<line x1="330.50" y1="504.50" x2="330.50" y2="506.70" stroke="#555" stroke-width="0.8"/>
<text x="330.50" y="515.50" font-size="7.3" text-anchor="middle" fill="#111" stroke="#111" stroke-width="0.2">-1.5</text>
<line x1="346.00" y1="504.50" x2="346.00" y2="506.70" stroke="#555" stroke-width="0.8"/>
<text x="346.00" y="515.50" font-size="7.3" text-anchor="middle" fill="#111" stroke="#111" stroke-width="0.2">-1</text>
<line x1="361.50" y1="504.50" x2="361.50" y2="506.70" stroke="#555" stroke-width="0.8"/>
<text x="361.50" y="515.50" font-size="7.3" text-anchor="middle" fill="#111" stroke="#111" stroke-width="0.2">-0.5</text>
<line x1="377.00" y1="504.50" x2="377.00" y2="506.70" stroke="#555" stroke-width="0.8"/>
<text x="377.00" y="515.50" font-size="7.3" text-anchor="middle" fill="#111" stroke="#111" stroke-width="0.2">0</text>
<line x1="392.50" y1="504.50" x2="392.50" y2="506.70" stroke="#555" stroke-width="0.8"/>
<text x="392.50" y="515.50" font-size="7.3" text-anchor="middle" fill="#111" stroke="#111" stroke-width="0.2">0.5</text>
<line x1="408.00" y1="504.50" x2="408.00" y2="506.70" stroke="#555" stroke-width="0.8"/>
<text x="408.00" y="515.50" font-size="7.3" text-anchor="middle" fill="#111" stroke="#111" stroke-width="0.2">1</text>
<line x1="423.50" y1="504.50" x2="423.50" y2="506.70" stroke="#555" stroke-width="0.8"/>
<text x="423.50" y="515.50" font-size="7.3" text-anchor="middle" fill="#111" stroke="#111" stroke-width="0.2">1.5</text>
<line x1="315.00" y1="504.50" x2="315.00" y2="505.90" stroke="#555" stroke-width="0.6"/>
<line x1="322.75" y1="504.50" x2="322.75" y2="505.90" stroke="#555" stroke-width="0.6"/>
<line x1="330.50" y1="504.50" x2="330.50" y2="505.90" stroke="#555" stroke-width="0.6"/>
<line x1="338.25" y1="504.50" x2="338.25" y2="505.90" stroke="#555" stroke-width="0.6"/>
<line x1="346.00" y1="504.50" x2="346.00" y2="505.90" stroke="#555" stroke-width="0.6"/>
<line x1="353.75" y1="504.50" x2="353.75" y2="505.90" stroke="#555" stroke-width="0.6"/>
<line x1="361.50" y1="504.50" x2="361.50" y2="505.90" stroke="#555" stroke-width="0.6"/>
<line x1="369.25" y1="504.50" x2="369.25" y2="505.90" stroke="#555" stroke-width="0.6"/>
<line x1="377.00" y1="504.50" x2="377.00" y2="505.90" stroke="#555" stroke-width="0.6"/>
<line x1="384.75" y1="504.50" x2="384.75" y2="505.90" stroke="#555" stroke-width="0.6"/>
<line x1="392.50" y1="504.50" x2="392.50" y2="505.90" stroke="#555" stroke-width="0.6"/>
<line x1="400.25" y1="504.50" x2="400.25" y2="505.90" stroke="#555" stroke-width="0.6"/>
<line x1="408.00" y1="504.50" x2="408.00" y2="505.90" stroke="#555" stroke-width="0.6"/>
<line x1="415.75" y1="504.50" x2="415.75" y2="505.90" stroke="#555" stroke-width="0.6"/>
<line x1="423.50" y1="504.50" x2="423.50" y2="505.90" stroke="#555" stroke-width="0.6"/>
<line x1="316.75" y1="619.25" x2="433.25" y2="619.25" stroke="#777" stroke-width="0.9" stroke-dasharray="1.5 2.5"/>
<clipPath id="cp572"><rect x="316.75" y="572.5" width="116.5" height="86.25"/></clipPath>
<g clip-path="url(#cp572)">
<line x1="315.08" y1="662.32" x2="424.03" y2="573.58" stroke="#e8788c" stroke-width="1.4" stroke-dasharray="1.1 0.6" opacity="0.7"/>
<path d="M390.1,590.5h0M347.4,646.9h0M371.1,606.7h0M376.8,618.2h0M359.0,627.9h0M353.4,614.3h0M368.4,631.1h0M373.1,629.0h0M350.4,629.6h0M373.2,593.3h0M376.2,631.5h0M380.0,613.4h0M350.8,611.1h0M382.9,615.9h0M392.4,591.8h0M370.1,631.4h0M344.0,643.2h0M373.4,613.4h0M380.8,607.7h0M345.3,634.3h0M355.8,640.0h0M361.9,623.4h0M344.4,640.1h0M405.4,593.2h0M357.0,626.5h0M368.5,593.3h0M359.9,637.6h0M361.0,595.6h0M354.9,636.9h0M367.8,620.2h0M361.3,624.6h0M370.4,622.2h0M346.1,614.3h0M372.8,605.4h0M350.3,645.0h0M367.7,631.3h0M365.6,626.3h0M355.6,627.2h0M368.6,603.1h0M362.8,619.1h0M357.5,628.3h0M352.0,614.9h0M360.9,612.1h0M351.3,631.7h0M340.8,643.0h0M358.4,605.0h0M359.1,640.2h0M390.2,577.0h0M353.0,634.8h0M365.6,608.6h0M355.9,628.0h0M396.3,586.8h0M353.9,631.5h0M348.0,635.3h0M350.6,628.8h0M351.0,630.2h0M420.9,577.0h0M360.6,614.2h0M347.4,648.5h0M348.2,640.3h0M367.2,607.7h0M377.6,604.2h0M358.1,633.1h0M364.8,638.0h0M342.4,648.6h0M365.8,638.2h0M367.0,593.9h0M381.0,592.1h0M346.0,655.9h0M351.4,630.6h0M359.1,622.7h0M351.3,591.9h0M345.4,638.6h0M362.8,609.1h0M393.4,601.5h0M362.9,620.3h0M354.0,629.5h0M364.5,604.4h0M364.9,624.4h0M338.8,655.9h0M354.0,620.9h0M364.6,622.4h0M356.8,611.1h0M343.0,644.8h0M354.0,628.1h0M384.9,585.5h0M379.4,603.4h0M390.5,609.1h0M360.4,630.8h0M376.3,618.1h0M350.9,632.2h0M370.0,632.7h0M355.7,630.6h0M367.5,638.6h0M359.4,637.8h0M362.0,630.2h0M357.6,626.6h0M375.0,608.8h0M353.1,630.9h0M372.3,614.9h0M364.9,619.2h0M360.6,638.3h0M365.7,626.1h0M367.7,618.8h0M379.1,620.6h0M399.6,577.0h0M363.9,643.4h0M361.0,633.8h0M369.6,607.2h0M365.3,618.4h0M354.4,612.3h0M338.8,630.8h0M374.8,609.3h0M348.9,646.7h0M364.2,622.4h0M356.6,632.0h0M350.7,597.9h0M382.7,618.3h0M384.3,610.9h0M358.4,617.7h0M387.3,579.9h0M351.2,636.4h0M359.7,612.4h0M347.2,638.5h0M359.6,643.3h0M370.7,623.7h0M354.1,647.7h0M367.2,617.5h0M359.0,623.7h0M380.4,586.5h0M350.5,625.2h0M365.3,597.9h0M382.5,607.1h0M375.8,629.4h0M359.3,611.2h0M350.9,650.1h0M347.7,623.3h0M346.5,641.2h0M353.0,633.9h0M361.4,633.5h0M356.9,614.0h0M361.5,622.2h0M356.2,612.2h0M370.4,596.6h0M380.6,634.2h0M361.6,611.9h0M359.8,626.8h0M353.7,638.1h0M347.7,647.0h0M348.0,627.3h0M361.5,606.5h0M347.9,625.4h0M373.4,614.6h0M381.6,595.7h0M359.4,632.6h0M352.7,622.6h0M363.2,606.3h0M385.1,592.9h0M371.0,599.9h0M368.4,620.2h0M350.3,620.6h0M363.7,633.4h0M408.1,577.0h0M348.8,638.0h0M366.7,625.7h0M349.4,628.3h0M361.1,619.6h0M384.6,612.2h0M391.4,603.7h0M378.7,615.6h0M370.4,609.0h0M345.1,633.5h0M386.5,599.7h0M348.1,625.3h0M354.9,635.6h0M388.6,595.4h0M399.4,609.3h0M346.0,625.6h0M343.1,644.3h0M368.6,594.6h0M354.2,627.9h0M366.7,624.8h0M370.6,606.3h0M377.7,626.4h0M355.5,613.9h0M349.9,626.7h0M354.1,612.5h0M349.2,618.8h0M410.7,586.6h0M394.9,591.7h0M365.7,628.6h0M363.4,577.0h0M425.0,577.0h0M359.1,616.8h0M357.2,618.0h0M368.9,623.4h0M359.8,635.1h0M354.8,638.8h0M355.8,630.7h0M351.9,636.5h0M354.1,628.7h0M397.6,620.1h0M355.1,631.4h0M360.0,636.0h0M364.6,621.8h0M363.7,602.3h0M357.6,618.1h0M356.1,624.9h0M355.5,625.7h0M359.5,617.4h0M371.4,619.5h0M352.1,636.6h0M361.2,621.5h0M362.0,635.8h0M382.3,577.0h0M353.3,626.5h0M375.5,620.9h0M359.6,622.7h0M367.5,618.4h0M371.7,602.8h0M376.8,610.6h0M364.3,620.2h0M369.7,600.0h0M360.4,616.9h0M387.8,582.6h0M373.5,616.7h0M360.4,611.4h0M348.9,638.8h0M360.7,625.0h0M426.9,577.0h0M369.5,619.3h0M359.5,631.9h0M383.3,583.2h0M349.0,633.3h0M350.9,633.7h0M379.7,610.8h0M356.6,639.0h0M354.2,636.6h0M363.5,623.5h0M363.4,639.6h0M351.4,640.4h0M378.2,591.2h0M363.8,619.5h0M355.0,605.6h0M384.6,597.5h0M352.4,637.8h0M374.0,604.2h0M349.0,626.4h0M352.9,630.0h0M367.4,626.0h0M357.6,614.6h0M364.1,617.2h0M426.9,577.0h0M385.2,602.2h0M361.0,619.7h0M363.9,612.7h0M371.6,586.9h0M353.2,609.9h0M363.1,623.4h0M369.1,617.4h0M374.2,600.4h0M391.3,623.4h0M352.3,639.7h0M360.0,615.5h0M344.1,643.9h0M373.7,611.4h0M349.0,627.2h0M354.9,642.2h0M377.8,613.2h0M353.2,642.5h0M371.6,624.7h0M365.2,636.1h0M348.9,634.8h0M351.5,638.1h0M362.6,617.6h0M344.7,588.7h0M357.5,632.1h0M344.0,638.5h0M351.4,626.6h0M356.5,643.4h0M354.1,635.4h0M406.5,577.0h0M352.9,606.1h0M363.5,644.7h0M346.7,651.2h0M363.0,630.9h0M367.2,594.4h0M348.7,633.4h0M358.4,628.3h0M393.8,599.6h0M391.8,614.2h0M350.1,616.8h0M347.2,634.2h0M352.8,636.3h0M352.7,638.6h0M399.7,592.1h0M386.9,618.1h0M346.3,619.7h0M366.1,622.0h0M350.7,618.3h0M362.5,617.0h0M365.1,624.8h0M354.4,622.3h0M349.6,622.9h0M353.3,627.7h0M341.5,642.8h0M355.6,628.0h0M359.3,604.0h0M376.8,622.4h0M349.6,630.4h0M395.7,588.5h0M353.2,630.0h0M384.1,595.7h0M355.2,617.3h0M365.2,620.2h0M355.3,628.0h0M379.9,597.4h0M361.0,625.3h0M392.3,596.1h0M355.4,631.2h0M383.6,615.7h0M392.1,590.9h0M352.4,579.3h0M367.1,612.8h0M349.2,633.5h0M364.5,634.9h0M345.6,630.5h0M392.6,610.0h0M352.4,622.7h0M361.8,633.5h0M386.9,590.4h0M351.9,615.6h0M384.9,606.9h0M362.7,631.6h0M350.4,642.6h0M347.2,631.9h0M358.6,612.5h0M355.5,627.9h0M365.2,620.6h0M350.0,623.9h0M371.5,602.8h0M358.4,631.6h0M354.9,641.9h0M359.3,629.3h0M384.8,590.0h0M355.7,635.0h0M362.9,633.1h0M371.6,625.8h0M357.0,620.3h0M379.0,609.2h0M351.0,622.0h0M366.8,607.7h0M376.3,617.2h0M356.6,621.7h0M364.5,631.7h0M346.4,629.6h0M372.4,613.2h0M388.3,580.0h0M341.2,638.5h0M354.8,603.2h0M388.7,631.4h0M371.8,622.8h0M354.5,628.6h0M344.4,636.7h0M361.5,625.9h0M367.7,629.8h0M373.7,637.4h0M349.9,631.6h0M355.7,629.7h0M369.4,593.3h0M359.2,621.4h0M368.4,584.5h0M357.7,634.1h0M361.9,614.5h0M349.2,629.9h0M361.9,636.5h0M357.4,634.1h0M356.5,615.2h0M354.0,634.5h0M358.0,616.8h0M349.3,640.9h0M360.7,612.6h0M391.4,589.6h0M384.8,593.7h0M363.3,631.0h0M360.4,623.8h0M360.9,602.1h0M371.9,624.7h0M354.8,642.1h0M364.4,624.9h0M353.9,626.9h0M404.6,593.6h0M393.4,618.9h0M362.4,618.1h0M368.3,625.4h0M356.9,596.1h0M369.7,602.4h0M373.4,614.6h0M346.2,640.8h0M358.8,614.1h0M358.3,601.3h0M364.7,618.8h0M367.9,608.1h0M365.7,624.3h0M365.1,623.3h0M359.2,633.5h0M385.5,587.9h0M375.0,635.8h0M341.3,645.2h0M361.9,627.9h0M366.5,606.2h0M369.1,624.8h0M372.0,616.1h0M365.8,617.2h0M362.9,629.4h0M356.1,627.6h0M368.6,626.9h0M351.3,619.9h0M362.8,617.3h0M359.3,622.4h0M362.9,593.9h0M359.9,628.4h0M349.6,643.7h0M352.3,627.7h0M362.1,632.5h0M368.4,602.5h0M353.5,640.0h0M359.4,622.4h0M357.4,619.4h0M361.4,604.5h0M366.2,606.4h0M350.2,640.0h0M375.0,621.3h0M384.7,592.9h0M363.0,602.4h0M381.0,595.1h0M362.2,616.2h0M389.7,590.2h0M352.5,620.4h0M353.8,628.3h0M354.9,626.1h0M363.7,604.1h0M359.8,625.1h0M357.4,623.1h0M369.6,605.9h0M364.5,625.2h0M356.1,637.0h0M355.9,636.9h0M375.4,593.0h0M360.4,604.1h0M410.8,589.6h0M371.7,602.0h0M366.7,592.2h0M396.1,589.8h0M345.7,655.9h0M357.5,643.8h0M360.7,624.1h0M378.5,594.3h0M367.4,604.1h0M363.8,611.0h0M376.0,606.8h0M382.8,613.0h0M419.4,599.1h0M376.7,614.6h0M366.8,616.5h0M370.6,607.0h0M352.0,628.4h0M349.5,620.4h0M360.1,628.1h0M362.9,627.3h0M362.8,622.7h0M366.0,617.0h0M354.9,634.6h0M378.1,605.1h0M354.1,627.8h0M358.5,626.3h0M367.8,604.0h0M342.1,652.0h0M368.9,627.5h0M354.3,614.2h0M348.1,632.1h0M359.5,613.6h0M373.1,582.0h0M389.3,577.0h0M372.8,610.1h0M383.4,624.3h0M356.5,615.6h0M363.3,613.8h0M355.7,628.8h0M369.6,619.2h0M375.3,596.4h0M411.2,577.0h0M364.2,609.7h0M348.4,633.8h0M375.1,616.1h0M359.5,616.0h0M347.9,627.7h0M371.6,600.1h0M355.9,640.2h0M351.2,637.2h0M357.5,619.7h0M373.4,623.2h0M363.4,620.7h0M367.5,639.0h0M369.4,594.0h0M351.9,630.2h0M351.7,623.1h0M358.7,604.3h0M355.2,639.3h0M359.6,622.7h0M350.6,628.0h0M381.5,611.5h0M354.8,599.2h0M360.1,634.9h0M358.9,623.4h0M366.1,633.3h0M355.9,616.7h0M382.9,587.8h0M357.0,604.3h0M398.0,583.2h0M371.4,631.7h0M392.8,578.8h0M373.1,611.4h0M357.0,634.2h0M346.8,639.8h0M384.8,596.5h0M365.2,601.9h0M345.7,624.6h0M376.0,609.6h0M394.5,595.0h0M376.3,598.6h0M363.9,612.0h0M372.5,620.6h0M355.5,628.2h0M364.3,621.0h0M363.3,627.5h0M354.5,641.4h0M349.3,636.6h0M348.3,638.3h0M371.9,604.6h0M374.0,615.1h0M347.6,646.2h0M355.6,625.3h0M379.4,598.4h0M355.0,623.5h0M360.1,622.0h0M372.4,600.7h0M346.3,642.9h0M356.8,633.2h0M343.5,620.8h0M363.1,635.1h0M356.3,634.8h0M362.6,622.1h0M356.8,637.1h0M356.9,632.7h0M351.6,609.6h0M375.5,597.0h0M358.5,617.2h0M394.5,577.0h0M357.4,629.6h0M352.8,624.8h0M364.9,608.9h0M362.1,620.0h0M376.8,610.1h0M370.4,614.0h0M357.3,633.4h0M355.4,617.7h0M355.1,633.8h0M363.3,608.9h0M350.1,609.6h0M365.1,616.2h0M362.3,629.7h0M367.4,617.1h0M358.7,609.9h0M352.2,632.3h0M367.1,611.4h0M351.7,633.8h0M354.5,613.3h0M381.8,600.2h0M365.5,612.6h0M353.5,639.3h0M367.2,625.0h0M373.0,603.3h0M351.8,628.9h0M349.2,642.4h0M361.4,637.0h0M362.0,612.5h0M402.9,590.6h0M353.1,624.9h0M357.5,628.7h0M354.5,655.8h0M353.8,621.3h0M382.6,592.8h0M367.7,617.6h0M376.9,611.0h0M383.6,606.1h0M370.0,624.8h0M366.7,614.0h0M364.7,611.9h0M356.7,609.3h0M375.7,624.2h0M357.7,637.4h0M356.2,635.2h0M364.6,623.7h0M364.2,632.2h0M345.6,655.9h0M382.4,610.6h0M348.4,638.9h0M372.2,602.3h0M354.8,631.2h0M378.0,647.7h0M368.6,618.7h0M354.6,627.4h0M379.0,631.8h0M355.1,637.6h0M367.2,620.1h0M390.1,583.0h0M353.4,633.9h0M362.4,605.4h0M352.2,624.4h0M355.7,638.6h0M396.1,604.7h0M372.9,595.4h0M363.0,621.3h0M384.3,582.4h0M347.7,628.4h0M368.4,628.5h0M400.0,594.4h0M416.5,577.0h0M369.0,594.0h0M373.7,594.1h0M368.2,617.0h0M387.8,583.4h0M367.4,586.7h0M364.5,638.1h0M364.9,619.6h0M352.8,632.7h0M376.8,615.7h0M351.5,647.9h0M357.8,641.0h0M351.1,632.2h0M373.5,612.8h0M361.3,624.5h0M359.1,625.5h0M351.9,649.5h0M368.9,627.6h0M361.3,627.0h0M361.2,615.5h0M345.7,630.9h0M351.4,632.7h0M354.9,635.1h0M353.7,639.4h0M419.3,603.0h0M364.8,642.6h0M376.4,592.4h0M347.5,646.1h0M368.9,630.0h0M376.1,610.1h0M376.0,605.0h0M369.6,612.3h0M362.5,621.5h0M366.4,640.7h0M357.6,621.9h0M367.5,623.8h0M377.5,607.1h0M358.1,627.8h0M387.5,600.8h0M398.0,577.7h0M349.1,629.1h0M353.5,633.4h0M360.8,616.5h0M369.3,619.7h0M411.2,579.5h0M354.4,631.0h0M365.6,627.0h0M349.1,637.2h0M358.7,642.3h0M367.4,614.1h0M370.1,619.3h0M363.5,641.4h0M355.3,621.3h0M369.2,610.9h0M370.2,622.6h0M350.1,628.0h0M357.2,610.0h0M402.1,598.6h0M365.2,618.1h0M358.5,622.9h0M384.7,600.5h0M356.9,617.0h0M355.6,622.1h0M369.5,591.5h0M362.3,616.5h0M344.6,636.5h0M405.1,577.0h0M374.7,577.0h0M357.0,634.1h0M356.3,620.4h0M386.2,591.5h0M358.6,630.6h0M337.2,644.1h0M341.1,645.2h0M393.2,597.0h0M389.0,585.5h0M367.7,602.9h0M352.0,625.7h0M343.3,640.9h0M356.0,628.3h0M362.1,626.9h0M341.3,620.6h0M360.9,641.2h0M361.0,624.4h0M342.4,640.0h0M349.0,641.0h0M346.8,635.7h0M337.2,640.2h0M367.6,641.7h0M378.0,608.9h0M363.4,594.1h0M361.9,630.5h0M373.1,620.9h0M343.4,644.7h0M362.7,611.9h0M361.7,632.4h0M353.7,633.4h0M354.4,629.6h0M351.5,650.0h0M393.7,598.1h0M360.4,626.6h0M346.0,638.0h0M357.5,620.3h0M382.0,595.1h0M372.3,611.4h0M364.1,609.7h0M364.2,623.5h0M356.1,630.6h0M361.2,634.2h0M343.6,631.1h0M352.4,650.6h0M364.9,609.1h0M354.2,634.3h0M356.8,626.4h0M357.0,628.6h0M365.3,629.1h0M344.9,637.6h0M369.0,624.5h0M368.1,607.6h0M360.6,640.7h0M377.8,595.4h0M358.0,621.7h0M370.7,617.4h0M348.8,645.5h0M369.1,608.0h0M388.8,584.5h0M359.3,609.5h0M367.4,622.6h0M371.7,625.9h0M351.4,630.1h0M355.1,620.5h0M350.6,636.3h0M356.2,618.7h0M369.2,634.3h0M359.9,615.8h0M341.7,634.4h0M392.1,615.4h0M383.2,577.0h0M388.3,588.1h0M352.2,645.4h0M354.2,626.7h0M346.5,634.8h0M379.5,600.8h0M373.2,619.1h0M350.8,636.7h0M413.3,579.6h0M364.6,628.5h0M369.0,620.1h0M347.0,632.1h0M351.3,648.0h0M362.2,623.7h0M355.7,655.9h0M371.6,610.9h0M374.0,623.9h0M346.1,633.5h0M359.8,616.5h0M357.8,622.5h0M358.9,620.5h0M379.6,595.4h0M353.1,633.5h0M360.0,635.8h0M373.7,613.6h0M358.4,629.7h0M377.8,597.0h0M368.1,617.0h0M358.0,650.6h0M390.5,590.8h0M356.7,621.8h0M353.9,620.2h0M358.4,634.3h0M363.8,614.1h0M349.9,642.1h0M354.0,624.9h0M359.7,614.7h0M364.7,626.2h0M385.5,592.5h0M346.5,634.2h0M371.6,590.8h0M369.2,603.6h0M355.3,636.3h0M347.9,627.0h0M367.6,602.8h0M358.5,628.1h0M358.5,629.9h0M354.4,638.1h0M367.2,635.1h0M379.1,611.7h0M378.1,598.6h0M390.9,614.3h0M355.7,632.5h0M366.1,624.2h0M361.8,634.7h0M341.9,650.3h0M368.4,622.5h0M370.7,633.3h0M348.4,619.6h0M365.5,614.3h0M350.4,629.3h0M364.9,612.0h0M355.7,625.7h0M380.4,588.3h0M349.4,627.5h0M360.3,603.3h0M359.0,620.7h0M367.7,611.9h0M377.9,619.0h0M367.6,599.0h0M365.9,618.4h0M367.6,623.9h0M367.3,627.0h0M357.8,618.4h0M355.9,625.2h0M363.0,635.3h0M359.8,627.9h0M374.3,609.9h0M359.7,619.0h0M355.8,626.7h0M371.5,625.9h0M362.2,630.4h0M371.8,615.4h0M356.8,623.0h0M399.3,577.0h0M376.7,605.5h0M366.6,633.6h0M352.1,634.7h0M393.7,597.0h0M357.1,627.9h0M352.2,628.9h0M375.9,627.1h0M361.7,617.3h0M403.2,577.0h0M351.8,636.1h0M394.3,593.7h0M394.1,587.7h0M358.3,627.7h0M379.1,597.3h0M354.6,618.5h0M389.5,580.9h0M372.3,598.1h0M348.3,654.7h0M375.7,590.2h0M355.5,622.2h0M375.7,613.1h0M369.5,615.4h0M348.7,655.3h0M366.9,607.9h0M363.0,610.0h0M354.3,638.2h0M340.3,645.5h0M362.5,642.7h0M374.3,616.9h0M347.9,634.9h0M384.9,605.4h0M390.5,625.7h0M365.5,614.6h0M353.5,641.2h0M392.2,595.4h0M367.3,624.3h0M378.3,616.1h0M358.5,628.7h0M356.4,634.2h0M360.2,618.7h0M381.1,610.4h0M382.2,606.5h0M363.1,621.6h0M364.3,618.3h0M368.6,613.8h0M353.9,620.4h0M357.5,629.4h0M377.5,613.6h0M364.0,636.7h0M351.7,627.9h0M376.4,577.0h0M348.9,638.6h0M371.5,609.4h0M352.5,620.6h0M350.8,642.8h0M356.0,630.3h0M360.1,616.4h0M368.7,638.6h0M361.5,626.4h0M362.4,619.7h0M345.0,626.8h0M376.2,580.1h0M340.2,641.7h0M379.2,607.9h0M422.1,577.0h0M376.4,601.7h0M356.0,614.9h0M349.4,628.6h0M380.0,590.7h0M386.9,595.9h0M364.1,623.9h0M352.5,625.6h0M378.8,623.0h0M370.3,610.6h0M405.5,577.0h0M389.6,594.7h0M357.0,625.4h0M343.9,635.9h0M357.9,623.4h0M365.2,620.8h0M362.2,614.8h0M348.3,633.5h0M407.5,593.0h0M337.2,644.2h0M356.7,621.7h0M350.4,618.7h0M358.4,629.1h0M360.3,632.3h0M356.1,630.6h0M362.2,624.7h0M362.6,615.5h0M368.4,599.3h0M350.9,634.2h0M394.3,591.3h0M393.4,594.6h0M349.1,630.8h0M348.8,629.8h0M359.1,613.7h0M357.5,631.0h0M359.2,630.5h0M353.8,625.5h0M364.6,630.5h0M360.0,619.3h0M367.1,623.6h0M364.2,613.0h0M356.6,633.7h0M364.6,619.0h0M354.5,629.2h0M359.8,627.0h0M361.2,592.9h0M348.1,628.3h0M385.2,585.7h0M365.4,618.9h0M400.8,577.0h0M356.5,629.9h0M345.0,634.5h0M368.4,608.1h0M367.4,613.1h0M361.0,612.9h0M360.7,610.8h0M361.5,613.1h0M350.8,634.5h0M365.7,595.1h0M362.0,617.9h0M383.5,609.0h0M360.0,624.2h0M366.7,621.6h0M370.0,625.0h0M349.8,631.5h0M357.0,630.0h0M351.8,631.0h0M357.6,631.0h0M355.1,627.5h0M367.7,621.3h0M358.2,626.4h0M365.8,603.7h0M354.1,641.7h0M363.3,613.5h0M352.5,641.5h0M348.3,643.0h0M364.6,607.2h0M344.6,637.5h0M343.6,631.2h0M364.2,613.4h0M369.7,612.7h0M352.4,632.4h0M357.0,640.9h0M380.5,597.0h0M354.0,623.0h0M346.5,611.2h0M389.5,611.4h0M366.2,615.9h0M399.7,594.1h0M365.9,620.0h0M366.9,613.6h0M371.1,582.8h0M379.7,596.1h0M349.6,633.5h0M376.0,577.0h0M368.2,630.7h0M361.0,606.7h0M386.9,584.2h0M366.7,605.6h0M359.8,635.1h0M368.7,610.7h0M361.3,615.5h0M355.1,631.2h0M338.3,651.3h0M352.7,616.7h0M371.3,626.0h0M343.4,640.5h0M376.8,627.3h0M358.7,623.5h0M373.7,630.9h0M376.4,619.1h0M359.1,639.6h0M413.9,580.1h0M371.5,586.6h0M380.6,577.0h0M365.2,600.4h0M345.0,648.2h0M355.8,626.4h0M385.8,578.1h0M343.0,636.8h0M345.9,642.6h0M348.6,616.0h0M366.0,618.8h0M400.3,577.0h0M372.2,624.7h0M385.1,620.4h0M376.6,612.5h0M354.4,628.6h0M357.2,633.4h0M350.6,639.8h0M369.5,628.0h0M383.0,599.4h0M369.0,598.8h0M393.7,595.3h0M394.2,577.0h0M357.1,623.0h0M369.4,626.2h0M354.5,620.7h0M351.3,602.8h0M355.3,621.0h0M354.7,621.3h0M382.2,599.7h0M342.0,599.9h0M352.2,627.4h0M354.5,625.8h0M349.5,636.6h0M365.7,625.6h0M353.9,608.5h0M371.6,635.4h0M353.2,624.4h0M390.5,620.0h0M355.9,627.8h0M354.6,635.8h0M356.8,581.6h0M369.8,614.1h0M355.3,636.7h0M344.1,636.5h0M369.2,615.5h0M348.7,632.3h0M348.0,632.1h0M360.6,614.1h0M366.3,620.2h0M376.1,617.9h0M359.6,624.0h0M363.2,614.1h0M359.2,638.3h0M357.1,629.8h0M371.5,594.4h0M351.0,638.7h0M352.7,635.1h0M348.8,632.1h0M364.5,606.7h0M351.6,632.9h0M352.6,622.2h0M340.6,618.2h0M370.8,598.5h0M348.0,621.5h0M351.0,629.1h0M350.8,628.0h0M368.3,604.9h0M345.2,623.5h0M344.3,630.4h0M344.0,637.4h0M355.8,611.7h0M370.0,628.3h0M386.2,603.8h0" stroke="#000" stroke-width="3.2" stroke-linecap="round" fill="none"/>
</g>
<rect x="316.75" y="572.5" width="116.5" height="86.25" fill="none" stroke="#555" stroke-width="1.2"/>
<line x1="314.75" y1="572.42" x2="316.75" y2="572.42" stroke="#555" stroke-width="0.8"/>
<text x="313.55" y="575.02" font-size="7.3" text-anchor="end" fill="#111" stroke="#111" stroke-width="0.2">1.5</text>
<line x1="314.75" y1="583.95" x2="316.75" y2="583.95" stroke="#555" stroke-width="0.8"/>
<text x="313.55" y="586.55" font-size="7.3" text-anchor="end" fill="#111" stroke="#111" stroke-width="0.2">1</text>
<line x1="314.75" y1="595.48" x2="316.75" y2="595.48" stroke="#555" stroke-width="0.8"/>
<text x="313.55" y="598.08" font-size="7.3" text-anchor="end" fill="#111" stroke="#111" stroke-width="0.2">0.5</text>
<line x1="314.75" y1="607.00" x2="316.75" y2="607.00" stroke="#555" stroke-width="0.8"/>
<text x="313.55" y="609.60" font-size="7.3" text-anchor="end" fill="#111" stroke="#111" stroke-width="0.2">0</text>
<line x1="314.75" y1="618.52" x2="316.75" y2="618.52" stroke="#555" stroke-width="0.8"/>
<text x="313.55" y="621.12" font-size="7.3" text-anchor="end" fill="#111" stroke="#111" stroke-width="0.2">-0.5</text>
<line x1="314.75" y1="630.05" x2="316.75" y2="630.05" stroke="#555" stroke-width="0.8"/>
<text x="313.55" y="632.65" font-size="7.3" text-anchor="end" fill="#111" stroke="#111" stroke-width="0.2">-1</text>
<line x1="314.75" y1="641.58" x2="316.75" y2="641.58" stroke="#555" stroke-width="0.8"/>
<text x="313.55" y="644.18" font-size="7.3" text-anchor="end" fill="#111" stroke="#111" stroke-width="0.2">-1.5</text>
<line x1="314.75" y1="653.10" x2="316.75" y2="653.10" stroke="#555" stroke-width="0.8"/>
<text x="313.55" y="655.70" font-size="7.3" text-anchor="end" fill="#111" stroke="#111" stroke-width="0.2">-2</text>
<line x1="326.40" y1="658.75" x2="326.40" y2="660.95" stroke="#555" stroke-width="0.8"/>
<text x="326.40" y="668.05" font-size="7.3" text-anchor="middle" fill="#111" stroke="#111" stroke-width="0.2">-2</text>
<line x1="354.70" y1="658.75" x2="354.70" y2="660.95" stroke="#555" stroke-width="0.8"/>
<text x="354.70" y="668.05" font-size="7.3" text-anchor="middle" fill="#111" stroke="#111" stroke-width="0.2">-1</text>
<line x1="383.00" y1="658.75" x2="383.00" y2="660.95" stroke="#555" stroke-width="0.8"/>
<text x="383.00" y="668.05" font-size="7.3" text-anchor="middle" fill="#111" stroke="#111" stroke-width="0.2">0</text>
<line x1="411.30" y1="658.75" x2="411.30" y2="660.95" stroke="#555" stroke-width="0.8"/>
<text x="411.30" y="668.05" font-size="7.3" text-anchor="middle" fill="#111" stroke="#111" stroke-width="0.2">1</text>
<line x1="319.32" y1="658.75" x2="319.32" y2="660.15" stroke="#555" stroke-width="0.6"/>
<line x1="326.40" y1="658.75" x2="326.40" y2="660.15" stroke="#555" stroke-width="0.6"/>
<line x1="333.48" y1="658.75" x2="333.48" y2="660.15" stroke="#555" stroke-width="0.6"/>
<line x1="340.55" y1="658.75" x2="340.55" y2="660.15" stroke="#555" stroke-width="0.6"/>
<line x1="347.62" y1="658.75" x2="347.62" y2="660.15" stroke="#555" stroke-width="0.6"/>
<line x1="354.70" y1="658.75" x2="354.70" y2="660.15" stroke="#555" stroke-width="0.6"/>
<line x1="361.77" y1="658.75" x2="361.77" y2="660.15" stroke="#555" stroke-width="0.6"/>
<line x1="368.85" y1="658.75" x2="368.85" y2="660.15" stroke="#555" stroke-width="0.6"/>
<line x1="375.93" y1="658.75" x2="375.93" y2="660.15" stroke="#555" stroke-width="0.6"/>
<line x1="383.00" y1="658.75" x2="383.00" y2="660.15" stroke="#555" stroke-width="0.6"/>
<line x1="390.07" y1="658.75" x2="390.07" y2="660.15" stroke="#555" stroke-width="0.6"/>
<line x1="397.15" y1="658.75" x2="397.15" y2="660.15" stroke="#555" stroke-width="0.6"/>
<line x1="404.23" y1="658.75" x2="404.23" y2="660.15" stroke="#555" stroke-width="0.6"/>
<line x1="411.30" y1="658.75" x2="411.30" y2="660.15" stroke="#555" stroke-width="0.6"/>
<line x1="418.38" y1="658.75" x2="418.38" y2="660.15" stroke="#555" stroke-width="0.6"/>
<line x1="425.45" y1="658.75" x2="425.45" y2="660.15" stroke="#555" stroke-width="0.6"/>
<line x1="432.52" y1="658.75" x2="432.52" y2="660.15" stroke="#555" stroke-width="0.6"/>
<text x="381.7" y="483.7" font-size="6.7" font-weight="bold" fill="#c8283c" textLength="39.5" lengthAdjust="spacingAndGlyphs"><tspan font-style="italic">Mult. r</tspan> = 0.78</text>
<text x="381.70" y="493.00" font-size="6.7" font-weight="bold" fill="#c8283c" textLength="48.70" lengthAdjust="spacingAndGlyphs">for predicted vs.</text>
<text x="381.70" y="502.30" font-size="6.7" font-weight="bold" fill="#c8283c" textLength="43.80" lengthAdjust="spacingAndGlyphs">actual potency</text>
<text x="384.5" y="636" font-size="6.7" font-weight="bold" fill="#c8283c" textLength="38.75" lengthAdjust="spacingAndGlyphs"><tspan font-style="italic">Mult. r</tspan> = 0.77</text>
<text x="384.50" y="645.30" font-size="6.7" font-weight="bold" fill="#c8283c" textLength="48.00" lengthAdjust="spacingAndGlyphs">for predicted vs.</text>
<text x="384.50" y="654.60" font-size="6.7" font-weight="bold" fill="#c8283c" textLength="44.25" lengthAdjust="spacingAndGlyphs">actual potency</text>
<text x="375.4" y="524" font-size="8" font-weight="bold" text-anchor="middle" textLength="100.5" lengthAdjust="spacingAndGlyphs">Log(cell prol. IC<tspan font-size="5.2" dy="1.5">50</tspan><tspan dy="-1.5">) predicted</tspan></text>
<text transform="translate(292.3 467) rotate(-90)" font-size="8" font-weight="bold" text-anchor="middle" textLength="96" lengthAdjust="spacingAndGlyphs">Log(cell prol. IC<tspan font-size="5.2" dy="1.5">50</tspan><tspan dy="-1.5">) actual</tspan></text>
<text x="371.9" y="675.8" font-size="8" font-weight="bold" text-anchor="middle" textLength="110.2" lengthAdjust="spacingAndGlyphs">Log(CTD P-S2. IC<tspan font-size="5.2" dy="1.5">50</tspan><tspan dy="-1.5">)  predicted</tspan></text>
<text transform="translate(299.3 618.5) rotate(-90)" font-size="8" font-weight="bold" text-anchor="middle" textLength="97" lengthAdjust="spacingAndGlyphs">Log(CTD P-S2. IC<tspan font-size="5.2" dy="1.5">50</tspan><tspan dy="-1.5">) actual</tspan></text>
<rect x="300.00" y="528.00" width="130.00" height="9.20" fill="#4a86cf"/>
<rect x="300.00" y="537.00" width="130.00" height="9.40" fill="#e6e2d4"/>
<rect x="300.00" y="546.20" width="130.00" height="9.20" fill="#c9c4a0"/>
<rect x="300.00" y="555.20" width="130.00" height="9.20" fill="#e6e2d4"/>
<text x="302.00" y="534.90" font-size="6.7" font-weight="bold" fill="#14244f">Term</text>
<text x="353.50" y="534.90" font-size="6.7" font-weight="bold" text-anchor="middle" fill="#14244f">Estimate</text>
<text x="386.70" y="534.90" font-size="6.7" font-weight="bold" text-anchor="middle" fill="#14244f">SE</text>
<text x="428.7" y="534.90" font-size="6.7" font-weight="bold" fill="#14244f" text-anchor="end"><tspan font-style="italic">P</tspan> &gt; |t|</text>
<text x="302.00" y="544.00" font-size="6.6" fill="#222">Intercept</text>
<text x="353.50" y="544.00" font-size="6.6" text-anchor="middle" fill="#222">0.526</text>
<text x="386.70" y="544.00" font-size="6.6" text-anchor="middle" fill="#222">0.039</text>
<text x="428.70" y="544.00" font-size="6.6" text-anchor="end" fill="#222">&lt;0.001</text>
<text x="302.00" y="553.10" font-size="6.6" fill="#222">Log CDK7</text>
<text x="353.50" y="553.10" font-size="6.6" text-anchor="middle" fill="#222">0.202</text>
<text x="386.70" y="553.10" font-size="6.6" text-anchor="middle" fill="#222">0.025</text>
<text x="428.70" y="553.10" font-size="6.6" text-anchor="end" fill="#222">&lt;0.001</text>
<text x="302.00" y="562.10" font-size="6.6" fill="#222">Log CDK9</text>
<text x="353.50" y="562.10" font-size="6.6" text-anchor="middle" fill="#222">0.564</text>
<text x="386.70" y="562.10" font-size="6.6" text-anchor="middle" fill="#222">0.025</text>
<text x="428.70" y="562.10" font-size="6.6" text-anchor="end" fill="#222">&lt;0.001</text>
<rect x="308.90" y="679.40" width="124.90" height="8.50" fill="#4a86cf"/>
<rect x="308.90" y="687.70" width="124.90" height="8.80" fill="#e6e2d4"/>
<rect x="308.90" y="696.30" width="124.90" height="9.10" fill="#c9c4a0"/>
<rect x="308.90" y="705.20" width="124.90" height="8.90" fill="#e6e2d4"/>
<text x="310.90" y="685.95" font-size="6.7" font-weight="bold" fill="#14244f">Term</text>
<text x="361.30" y="685.95" font-size="6.7" font-weight="bold" text-anchor="middle" fill="#14244f">Estimate</text>
<text x="388.30" y="685.95" font-size="6.7" font-weight="bold" fill="#14244f">SE</text>
<text x="432.5" y="685.95" font-size="6.7" font-weight="bold" fill="#14244f" text-anchor="end"><tspan font-style="italic">P</tspan> &gt; |t|</text>
<text x="310.90" y="694.40" font-size="6.6" fill="#222">Intercept</text>
<text x="361.30" y="694.40" font-size="6.6" text-anchor="middle" fill="#222">0.572</text>
<text x="387.80" y="694.40" font-size="6.6" fill="#222">0.04</text>
<text x="432.50" y="694.40" font-size="6.6" text-anchor="end" fill="#222">&lt;0.001</text>
<text x="310.90" y="703.15" font-size="6.6" fill="#222">Log CDK7</text>
<text x="361.30" y="703.15" font-size="6.6" text-anchor="middle" fill="#222">0.205</text>
<text x="387.80" y="703.15" font-size="6.6" fill="#222">0.026</text>
<text x="432.50" y="703.15" font-size="6.6" text-anchor="end" fill="#222">&lt;0.001</text>
<text x="310.90" y="711.95" font-size="6.6" fill="#222">Log CDK9</text>
<text x="361.30" y="711.95" font-size="6.6" text-anchor="middle" fill="#222">0.561</text>
<text x="387.80" y="711.95" font-size="6.6" fill="#222">0.025</text>
<text x="432.50" y="711.95" font-size="6.6" text-anchor="end" fill="#222">&lt;0.001</text>
</g>
</svg>
<div class="frame"></div>
</body></html>
